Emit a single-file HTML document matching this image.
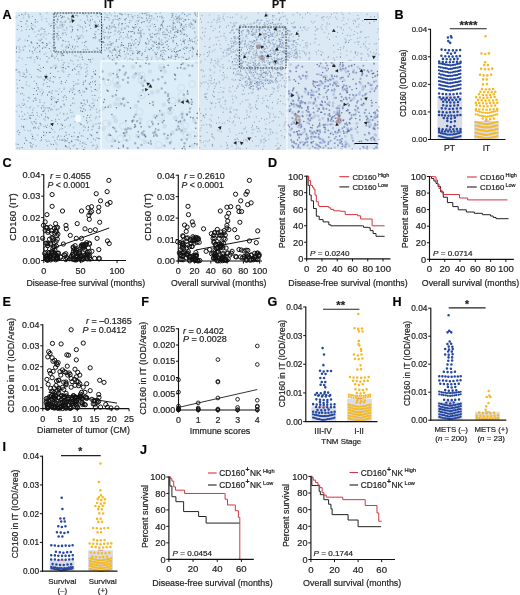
<!DOCTYPE html>
<html><head><meta charset="utf-8"><title>Figure</title>
<style>
html,body{margin:0;padding:0;background:#fff;}
body{width:520px;height:595px;overflow:hidden;}
svg{display:block;}
text{font-family:"Liberation Sans",Arial,sans-serif;fill:#222;stroke:#222;stroke-width:0.2px;}
</style></head><body>
<svg width="520" height="595" viewBox="0 0 520 595">
<defs><filter id="bl" x="-2%" y="-2%" width="104%" height="104%"><feGaussianBlur stdDeviation="0.35"/></filter></defs>
<g filter="url(#bl)">
<rect x="15.5" y="12" width="183" height="138" fill="#d8eaf5"/>
<rect x="198.5" y="12" width="180.5" height="138" fill="#dae9f4"/>
<path d="M29.18 85.92h0M26.56 82.02h0M94.92 22.07h0M93.26 125.78h0M24.48 130.11h0M42.25 28.64h0M164.53 37.26h0M27.43 20.67h0M43.66 79.49h0M175.34 55.48h0M136.88 20.81h0M20.11 75.75h0M39.54 46.42h0M174.6 23.54h0M173.25 50.64h0M43.47 36.64h0M63.82 13.06h0M139.07 19.9h0M87.41 67.16h0M131.44 21.03h0M53.99 34.74h0M25.57 12.53h0M34.47 62.31h0M61.91 60.09h0M100.81 78.79h0M34.6 59.44h0M166.85 34.62h0M114.86 16.2h0M63.52 62.74h0M21.08 50.78h0M82.36 42.7h0M159.62 58.05h0M162.78 32.53h0M115.86 30.44h0M166.36 41.41h0M69.32 45.45h0M63.2 69.9h0M181.62 60.97h0M111.28 15.06h0M117.28 57.16h0M117.97 46.54h0M40.96 29.16h0M29.2 45.47h0M55.96 142.99h0M77.72 39.32h0M147.43 15.17h0M96.16 14.98h0M35.07 48.88h0M157.78 49.55h0M26.47 106.78h0M161.9 23.97h0M28.13 130.7h0M64.75 30.2h0M59.4 27.49h0M25.17 40.14h0M71.51 116.55h0M107.02 36.87h0M19.31 46.81h0M89.65 60.11h0M62.52 34.86h0M67.31 45.68h0M99.62 34.08h0M72.34 61.35h0M52.58 81.65h0M64.08 24.8h0M23.58 15.58h0M195.22 32.98h0M133.07 18.5h0M163.82 31.59h0M21.67 30.73h0M105.05 12.95h0M135.99 21.55h0M61.9 22.7h0M148.74 40.61h0M71.4 90.28h0M37.57 134.93h0M97.8 49.31h0M188.1 41.37h0M16.65 79.86h0M70.96 31.78h0M73.53 127.61h0M68.75 63.49h0M93.91 50.2h0M34.51 126.85h0M186.28 46.66h0M109 38.51h0M133.3 51.71h0M184.67 29.94h0M193.69 48.14h0M70.75 88.85h0M46.45 34.65h0M41.41 38.86h0M78.24 24.98h0M173.04 42.09h0M61.22 67.27h0M61.22 27.44h0M99.23 88.06h0M158.38 44.36h0M133.48 54.12h0M125.39 13.93h0M71.95 15.48h0M22.21 58.81h0M140.23 39.64h0M192.51 55.21h0M69.68 142.91h0M50.09 43.1h0M41.83 19.6h0M151.83 16.87h0M84.91 63.72h0M46.81 12.89h0M79.97 143.41h0M191.5 40.91h0M24.96 77.36h0M183.35 38.94h0M179.25 16.65h0M128.29 48.42h0M73.6 50.26h0M187.67 15.82h0M86.35 46.89h0M61.01 21.37h0M31.3 25.71h0M38.05 127.7h0M52.25 46.4h0M108.33 44.2h0M182.42 18.03h0M83.1 31.87h0M53.03 14.06h0M139.45 37.86h0M27.52 26.39h0M45.79 107.77h0M72.85 90.11h0M93.12 124.89h0M181.58 24.7h0M83.49 81.61h0M191.97 39.54h0M25.71 139.38h0M45.17 120.16h0M49.3 42.38h0M22.94 127.33h0M93.48 102.76h0M105.09 44.73h0M102.13 27.17h0M94.37 25.06h0M108.85 18.09h0M109.09 19.93h0M84.77 142.77h0M44.9 135.33h0M164.44 32.17h0M183.42 41.04h0M108.09 56.21h0M158.85 28.27h0M87.75 121.78h0M151.33 19.12h0M16.33 17.13h0M178.99 30.59h0M134.87 15.55h0M80.6 27.07h0M53.16 97.98h0M40.52 140.81h0M61.23 136.28h0M26.63 119.21h0M72.31 53.64h0M100.68 114.12h0M57.12 26.92h0M64.41 88.37h0M176.17 14.59h0M151.8 57.28h0M54.58 97.8h0M181.76 32.31h0M35.42 139.77h0M41.82 16.44h0M150.09 21.51h0M178.21 21.53h0M53.44 27.84h0M53.31 56.22h0M19.81 47.67h0M128.53 16.74h0M95.43 118.4h0M172.93 24.95h0M47.01 12.68h0M49.58 80.26h0M167.39 48.2h0M106.69 27.56h0M31.68 134.22h0M79.42 57.25h0M121.41 29.77h0M177.09 45.1h0M44.14 33.87h0M75.43 84.04h0M51.71 99.9h0M53.57 65.7h0M41.81 95.21h0M72.97 98.57h0M130.59 46.76h0M98.85 97.65h0M114.89 34.54h0M54.24 106.26h0M80.7 20.26h0M88.74 14.32h0M92.54 108.16h0M57.13 144.55h0M101.19 52.82h0M38.78 126.72h0M170.82 49.14h0M62.15 70.88h0M16.49 111.39h0M60.58 53.85h0M158.69 31.74h0M131.24 14.55h0M34.48 32.05h0M157.29 59.96h0M168.66 39.54h0M58.62 31.59h0M26.64 76.49h0M173.04 13.41h0M190.83 22.83h0M131.77 16.41h0M179.36 17.14h0M129.8 58.89h0M156.24 41.37h0M69.3 125.9h0M107.68 49.72h0M76.22 55.94h0M115.26 19.31h0M139.94 41.61h0M99.33 116.99h0M62.96 53.88h0M185.96 19.98h0M54.63 33.29h0M16.87 106.18h0M191.88 24.58h0M60.09 113h0M146.53 14.06h0M72.61 112.43h0M82.9 91.27h0M139.19 32.35h0M125.41 54.78h0M67.56 12.73h0M177.51 18.29h0M100.69 40.8h0M123.26 38.41h0M48.89 108.55h0M159.3 33.89h0M78.78 83.67h0M62.23 17.69h0M48.89 23.96h0M190.59 47.74h0M87.55 73.92h0M23.03 47.55h0M139.19 53.43h0M153.94 26.94h0M62.78 29.51h0M46.68 45.17h0M139.33 14.23h0M177.74 31.65h0M41.98 42.87h0M174.47 49h0M76.88 35.49h0M73.89 136.23h0M194.11 20.29h0M137.63 41.43h0M68.09 47.82h0M184.36 25.87h0M179.11 20.38h0M69.42 146.57h0M162.88 59.2h0M55.72 90.77h0M51.8 23.36h0M27.96 112.88h0M147.34 20.09h0M105.73 14.62h0M49.86 126.43h0M16.84 83.72h0M109.84 29.05h0M56.71 37.49h0M61.58 124.45h0M33.56 108.26h0M66.89 29.22h0M157.4 58.88h0M170.27 19.84h0M92.83 99.18h0M112.61 21.99h0M107.87 15.35h0M177 17.21h0M64.37 105.45h0M61.61 83.78h0M189.06 51.89h0M133.85 28.99h0M100.89 85.63h0M38.55 30.5h0M89.99 52h0M52.62 109.82h0M72.51 45.69h0M59.41 88.76h0M67.84 147.79h0M156.53 34.22h0M150.43 33.67h0M182.48 29.94h0M99.34 111.56h0M87.1 88.58h0M71.33 32.36h0M121.85 24.55h0M190.49 40.49h0M181.72 13.96h0M111.6 26.06h0M107.89 38.27h0M90.88 120.41h0M141.71 13.04h0M35.41 26.21h0M162.8 21.01h0M156.25 56.73h0M80.4 35.71h0M79.5 74.13h0M171.56 55.63h0M164.49 54.1h0M47.57 61.6h0M192.82 52.33h0M36.91 85.62h0M89.38 21.47h0M166.3 60.62h0M50.8 51.35h0M22.35 103.51h0M44.37 109.2h0M65.08 126.9h0M84.59 143.8h0M54.68 132.02h0M119.32 55.08h0M74.43 103.3h0M70.05 21.53h0M40.05 50.38h0M61.21 128.5h0M130.45 37.39h0M23.36 17.98h0M52.05 54.02h0M146.43 47.4h0M140.55 60.32h0M24.62 45.99h0M160.04 41.29h0M152.41 24.3h0M39.23 116.88h0M115 46.71h0M81.12 68.89h0M138 45.09h0M41.82 89.67h0M36.84 52.14h0M53.57 20.77h0M51.87 108.62h0M36.56 56.95h0M82.06 35.53h0M118.58 27.41h0M95.03 38.5h0M61.76 46.2h0M83.21 126.4h0M30.6 106.75h0M96.66 145.36h0M23.27 72.71h0M147.58 12.88h0M92.66 58.9h0M45.93 53.02h0M118.53 60.19h0M31.48 56.85h0M163.63 20.72h0M126.87 53.19h0M83.71 92.07h0M115.76 27.88h0M62.14 25.51h0M57.23 90.96h0M90.26 22.57h0M147.33 26.49h0M157.26 20.38h0M83.77 14.58h0M174.48 35.52h0M166.26 29.31h0M23.92 95.22h0M121.81 28.06h0M36.1 122.19h0M116.87 52.23h0M188.68 14.39h0M161.68 17.36h0M102.59 34.18h0" stroke="#b9cddc" stroke-width="2" stroke-linecap="round" stroke-opacity="0.85"/>
<path d="M29.81 57.61h0M46.89 61.95h0M17.09 91.85h0M65.63 49.95h0M58.74 60.35h0M17.32 131.82h0M97.08 90.42h0M46.74 21.59h0M186.61 59.14h0M122.17 23.46h0M66.21 47.78h0M55.73 67.24h0M125.39 23.37h0M175.34 59.24h0M89.77 105.52h0M26.46 69.26h0M129.99 58.33h0M124.81 47.71h0M195.73 20.17h0M147.79 57.6h0M32.36 124.02h0M150.88 47.82h0M40 13.74h0M196.09 43.76h0M32.36 16.33h0M49.09 141.25h0M183.71 34.7h0M180.44 27.27h0M27.91 100.93h0M173.26 20.72h0M130.14 43.2h0M63.74 71.93h0M70.32 148.72h0M119.65 33.97h0M174.21 49.12h0M165.76 51.21h0M173.13 37.47h0M197.06 53.27h0M36.3 145.98h0M181.91 33.16h0M141.48 17.69h0M58.16 71.48h0M19.63 148.24h0M175.9 29h0M40.72 71.2h0M140.74 32.77h0M107.13 27.89h0M149.11 49.9h0M64.17 21.94h0M92.29 145.79h0M86.15 68.67h0M197.7 13.22h0M184.58 47.39h0M84.61 45.48h0M181.35 19.28h0M73.44 145.61h0M127.48 48.8h0M102.74 42.81h0M47.37 125.1h0M173.94 18.43h0M44 46.95h0M98.41 24.56h0M43.28 105.68h0M110.77 45.06h0M77.9 64.72h0M52.56 90.67h0M48.47 110.89h0M163.57 60.77h0M137.14 57.63h0M20.66 93.71h0M100.12 127.52h0M118.72 20.04h0M17.1 147.95h0M63.75 55.39h0M92.48 19.51h0M62.79 40.18h0M161.86 39.94h0M117.22 19.51h0M96.97 132.79h0M94.94 100.08h0M173 22.35h0M138.84 52.9h0M168.57 32.47h0M53.66 26.32h0M135.92 47.79h0M140.84 33.71h0M142.62 18.22h0M69.44 44.38h0M74.01 89.3h0M181.97 56.94h0M87.25 17.01h0M132.62 43.1h0M94.23 105.51h0M166.79 29.23h0M114.41 24.62h0M57.35 139.17h0M76.63 74.1h0M151.11 37h0M70.28 22.01h0M109.43 25.82h0M40.02 91.68h0M84.2 103.35h0M46.88 141.49h0M37.4 76.59h0M51.98 67.81h0M152.51 33.55h0M69.14 134.5h0M121.29 44.55h0M164.27 59.36h0M100.05 138.66h0M139.54 33.22h0M41.55 39.65h0M131.82 39.77h0M146.57 60.34h0M159.32 47.02h0M58.24 39.63h0M160.32 13.12h0M92.2 95.35h0M77.05 41.77h0M37.97 106.06h0M165.77 37.72h0M167.17 34.72h0M98.73 123.39h0M80.12 26.32h0M29.81 97.99h0M82.2 146.24h0M178.24 32.3h0M120.97 18.89h0M154.77 52.39h0M66.5 34.68h0M45.51 113.65h0M72.78 19.83h0M51.92 56.46h0M35.73 48.15h0M86.16 144.51h0M53.12 137h0M152.98 50.23h0M130.7 48.08h0M80.37 141.27h0M60.29 22.07h0M163.01 27.74h0M87.45 122.89h0M40.31 58.91h0M120.42 50.01h0M127.45 50.19h0M54.78 43.17h0M81.47 108.32h0M168.62 57.04h0M130.52 31.51h0M162.94 17.93h0M55.65 121.21h0M21.55 119.1h0M195.5 22.28h0M50.56 67.69h0M146.95 21.09h0M130.69 48.64h0M71.65 18.56h0M98.82 26.49h0M44.01 119.01h0M54.09 47.02h0M40.36 14.26h0M85.64 26.75h0M38.98 39.89h0M25.79 76.98h0M162.1 17.71h0M59.76 140h0M183.31 48.52h0M19.32 116.23h0M162.89 34.81h0M182.78 12.81h0M68.96 66.88h0M151.59 15.8h0M134.31 40.88h0M155.92 13.45h0M175.82 37.13h0M96.4 109.29h0M70.7 60.24h0M65.9 46.72h0M183.6 57.53h0M112.83 26.87h0M73.09 98.4h0M196.13 36.65h0M153.07 46.54h0M21.04 107.19h0M142.47 54.13h0M28.18 14.49h0M41.89 27.96h0M156.04 36.87h0M96.98 112.28h0M185.68 59.4h0M21.59 126.04h0M66.53 13.84h0M180.69 34.15h0M56.63 21.38h0M82.18 111.5h0M159.41 46.98h0M111.2 27.77h0M160.87 51.58h0M155.19 43.19h0M55.86 65.13h0M58.74 16.53h0M33.06 28.63h0M47.63 44.11h0M37.53 21.8h0M172.14 27.58h0M111.52 45.34h0M173.37 41.6h0M64.29 139.1h0M149.1 22.7h0M103.65 37.16h0M134.51 32.37h0M82.93 136.17h0M30.92 42.22h0M95.9 31.75h0M89.16 105.54h0M188.61 44.43h0M74.56 68.26h0M137.7 15.64h0M45.5 125.94h0M126.57 47.83h0M58.64 35.45h0M64.95 141.56h0M25.39 137.82h0M19.19 52.18h0M119.8 37.37h0M62.53 44.91h0M159 44.41h0M190.34 40.88h0M155.57 29.98h0M55.12 48.95h0M40.75 68.14h0M95.57 36.53h0M19.21 105.11h0M155.45 53.72h0M65.58 22.1h0M47.53 107.84h0M195.67 15.15h0M77.03 84.06h0M91.96 78.1h0M26.01 24h0M78.19 79.88h0M44.01 107.39h0M146.5 43.93h0M161.96 25.41h0M160.01 44.18h0M51.08 92.3h0M131.38 45.51h0M21.62 111.74h0M72.63 103.26h0M160.57 54.93h0M147.26 20.12h0M100.04 39.59h0M35.33 22.1h0M104 47.11h0M56.38 56.1h0M128.61 26.88h0M131.9 50.67h0M100.79 97.35h0M95.6 24.24h0M33.12 144.5h0M68.42 117.71h0M35.39 22.18h0M47.61 117.3h0M77.52 29.39h0M192.86 28.53h0M149.59 30.26h0M190.4 27.16h0M77.67 46.47h0M171.52 56.51h0M151.54 59.3h0M120.63 13.93h0M64.41 62.62h0M80.22 64.32h0M57.34 137.11h0M163.97 47.19h0M85.28 127.54h0M114.12 58.59h0M175.95 31.56h0M77.96 46.66h0M57.33 22.18h0M150.88 39.69h0M142.65 29.61h0M22.35 93.45h0M161.91 42.5h0M184.16 40.91h0M117.91 32.18h0M63.16 50.31h0M152.2 44.98h0M110.04 36.54h0M180.55 40.17h0M145.32 49.84h0M184.37 19.7h0M96.56 24.33h0M52.19 34.59h0M128.51 54.04h0M55.77 24.14h0M73.47 81.62h0M52.03 93.6h0M120.21 13.38h0M161.69 16.16h0M159.05 48.2h0M114.09 50.29h0M165.5 34.45h0M19.96 38.96h0M162.61 32.62h0M26.18 29.52h0M48.74 33.36h0M150.17 20.57h0M139.89 17.1h0M109.7 13.27h0M73.57 64.09h0M73.93 116.29h0M127.18 34.21h0M104.95 50.19h0M185.87 24.46h0M34.73 50.4h0M55.04 102.14h0M102.04 28.75h0M42.37 105.6h0M39.87 99.75h0M61.34 124.15h0M102.98 24.4h0M178.57 17.21h0M78.47 140.29h0M40.87 124.11h0M49.84 81.02h0M45.81 139.9h0M159.03 46.78h0M184.03 34.49h0M40.95 76.93h0M194.66 31.73h0M73.12 16.43h0M81.58 95.36h0M53.45 82.02h0M145.8 12.74h0M93.63 145.26h0M119.46 13.71h0M18.38 40.27h0M167.48 26.43h0M74.88 144.9h0M142.93 21.72h0M194.58 27.64h0M65.21 32.77h0M81.34 135.81h0M41.78 34.17h0M91.11 86.97h0M26.57 70.4h0M153.74 45.64h0M59.95 25.18h0M125.93 37.29h0M30.95 57.93h0M44.16 54.33h0M46.21 18.72h0M129.78 20.5h0M32.65 136.16h0M56.54 67.08h0M94.39 33.84h0M34.18 81.32h0M51.31 104.27h0M163.2 52.5h0M104.03 29.91h0M36.55 56.62h0M66.4 146.51h0M85.27 104.5h0M197.34 56.11h0M118.99 39.43h0M103.9 58.72h0M92.22 103.49h0M112.79 50.28h0M84.28 52.28h0M149.06 41.67h0M81.15 54.48h0M65.65 20.84h0M57.73 58.66h0M83.21 49.47h0M73.16 145.97h0M171.2 57.92h0M124.34 47.47h0M86.99 64.46h0M83.66 116.79h0M181.49 44.47h0M120.59 56.61h0M108.83 29.26h0M72.66 69.55h0M59.75 129.85h0M25.9 64.6h0M96.16 148.54h0M100.06 41.61h0M33.02 24.96h0M94.73 82.07h0M46.8 82.45h0M83.67 130.48h0M31.37 143.37h0M81.68 67.58h0M99.22 126.47h0M149.5 16.44h0M63.09 100.81h0M127.57 36.02h0M73.15 87.94h0M134.81 27.09h0M148.51 49.16h0M18.87 134.47h0M172.96 40.32h0M77.67 16.07h0M37.99 34.38h0M160.84 50.99h0M61.1 107.72h0M89.9 84.38h0M159.23 39.61h0M80.3 123.81h0M66.23 99.58h0M84.59 91.77h0M157.46 52.51h0M50.42 26.3h0M108.74 32.93h0M49.3 91.61h0M185.25 39.8h0M55.61 119.51h0M148.3 43.77h0M25.19 46.53h0M61.99 24.32h0M61.57 53.62h0M36.76 43.11h0M22.67 116.2h0M89.95 134.61h0M120.62 46.08h0M173.38 23.44h0M101.54 30.44h0M19.99 73h0M124.69 58.63h0M138 51.81h0M37.03 112.67h0M186.4 15.95h0M83.1 37.12h0M85.72 72.14h0M192.32 56.58h0M66.74 27.51h0M97.71 132.23h0M96.17 117.01h0M43.78 83.64h0M96.87 137.94h0M184.19 27.46h0M146.29 15.15h0M39.05 77.35h0M43.5 42.98h0M40.92 125h0M24.54 114.18h0M173.12 26.26h0M66.56 80.57h0M95.55 51.08h0M31.57 122.26h0M57.66 28.25h0M91.03 134.78h0M187.68 47.73h0M30.47 130.77h0M63.16 96.92h0M100.18 110.26h0M136.24 26.82h0M50.78 144.04h0M64.72 120.38h0M54.59 58.61h0M44.17 110.73h0M170.32 57.59h0M71.08 49.15h0M18.2 72.17h0M18.3 130.53h0M16.08 144.07h0M62.04 15.83h0M38.68 128.7h0M114.24 48.92h0M75.35 139.61h0M100.05 116.57h0M39.23 31.1h0M47.57 145.64h0M29.83 74.5h0M122.7 45.08h0M107.98 56.75h0M197.37 40.25h0M18.19 25.35h0M121.63 14.22h0M63.62 97.54h0M154.05 18.77h0M137.03 50.39h0M74.31 132.56h0M159.83 16.73h0M161.66 45.12h0M126.22 57.09h0M60.99 83.2h0M78.98 122.57h0M19.39 49.59h0M186.42 34.85h0M27.69 57.64h0M121.63 29.19h0M108.33 32.11h0M165.38 42.2h0M163.49 43.89h0M119.17 50.26h0M114.79 31.04h0M177.84 45.69h0M138.52 29.19h0M155.47 54.47h0M67.29 118.21h0M164.39 34.37h0M79.52 133.04h0M29.36 115.64h0M137.53 23.93h0M97.82 16.76h0M39.15 65.25h0M67.36 113.77h0M63.07 26.63h0M155.86 33.95h0M109.72 51.92h0M84.11 126.03h0M32.2 146.49h0M82.53 27.22h0M61.51 55.71h0M53.67 19.86h0M59.02 119.4h0M70.95 21.67h0M135.09 43.24h0M104.65 17.18h0M129.85 50.75h0M58.39 37.97h0M58.28 108.99h0M84.9 147.65h0M175.67 16.58h0M86.67 117.97h0M156.36 42.38h0M51.99 55.07h0M121.12 36.19h0M37.25 115.42h0M118.13 47.42h0M190.08 14.3h0M74.43 39.69h0M179.47 15.77h0M65.56 41.56h0M82.83 28.88h0M61.51 91.73h0M147.78 59.56h0M126.72 26.01h0M177.45 17.1h0M51 98.33h0M194.82 38.21h0M23.5 50.06h0M43.1 84.87h0M160.65 25.7h0M172.7 29.84h0M190.43 26.52h0M147.63 55.98h0M90.73 115.35h0M115.21 15.95h0M190.12 23.8h0M164.28 50.2h0M184.05 49.56h0M91.22 142.17h0M149.17 18.29h0M19.02 57.5h0M38.56 69.79h0M70.9 112.39h0M39.47 70.84h0M94.67 89.35h0M87.19 70.98h0M192.88 24.88h0M68.04 76.24h0M172.15 28.17h0M128.22 26.16h0M148.91 29.18h0M78.36 90.99h0M96.01 123.93h0M147.06 57.8h0M189.23 57.36h0M132.15 59.43h0M38.61 89.29h0M109.78 47.39h0M66.17 119.68h0M46.11 38.85h0M54.89 58.02h0M93.44 138.71h0M85.4 49.7h0M99.85 84.65h0M114.89 12.83h0M94.83 21.95h0M75.48 46.55h0M135.01 28.05h0M62.6 128.63h0M70.07 26.31h0M140.09 51.15h0M31.79 147.42h0M127.46 60.44h0M95.35 140.01h0M108.94 37.11h0M36.17 36.35h0M23.63 126.33h0M158.31 30.15h0M44.26 102.78h0M40.35 35.06h0M37.4 47.49h0M175.27 56.62h0M113.95 26.32h0M43.97 126.47h0M163.8 59.04h0M80.29 107.5h0M161.76 54.31h0M51.51 144.6h0M32.38 138.52h0M25.41 13.96h0M157.76 33.41h0M156.2 33.91h0M170.68 32.89h0M74.58 48.27h0M29.7 29.44h0M56.37 15.71h0M26.28 84.86h0M68.04 17.99h0M128.15 38h0M104.88 36.58h0M17.14 60.9h0M124.78 27.89h0M77.53 136.97h0M186.46 26.73h0M64.01 89.31h0M175.62 47.67h0M33.3 138.55h0M142.77 60.23h0M172.32 15.87h0M120.63 32.54h0M95.96 37.85h0M32.81 110.21h0M176.45 36.41h0M19.37 71.62h0M29.66 107.65h0M75.03 55.77h0M74.97 121.6h0M34.48 98.42h0M183.1 26.9h0M93.04 37.99h0M117.33 57.51h0M173.72 40.36h0M195.11 21.44h0M28.98 17.51h0M52.81 129.79h0M114.62 48.53h0M16.73 46.69h0M35.85 119.26h0M130.78 55.34h0M77.97 60.3h0M16.77 69.7h0M160.1 29.05h0M109.94 44.64h0M37.91 57.02h0" stroke="#8ca3b8" stroke-width="1.4" stroke-linecap="round" stroke-opacity="0.85"/>
<path d="M30.94 115.33h0M26.98 72.08h0M177.56 54.87h0M119.19 23.02h0M72.66 29.39h0M128.69 43.66h0M87.84 49.35h0M160.22 29.86h0M56.46 102.65h0M19.63 80.2h0M63.12 64.86h0M16.45 48.12h0M75.01 69.29h0M58.46 135.88h0M84.79 21.93h0M29.83 117.9h0M186.36 48.13h0M138.55 44.51h0M34.24 121.64h0M152.94 41.24h0M46.83 45.62h0M135.42 24.52h0M30.63 118.37h0M154.32 42.15h0M56.25 109.73h0M64.03 104.18h0M72.11 26.92h0M28.84 36.02h0M86.71 30.8h0M40.15 40.74h0M67.62 138.29h0M66.16 134.96h0M62.92 33.14h0M174.67 35.06h0M99.76 76.89h0M195.25 21.94h0M180.71 31.49h0M159 37.99h0M195.21 14.11h0M33.29 115.32h0M184.43 43.1h0M57.42 19.03h0M80.57 110.7h0M35.31 19.68h0M173.33 29.54h0M125.02 28.71h0M172.12 13.91h0M193.03 48.42h0M173.74 27.76h0M56.51 101.97h0M121.74 45.19h0M48.97 92.24h0M108.38 55.53h0M68.55 47.57h0M112.92 43.1h0M55.51 47.65h0M110.19 51.04h0M154.76 24.46h0M107.07 17.4h0M144.24 13.52h0M175.46 26.91h0M49.07 57.98h0M99.74 50.25h0M146.08 43.8h0M65.41 145.61h0M156.48 54.37h0M49.31 107.78h0M85.89 88.15h0M171.64 51.27h0M90.74 62.04h0M106.52 47.95h0M137.98 59.21h0M109.63 26.79h0M185.53 19.72h0M178.93 57.24h0M51.5 99.51h0M26.76 20.95h0M30.06 142.65h0M190.2 50.49h0M103.1 31.83h0M26.75 140.6h0M176.95 18.69h0M42.58 48.17h0M89.23 83.84h0M189.46 38.58h0M23.19 105.2h0M184.76 53.62h0M73.78 85.58h0M31.63 27.88h0M78.04 136.9h0M60.73 37.56h0M83.97 100.03h0M83.71 82.77h0M95.41 70.7h0M115.75 50.14h0M69.5 91.52h0M167.19 41.13h0M116.99 57.11h0M52.97 37.9h0M162.05 44.31h0M106.44 27.94h0M92.5 81.74h0M116.55 39.93h0M149.84 34.79h0M19.12 15.49h0M23.64 126.91h0M55.45 68.13h0M121.72 42.51h0M188.89 58.83h0M21.79 14.33h0M33.71 127.88h0M176.55 43.33h0M90.95 107.03h0M114.82 60.92h0M173.63 37.62h0M81.84 103.22h0M18.16 144.34h0M27.64 40.64h0M65.43 82.52h0M71.76 136.43h0M58.45 94.37h0M115.83 54.89h0M163.49 21.07h0M66.54 97.26h0M46.65 127.35h0M82.75 142.93h0M189.86 40.03h0M154.68 34.61h0M17.28 29.48h0M31.37 77.05h0M169.52 35.95h0M46.93 56.47h0M51.68 96.63h0M131.05 45.17h0M146.08 57.57h0M108.86 48.06h0M63.22 40.75h0M149.84 49.34h0M36.49 83.59h0M138.07 52.14h0M129.32 22.46h0M176.99 54.2h0M168.31 46.52h0M53.44 76.54h0M62.41 125.4h0M62.8 140.12h0M139.92 27.62h0M50.9 109.87h0M111.91 22.9h0M77.86 29.99h0M59.82 77.58h0M24.15 74.13h0M177.78 30.14h0M160.63 55.72h0M72.41 70.25h0M138.48 21.07h0M64.92 95.79h0M178.04 51.15h0M183.35 29.75h0M196.64 54.11h0M61.44 81.33h0M44.14 29.37h0M32.54 29.25h0M70.57 124.85h0M24.47 143.29h0M33.19 101.05h0M102.74 41.54h0M109.96 41.77h0M63.15 55.46h0M184.28 34.37h0M162.28 56.34h0M83.2 13.45h0M77.93 36.78h0M39.99 101.97h0M60.95 106.46h0M175.85 52.76h0M42.36 93.57h0M152.36 37.12h0M23.15 88.04h0M45.02 31.75h0M162.61 26.01h0M143.98 33.72h0M23.05 76.41h0M142.41 13.77h0M21.98 87.48h0M77 66.5h0M99.07 128.35h0M36.58 90.64h0M181.55 24.73h0M173.86 23.07h0M160.74 28.51h0M186.87 59.42h0M42.47 42.58h0M16.03 69.85h0M40.06 123.3h0M89.67 25.14h0M83.78 149.44h0M95.47 84.65h0M118.68 24.84h0M85.39 110.01h0M128.3 14.69h0M19.79 132.56h0M171.77 17.27h0M141.1 37.04h0M192.32 47.17h0M92.13 76.56h0M29.58 50.82h0M118.68 55.2h0M23.78 99.73h0M51.95 120.62h0M99.56 21.06h0M184.42 14.36h0M77.05 148.69h0M37.4 43.3h0M46.54 132.63h0M77.19 139.79h0M103.92 42.4h0M39.74 51.63h0M112.39 55.61h0M188.75 19.33h0M41.4 114.86h0M162.16 58.79h0M183.72 21.23h0M98.16 29.58h0M95.48 74.33h0M70.24 109.95h0M41.53 137.42h0M111.96 52.82h0M88.17 130.01h0M111.2 43.68h0M177.19 22.01h0M182.57 28.45h0M83.22 84.58h0M168.63 49.48h0M87.44 101.87h0M91.05 16.24h0M47.69 78.95h0M57.85 101.56h0M65.23 140.14h0M69.41 91.7h0M56.94 35.93h0M29 16.09h0M72.41 30.84h0M177.08 31.7h0M28.25 97.24h0M56.22 149.01h0M196.75 54.62h0M94.88 95.34h0M48.29 118.16h0M70.74 105.37h0M197.37 50.9h0M82.7 59.37h0M85.51 80.9h0M97.38 100.22h0M49.61 86.72h0M63.78 113.89h0M167.13 30.56h0M72.53 46.93h0M187.05 36.06h0M83.89 100.18h0M137.91 33.1h0M24.75 104.12h0M90.53 20.13h0M88.38 127.14h0M78.72 71.84h0M50.18 77.92h0M104.53 38.19h0M139.35 42.81h0M99.21 40.07h0M189.06 25.01h0M51.56 128.26h0M104.7 19.63h0M151.44 48.5h0M124.79 19.25h0M122.2 14.7h0M55.95 16.38h0M47.74 86.51h0M100.55 14.17h0M62.14 25.03h0M43.47 67.41h0M175.41 56.85h0M191.66 24.02h0M62.45 16.8h0M41.58 139.82h0M94.97 26.94h0M68.95 142.45h0M193.05 49.5h0M179.67 22.78h0M124.36 51.39h0M51.25 25.54h0M115.03 27.05h0M93.95 37.52h0M71.7 140.89h0M56.15 101.65h0M133.06 60.04h0M180.1 18.75h0M135.93 39.4h0M140.95 35.14h0M83.79 108.94h0M46.31 75h0M102.35 26.06h0M54.77 140.7h0M128.5 45.89h0M176.01 19.77h0M35.36 127.86h0M69.1 74.36h0M51.86 56h0M119.27 18.44h0M138.41 30.35h0M37.56 58.47h0M197.14 15.97h0M33.45 94.46h0M64.39 136.22h0M91.77 135.65h0M110.79 32.37h0M68.93 19.01h0M76.01 15.4h0M170.67 31.07h0M169.87 26.08h0M51.19 124.04h0M56.91 14.18h0M125.17 19.95h0M62.68 67.77h0M144.96 51.54h0M107.68 44.98h0M79.51 90.62h0M86.55 89.16h0M49.28 132.37h0M180.94 25.51h0M176.78 56.21h0M35.93 100.13h0M142.2 53.24h0M163.18 47.62h0M57.29 115h0M194.91 12.84h0M113.12 19.88h0M43.25 92h0M85.48 76.26h0M30.69 145.81h0M56.6 51.05h0M81.12 124.39h0M87.12 100.02h0M91.93 129.77h0M112.48 59.87h0M82.83 105.67h0M114.7 49.45h0M128.55 31.67h0M95.14 81.09h0M100.81 122.6h0M90.74 28.25h0M21.45 26.62h0M179.03 18.99h0M33.04 53.04h0M68.71 41.71h0M162.92 50.23h0M113.12 60.71h0M101.8 38.15h0M89.71 117.48h0M43.56 135.22h0M177.52 32.37h0M123.48 45.47h0M140.88 30.9h0M122.07 23.66h0M98.83 138.43h0M44.29 80.01h0M86.51 120.21h0M192.6 41.57h0M167.02 44.55h0M65.84 68.55h0M184.32 34.29h0M63.55 67.53h0M87.68 115.42h0M133.52 27.57h0M57.7 123.74h0M96.73 132.73h0M97.66 146.81h0M82.17 57.09h0M144.21 21.61h0M146.5 18.08h0M90.27 59.58h0M156.99 47.39h0M150.88 36.9h0M58.09 99.41h0M123.3 32.47h0M133.8 44.89h0M78.7 38.69h0M105.12 32.29h0M149.26 15.06h0M90.24 109.78h0M103.08 41.67h0M58.01 19.69h0M145.61 42.63h0M95.52 74.62h0M41.37 107.89h0M45.67 116.94h0M43.77 132.13h0M57.72 34.03h0M157.53 16.75h0M95.51 25.36h0M174.49 51.55h0M92.95 126.7h0M60.55 15.32h0M116.12 41.51h0M131.19 36.17h0M119.87 52.96h0M80.01 92.71h0M100.66 92.02h0M37.6 69.25h0M95.08 34.47h0M156.66 44.48h0M147.52 38.7h0M119.02 31.11h0M79.97 66.78h0M176.58 51.58h0M119.28 51.44h0M62.51 53.68h0M37.41 94.08h0M31.91 43.06h0M32.54 136.53h0M180.46 50.09h0M183.01 41.78h0M94.9 73.88h0M65.94 132.35h0M70.93 12.7h0M66.99 140.83h0M139.5 51.69h0M49.29 48.57h0M119.9 55.6h0M17.71 88.08h0M117.43 16.01h0M46.59 43.52h0M168.71 57.33h0M146.33 60.68h0M34.18 88.31h0M67.35 53.26h0M79.9 37.88h0M32.25 51.47h0M91.65 91h0M38 87.69h0M22.14 147.59h0M61.76 140.03h0M31.38 42.01h0M16.43 51.88h0M197.74 54.32h0M71.38 36.97h0M93.6 71.73h0M61.28 17.74h0M126.12 18.57h0M97.12 48.07h0M86.93 15.73h0M68.12 66.58h0M64.04 16.82h0M72.61 92.21h0M137.41 53.44h0M174.79 32.24h0M45.86 47.57h0M39.24 45.65h0M80.98 102.81h0M112.04 59.87h0M150.14 26h0M32.23 112.75h0M132.62 53.4h0M119.17 51.6h0M24.18 119.41h0M87.77 19.74h0M179.49 50.48h0M134.26 33.39h0M55.08 76.99h0M85.98 41.44h0M141.66 55.27h0M57 33.4h0M132.55 27.01h0M47.53 94.94h0M85.64 23.3h0M82.67 111.38h0M95.52 89.6h0M101.65 52.84h0M194.67 41.83h0M88.64 59.47h0M35.97 123.48h0M141.09 36.55h0M158.74 43.42h0M86.16 76.06h0M57.32 53.97h0M50.38 132.21h0M168.75 57.65h0M132.81 16.78h0M78.43 136.88h0M161.36 24.54h0M159.33 43.12h0M71.81 141.79h0M21.03 21.39h0M131.4 31.76h0M171.3 37.98h0M31.59 23.33h0M109.79 58.05h0M35.86 98h0M183.94 41.17h0M50.32 73.4h0M79.96 51.98h0M193.11 20.12h0M74.76 94.38h0M97.53 13.13h0M181.21 23.79h0M137.87 17.47h0M53.61 144.34h0M90.47 82.26h0M155.39 26.49h0M84.89 42.49h0M87.77 138.64h0M43.05 111.39h0M162.73 22.62h0M172.85 15.84h0M93.72 106.04h0M33.29 47h0M132.82 31.43h0M141.41 22.68h0M65.77 146.56h0M180.57 30.8h0M100.26 123.85h0" stroke="#46596f" stroke-width="1.15" stroke-linecap="round" stroke-opacity="0.85"/>
<ellipse cx="78" cy="118.5" rx="3" ry="4" fill="#f4fafd"/>
<rect x="101" y="61" width="97.5" height="89" fill="#dcedf7"/>
<path d="M137.49 136.07h0M163.93 104.83h0M103.49 128.83h0M141.63 82.8h0M138.86 74.02h0M182.3 131.76h0M194.24 120.99h0M117.39 98.98h0M197.08 62.08h0M134.68 75.05h0M118.31 86.07h0M161.11 67.89h0M184.81 99.64h0M118.53 70.85h0M152.11 92.56h0M149.84 71.45h0M135.92 106.23h0M110.04 105.88h0M182.28 113.61h0M114.34 117.24h0M109.91 74.43h0M102.91 108.41h0M118.96 86.39h0M113.51 140.32h0M115.87 121.01h0M179 101.32h0M157.64 91.16h0M180.18 121.99h0M109.44 123.58h0M115.44 104.09h0M119.52 104.38h0M164.57 126.17h0M133.07 66.78h0M145 142.01h0M154.71 116.2h0M175.12 117.83h0M192.61 145.53h0M172.54 132.62h0M115.54 85.16h0M169.89 112.79h0M184.33 129.73h0M133.65 76.99h0M164.81 71.71h0M149.27 86.12h0M140.31 119.23h0" stroke="#c9dbe9" stroke-width="4.5" stroke-linecap="round" stroke-opacity="0.9"/>
<path d="M158.26 115.25a3.4 3.4 0 1 0 6.8 0a3.4 3.4 0 1 0 -6.8 0M106.11 138.2a3.4 3.4 0 1 0 6.8 0a3.4 3.4 0 1 0 -6.8 0M164.74 139.29a3.4 3.4 0 1 0 6.8 0a3.4 3.4 0 1 0 -6.8 0M156.34 117.66a3.4 3.4 0 1 0 6.8 0a3.4 3.4 0 1 0 -6.8 0M181.44 125.93a3.4 3.4 0 1 0 6.8 0a3.4 3.4 0 1 0 -6.8 0M158.35 67.32a3.4 3.4 0 1 0 6.8 0a3.4 3.4 0 1 0 -6.8 0M102.78 123.5a3.4 3.4 0 1 0 6.8 0a3.4 3.4 0 1 0 -6.8 0M177.68 96.08a3.4 3.4 0 1 0 6.8 0a3.4 3.4 0 1 0 -6.8 0M119.77 100.63a3.4 3.4 0 1 0 6.8 0a3.4 3.4 0 1 0 -6.8 0M177.15 126.71a3.4 3.4 0 1 0 6.8 0a3.4 3.4 0 1 0 -6.8 0M112.48 80.73a3.4 3.4 0 1 0 6.8 0a3.4 3.4 0 1 0 -6.8 0M119.51 125.87a3.4 3.4 0 1 0 6.8 0a3.4 3.4 0 1 0 -6.8 0M123.43 137.76a3.4 3.4 0 1 0 6.8 0a3.4 3.4 0 1 0 -6.8 0M138.06 80.03a3.4 3.4 0 1 0 6.8 0a3.4 3.4 0 1 0 -6.8 0M138.4 75.61a3.4 3.4 0 1 0 6.8 0a3.4 3.4 0 1 0 -6.8 0M180.61 65.92a3.4 3.4 0 1 0 6.8 0a3.4 3.4 0 1 0 -6.8 0M138.52 95.43a3.4 3.4 0 1 0 6.8 0a3.4 3.4 0 1 0 -6.8 0M104.1 82.41a3.4 3.4 0 1 0 6.8 0a3.4 3.4 0 1 0 -6.8 0M190.61 135.3a3.4 3.4 0 1 0 6.8 0a3.4 3.4 0 1 0 -6.8 0M138.89 136.47a3.4 3.4 0 1 0 6.8 0a3.4 3.4 0 1 0 -6.8 0M183.25 135.18a3.4 3.4 0 1 0 6.8 0a3.4 3.4 0 1 0 -6.8 0M166.68 111.07a3.4 3.4 0 1 0 6.8 0a3.4 3.4 0 1 0 -6.8 0M147.15 123.46a3.4 3.4 0 1 0 6.8 0a3.4 3.4 0 1 0 -6.8 0M155.34 144.77a3.4 3.4 0 1 0 6.8 0a3.4 3.4 0 1 0 -6.8 0M117 138.57a3.4 3.4 0 1 0 6.8 0a3.4 3.4 0 1 0 -6.8 0M169.31 100.73a3.4 3.4 0 1 0 6.8 0a3.4 3.4 0 1 0 -6.8 0M177.78 87.76a3.4 3.4 0 1 0 6.8 0a3.4 3.4 0 1 0 -6.8 0M136.21 111.87a3.4 3.4 0 1 0 6.8 0a3.4 3.4 0 1 0 -6.8 0M188.86 84.13a3.4 3.4 0 1 0 6.8 0a3.4 3.4 0 1 0 -6.8 0M177.71 118.56a3.4 3.4 0 1 0 6.8 0a3.4 3.4 0 1 0 -6.8 0" fill="none" stroke="#cadbea" stroke-width="0.8"/>
<path d="M186.85 139.35h0M182.19 117.48h0M192.35 65.68h0M124.87 135.69h0M175.12 79.17h0M128.24 128.14h0M133.41 120.56h0M165.39 92.55h0M163.99 67.21h0M127.55 148.29h0M178.33 126.4h0M190.11 108.47h0M179.31 128.84h0M193.12 118.07h0M195.73 123.1h0M187.04 114.25h0M103.31 78.96h0M134.11 116.84h0M171.05 134.47h0M124.33 105.45h0M135.64 114.58h0M140.23 66.24h0M164.29 133.97h0M184.41 120.25h0M182.04 114.1h0M117.42 82.67h0M112.61 96.28h0M155.75 134.47h0M187.41 134.98h0M158.32 79.28h0M123.04 79.87h0M184.47 68.42h0M183.89 94.78h0M168.92 108.43h0M188.48 65.36h0M149.92 85.09h0M142.01 132.97h0M153.38 132.93h0M135.13 143.23h0M145.01 135.54h0M135.73 73.48h0M155.02 131.81h0M184.94 149.28h0M142.49 134.28h0M121.34 103.82h0M126.59 129.6h0M161.71 88.5h0M176.59 129.8h0M181.56 130.62h0M162.27 76.92h0M182.8 63.6h0M140.17 123.27h0M184.77 143.36h0M125.77 72.69h0M111.81 146.1h0M125.39 129.35h0M162.57 122.18h0M152.88 102.08h0M138 147.83h0M127.96 82.48h0M143.69 131.34h0M126.57 140.27h0M170.98 107.72h0M181.64 139.75h0M141.5 144.89h0M117.89 77.04h0M149.17 63.85h0M157.03 135.73h0M114.57 128.41h0M109.24 134.72h0M116.16 63.39h0M138.35 101.44h0M115.06 140.91h0M168.03 95.89h0M116.11 131.33h0M153.01 80.21h0M169.96 143.2h0M124.74 74.52h0M123.54 98.53h0M165.31 82.98h0M141.99 76.81h0M142.81 90.08h0M116.94 74.52h0M149.48 126.84h0M144.75 80.58h0M168.17 94.17h0M184.42 143.11h0M123.39 66.2h0M128.15 77.68h0M197.07 144.22h0M187.71 93.7h0M150.98 143.73h0M189.59 111.94h0M179.13 100.74h0M168.07 100.46h0M137.09 121.16h0M126.47 132.28h0M102.61 71.49h0M158.46 129.83h0M143.1 85.69h0M124.19 133.12h0M170.14 110.05h0M189.62 75.47h0M170.58 142.15h0M115.9 94.94h0M162.21 114.63h0M130.56 128.63h0M164.44 145.67h0M189.26 102.97h0M167.47 138.41h0" stroke="#93aac0" stroke-width="2.4" stroke-linecap="round" stroke-opacity="0.85"/>
<path d="M125.9 120.89h0M195.77 128.28h0M180.62 67.73h0M108.03 91.29h0M148.59 94.57h0M194.79 143.52h0M144.23 134.97h0M108.23 80.01h0M177.49 68.05h0M153.81 136.12h0M164.02 120.49h0M110.53 135.41h0M104.45 99.43h0M184.04 146.6h0M118.93 142.2h0M113.3 73.54h0M191.55 99.58h0M141.23 95.5h0M178.3 122.03h0M141.25 78.54h0M197.29 113.42h0M153.1 105.1h0M123.21 145.37h0M145.93 63.25h0M149.74 103.47h0M107.17 90.37h0M111.9 114.46h0M152.78 124.11h0M167.93 135.3h0M123.42 133.18h0M148.49 142.97h0M122.97 99.34h0M127.99 102.53h0M158.31 123.88h0M194.91 136.15h0M192.09 101.96h0M132.16 121.83h0M113.03 127.35h0M103.63 102.24h0M156.81 116.08h0M116.69 90.51h0M174.61 74.41h0M151.96 122.12h0M138.22 131.73h0M134.52 127.21h0M118.49 148.29h0M141.13 126.84h0M108.07 106.94h0M145.63 136.63h0M150.64 141.06h0M191.77 104.23h0M105.29 107.33h0M135.55 126.33h0M159.8 110.74h0M134.89 124.8h0M169.07 102.84h0M169.2 98.65h0M175.47 75.35h0M190.57 117.21h0M155.7 129.04h0M176.12 120.55h0M186.98 114.73h0M123.24 146.84h0M187.53 91.17h0M160.98 70.84h0M132.17 120.87h0M180.29 121.42h0M181.26 64.59h0M182.35 148.63h0M175.22 105.54h0M116.45 107.76h0M189.69 146.41h0M168.11 65.23h0M197.09 118h0M155.35 117.84h0M136.2 63.02h0M119.79 69.99h0M174.16 149.1h0M138.36 136.78h0M130.55 108.08h0" stroke="#566c84" stroke-width="1.6" stroke-linecap="round" stroke-opacity="0.85"/>
<path d="M285.01 73.63h0M257.34 78.64h0M278.12 28.39h0M252.54 85.7h0M268.17 60.46h0M279.27 72.91h0M378.22 29.02h0M306.06 43.49h0M264.65 43.4h0M263.73 27.41h0M241.97 133.21h0M263.85 48.52h0M290.37 34.18h0M236.32 114.31h0M357.13 55.26h0M226.07 40.47h0M269.88 115.66h0M282.11 40.42h0M260.05 46.8h0M316.4 38.84h0M346.1 39.9h0M350.95 51.7h0M258.86 76.75h0M274.8 73.41h0M253.93 22.69h0M259.42 28.87h0M210.58 102.47h0M275.15 36.99h0M217.7 64.27h0M210.66 126.96h0M276.41 35.44h0M243.84 129.1h0M322.96 52.73h0M229.21 128.97h0M283.82 42.28h0M211.46 26.4h0M265.36 141.02h0M239.97 72.92h0M275.72 43.57h0M253.27 64.67h0M234.57 116.14h0M309.57 57.59h0M326.98 22.79h0M271.18 66.94h0M248.5 31.74h0M289.48 34.67h0M303.93 47.35h0M243.18 53.1h0M248.18 78.83h0M202.21 27.75h0M228.22 147.66h0M251.62 76.12h0M289.47 38.44h0M232.42 96.03h0M212.35 102.68h0M211.38 115.13h0M209.55 14.78h0M256.98 38.81h0M217.81 99.13h0M316.7 30.22h0M224.22 33.42h0M236.24 43.81h0M247.06 111.88h0M232.82 41.32h0M271.63 80.89h0M283.12 114.42h0M287.31 19.88h0M232.94 65.12h0M279.96 31.59h0M342.5 20.42h0M286.53 131.32h0M314.99 38.63h0M228.05 54.3h0M309.7 53.65h0M286.35 18.78h0M228.86 60.89h0M224.51 123.02h0M296.09 49.78h0M202.02 38.98h0M360.81 53.66h0M310.04 13.6h0M259.16 55.63h0M273.5 91.93h0M261.43 140.99h0M238.77 57.31h0M200.24 130.29h0M244.7 54.17h0M241.29 31.76h0M223.24 56.21h0M252.15 129.7h0M327.39 37.34h0M276.35 82.53h0M323.38 19.97h0M248.17 63.7h0M293.13 36.69h0M273.4 114.27h0M233.55 51.61h0M266.89 52.47h0M287.83 33.03h0M258.04 27.2h0M209.71 69.06h0M285.18 16.02h0M242.32 40.27h0M253.24 92.1h0M252.82 33.4h0M324.52 32.47h0M256.24 101.81h0M317.73 28.94h0M248.96 87.65h0M369.42 43.81h0M238.46 74.17h0M260.12 77.62h0M250.38 24.4h0M245.25 40.52h0M277.4 72.9h0M205.49 93.93h0M277.64 86.63h0M235.29 96.13h0M273.01 16.73h0M250.4 60.15h0M255.38 56.2h0M209.96 46.7h0M262.12 56.1h0M328.45 18.62h0M230.91 107.42h0M224.33 75.24h0M236.35 142.5h0M368.51 36.87h0M337.95 43.94h0M354.78 20.29h0M211.97 133.88h0M242.43 85.53h0M296.89 51.11h0M271.94 48.43h0M272.56 62.27h0M258.58 128.5h0M302.37 50.9h0M222.3 92.13h0M282.2 60.79h0M267.97 14.46h0M327 17.01h0M277.18 138.66h0M262.81 58.5h0M200.67 82.77h0M256.38 84.22h0M354.1 57.39h0M280.91 24.31h0M285.69 104.4h0M327.57 24.27h0M215.08 67.25h0M272.09 77.13h0M229.93 131.68h0M236.04 38.6h0M271.23 23.27h0M244.16 54.98h0M278.5 68.79h0M370.73 16.77h0M255.51 32.5h0M240.05 39.36h0M280.24 39.63h0M334.16 51.98h0M250.03 66.66h0M234.2 64.55h0M281.95 64.16h0M231.52 45.99h0M239.09 141.8h0M238.82 59.61h0M253.59 41.72h0M341.67 12.59h0M359.02 24.52h0M270.7 56.2h0M246.22 81.1h0M260.88 69.84h0M255.11 60.67h0M252.23 30.95h0M214.33 72.47h0M368.66 56.39h0M210.09 38.22h0M261.18 72.42h0M249.85 33.68h0M267.41 106.67h0M285.66 86.58h0M232.98 102.71h0M282.05 33.22h0M250.33 41.61h0M252.12 92.98h0M274.69 37.06h0M264.77 138.41h0M256.69 20.65h0M348.36 19.41h0M286.54 80.53h0M252.63 80.63h0M209.02 86.48h0M225.02 104.22h0M305.38 43.06h0M213.77 45.07h0M224.46 50.15h0M361.25 57.89h0M288.43 53.58h0M257.78 74.78h0M249.16 46.93h0M262.23 28.34h0M226.42 108.04h0M264.44 72.62h0M288.33 60.11h0M346.75 50.76h0M306.73 47.84h0M360.72 47.14h0M219.41 122.51h0M227.24 77.57h0M251.28 49.91h0M249.8 23.96h0M222.23 75.36h0M279.01 31.24h0M236.69 73.28h0M265.93 23.84h0M304.91 28.82h0M199.2 140.49h0M276.89 31.21h0M262.81 82.83h0M259.71 27.62h0M249.05 106.97h0M224.04 14.09h0M211.69 22.23h0M206.88 93.48h0M239.49 56.55h0M252.23 43.2h0M255.31 41.27h0M220.22 70.67h0M243.15 38.01h0M217.77 130.55h0M292.91 44.79h0M276.4 48.31h0M205.58 97.66h0M373.86 52.91h0M249.35 62.82h0M273.14 39.86h0M283.82 126.25h0M247.22 24.12h0M272.83 39.91h0M256.44 29.6h0M234.89 91.06h0M217.14 22.64h0M278.44 39.34h0M243.38 61.63h0M247.53 38.14h0M265.7 72.81h0M277.88 90.93h0M220.16 44.49h0M277.1 32.53h0M252.35 89.51h0M254.9 32.7h0M235.17 125.21h0M300.26 57.74h0M240.28 38.13h0M269.3 20.26h0M306.99 45.94h0M278.43 147.94h0M349.36 27.64h0M284.4 50.66h0M223.2 16.43h0M366.92 19.77h0M285.36 60.56h0M273.96 88.75h0M292.53 44.86h0M232.05 79.39h0M277.24 30.06h0M236.65 146.06h0M263.68 44.2h0M257.28 109h0M258.41 45.5h0M205.52 140.83h0M286.79 110.97h0M282.07 46.67h0M255.34 41.77h0M254.77 58.02h0M279.01 87.46h0M280.16 75.44h0M285.27 59.94h0M294.73 26.98h0M230.46 66.93h0M263.46 49.23h0M254.87 80.61h0M237.63 68.18h0M353.03 20.71h0M245.89 140.15h0M269.83 54.21h0M251.61 92.94h0M220.97 106.98h0M215.15 28.44h0M267.9 62.29h0M240.85 63.68h0M205.18 31.97h0M248.28 69.7h0M275.29 81.38h0M270.85 129.41h0M326.55 29.08h0M336.76 57.05h0M248.3 43.75h0M248.18 137.52h0M213.93 65.52h0M295.28 27.33h0M227.67 16.83h0M261.13 59.21h0M253.69 76.64h0M248.51 30.91h0M216.18 84.57h0M261.84 20.05h0M260.24 59.33h0M221.34 58.9h0M269.01 139.33h0M272.81 20.11h0M257.67 42.38h0M297.35 56.21h0M237.45 71.3h0M276.66 133.13h0M250.83 28.52h0M265.03 34.85h0M269.21 37.33h0M205.66 114.39h0M249.73 82.38h0M276.23 18.78h0M246.9 75.1h0M267.81 63.03h0M248.54 52.22h0M282.33 43.02h0M344.75 38.62h0M276.78 27.44h0M255.72 41.55h0M250.9 79.49h0M253.37 34.81h0M314.59 42.46h0M220.64 105.31h0M231.54 46.13h0M218.43 61.87h0M281.02 44.21h0M260.08 131h0M247.37 30.51h0M268.73 83.46h0M203.44 116.45h0M293.36 55.72h0M217.77 58.78h0M258.24 82.88h0M260.79 20.34h0M205.12 59.34h0M378.88 54.55h0M265.94 124.08h0M259.47 88.81h0M229.84 109.04h0M357.1 19.26h0M263.96 142.42h0M236.86 49.18h0M246.57 110.31h0M233.98 68.58h0M254.15 58.22h0M248.97 116.7h0M377.5 32.32h0M297.3 44.21h0M275.04 80.76h0M326.09 26.57h0M285.93 118.34h0M286.37 77.37h0M268.6 135.31h0M253.82 129.46h0M276.05 44.21h0M210.24 75.86h0M199.5 54.56h0M274.89 51.55h0M239.09 79.77h0M263.91 35.42h0M315.36 30.79h0M340.36 27.37h0M277.56 59.75h0M265.48 25.75h0M224.04 56.53h0M278.74 84.96h0M252.29 69.5h0M226.84 77.27h0M217.74 18.54h0M238.11 43.63h0M271.7 53.13h0M273.49 53.42h0M277.87 143.23h0M226.28 109.22h0M251.68 23.82h0M260.69 142.57h0M219.43 101.71h0M245.38 84.97h0M279.37 125.26h0M259.03 56.85h0M277.47 69.66h0M209.23 80.46h0M272.01 68.34h0M272.75 19.5h0M241.43 16.14h0M234.76 61.11h0M200.51 62.71h0M226.91 145.33h0M201.08 142.47h0M336.96 13.26h0M289.03 48.33h0M210.04 119.23h0M263.21 80.05h0M340.53 53.64h0M229.08 90.92h0M203.79 54.11h0M333.81 58.02h0M308.93 59.2h0M240.89 77.99h0M282.15 78.38h0M202.71 76.53h0M365.64 41.69h0M265.93 33.95h0M252.45 133.16h0M256.04 81.37h0M245.65 99.9h0M230.73 50.37h0M272.75 35.64h0M283.71 48.45h0M246.09 85.7h0M233.78 80.26h0M303.88 51.49h0M252.13 58.67h0M268.65 62.64h0M210.87 83.3h0M259.2 63.78h0M291.93 40.28h0M307.32 42.73h0M259.44 74.02h0M292.78 26.54h0M259.36 82.32h0M246.48 36.03h0M209.3 51.03h0M241.4 17.79h0M210.7 75.42h0M297.12 54h0M239.58 83.72h0M254.62 22.64h0M281.74 54.67h0M264.01 146.05h0M234.66 42.58h0M268.94 29.09h0M288.85 46.22h0M253.7 64.92h0M272.66 132.24h0M255.44 36.68h0M263.8 100.67h0M351.42 29.84h0M374.73 43.85h0M201.09 128h0M278.9 45.71h0M245.48 43.59h0M261.47 53.95h0M346.95 55.3h0M215.81 37.48h0M261.98 74.84h0M285.51 83.44h0M358.27 27.01h0M281.08 37.56h0M217.02 20.74h0M215.09 49.74h0M363.57 44.17h0M235.3 139.76h0M359.99 37.47h0M200.97 60.79h0M253.43 29.09h0M262.93 85.98h0M210.05 124.73h0M265.23 44.96h0M238.04 42.68h0M242.25 101.59h0M293.09 23.31h0M247.37 84.05h0M271.11 55.55h0M249.32 103.8h0M346.02 41.43h0M207.76 141.62h0M269.72 117.5h0M203.89 124.87h0M274.64 30.64h0M261.74 79.92h0M265.33 133.29h0M273.54 63.06h0M330.09 16.67h0M377.63 14.7h0M255.45 71.26h0M232.38 122.82h0M239.67 50.18h0M250.65 111.71h0M362.15 53.63h0M237.43 36.85h0M313.07 23.05h0M269.5 81.51h0M307.65 45.87h0M276.32 26.21h0M265.68 79.69h0M286.08 86.98h0M256.6 47.09h0M263.26 50.28h0M316.71 54.37h0M250.23 86.72h0M293.3 47.17h0M308.53 27.91h0M215.24 106.98h0M283.03 57.45h0M269.14 51.14h0M256.64 42.8h0M275.58 24.06h0M270.78 62.2h0M225.53 37.65h0M209.42 39.54h0M242.61 34.7h0M250.39 49.82h0M272.04 121.38h0M252.62 74.57h0M266.68 106.36h0M361.22 60.23h0M212.72 51.16h0M250.48 46.27h0M280.32 80.62h0" stroke="#b6c8da" stroke-width="1.8" stroke-linecap="round" stroke-opacity="0.85"/>
<path d="M281.06 17.05h0M375.19 54.97h0M252.69 29.86h0M233.82 37.71h0M222.19 123.27h0M263.87 139.46h0M280.47 27.76h0M207.07 99.43h0M250.07 72.05h0M287.54 33.37h0M241.23 50.24h0M263.69 47.42h0M260.91 139.99h0M261.09 75.04h0M241.26 74.44h0M261.18 37.79h0M259.22 23.78h0M242.46 65.99h0M212.71 146.13h0M237.22 110.05h0M265.24 36.34h0M295.77 57.13h0M232.61 86.27h0M272.36 87.79h0M237.88 85.77h0M295.77 51.82h0M253.37 46.29h0M264.6 27.33h0M278.18 101.92h0M250.67 86.67h0M212.24 134.49h0M262.8 98.16h0M257.97 20.21h0M256.59 22.21h0M303.44 27.4h0M253.94 62.75h0M263.88 58.44h0M256.13 145.75h0M268.51 112.54h0M289.01 31.05h0M288.67 37.35h0M269.01 70.74h0M357.81 15.39h0M233.65 121.04h0M295.37 53.93h0M275.79 49.89h0M300.29 27.97h0M257.59 19.81h0M282.34 75.16h0M264.38 25.44h0M309.46 58.88h0M272.73 42.59h0M320.93 51.47h0M254.74 66.37h0M241.01 75.65h0M258.72 36.77h0M202.56 32.46h0M240.75 51.21h0M254.95 63.9h0M259.01 42.83h0M211.23 125.99h0M270.33 74.78h0M235.93 75.02h0M318.55 50.51h0M282.77 37.41h0M269.82 129.08h0M294.29 50.65h0M229.45 121.33h0M223.18 79.76h0M226.95 148.56h0M252.23 46.56h0M222.85 52.03h0M231.98 62.58h0M255.71 104.82h0M230.98 112.57h0M270.34 32.17h0M251.01 67.18h0M240.17 148.57h0M273.45 50.41h0M266.55 89.23h0M283.04 47.61h0M210.31 108.77h0M218.87 40.56h0M233.62 23.74h0M249.81 88.24h0M229.78 118.04h0M282.17 61.77h0M262.31 32.2h0M259.77 30.41h0M284.08 96.12h0M349.41 13.29h0M237.08 64.59h0M235.26 58.73h0M259.24 31.2h0M279.74 27.81h0M280.86 66.33h0M262.8 77.01h0M262.76 149.17h0M294.76 53.46h0M253.91 70.47h0M260.21 74.62h0M242.65 75.65h0M245.34 81.6h0M254.94 69.19h0M238.21 139.62h0M279.96 73.33h0M360.49 32.21h0M294.3 22.1h0M284.08 52.16h0M210.95 80.63h0M258.46 88.51h0M220 21.53h0M284.76 136.97h0M230.9 22.75h0M275.86 145.77h0M278.42 54.46h0M238.47 66.83h0M363.66 43.85h0M267.47 24.63h0M269.69 71.75h0M263.63 27.01h0M199.39 56.56h0M265.38 48.62h0M258.58 128.55h0M223.15 112.24h0M256.3 52.08h0M368.73 48.85h0M270.32 131.88h0M230.51 111.58h0M237.65 55.72h0M245.06 25.87h0M199.68 147.71h0M287.75 56.83h0M225.48 101.43h0M239.44 44.32h0M262.18 27.42h0M343.91 46.49h0M255.1 53.44h0M285.09 68.8h0M278.16 148.47h0M236.28 58.22h0M272.33 108.14h0M321.54 17.73h0M278.58 117.37h0M316.73 15.78h0M254.19 22.99h0M272.28 59.76h0M259.98 81.62h0M205.77 109.05h0M261.2 75.4h0M281.25 113.26h0M283.76 28.33h0M350.75 39.54h0M249.07 85.45h0M285.19 122.2h0M237.95 65.2h0M212.31 145.15h0M270.02 113.77h0M278.96 59.2h0M230.49 17.53h0M355.23 52.13h0M203.48 142.08h0M299.93 53.13h0M366.5 47.88h0M263.02 27.62h0M212.16 136.46h0M256.53 65.31h0M266.11 73.13h0M273.43 120.69h0M304.84 27h0M223.54 108.07h0M248.49 33.88h0M361.34 31.4h0M251.99 26.13h0M365.26 37.72h0M250.58 26.95h0M328.53 56.66h0M238.07 86.96h0M230.74 91.85h0M219.18 81.45h0M340.54 47.62h0M251.08 82.61h0M220.99 48.51h0M266.47 12.59h0M285.01 58.87h0M238.54 147.79h0M314.68 21.57h0M237.92 60.85h0M201.87 69.81h0M274.48 28.54h0M212.1 83.84h0M258.62 145.86h0M241.79 85.01h0M229.68 87.71h0M225.15 100.42h0M220.95 36.22h0M354.61 31.29h0M276.61 63.66h0M281.88 35.2h0M223.58 67.89h0M311.44 21.55h0M322.02 29.25h0M271.07 56.45h0M283.91 37.05h0M240.57 71.46h0M285.38 43.62h0M235.45 37.1h0M266.06 78.62h0M275.5 53.51h0M276.48 29.19h0M226.8 53.02h0M275.06 64.18h0M206.12 97.38h0M288.89 46.12h0M226.38 142.72h0M222.2 67.03h0M321.16 54.97h0M277.57 24.23h0M266.03 12.51h0M286 53.36h0M204.64 117.36h0M219.86 17.54h0M361.46 58.14h0M240.62 59.91h0M283.45 52.48h0M290.74 54.41h0M365.31 46.19h0M249.47 117.02h0M259.45 121.21h0M376.11 19.98h0M283.01 77.5h0M272.16 82.03h0M293.77 40.71h0M264.68 119.74h0M247.36 140.99h0M302.85 40.32h0M235.24 22.71h0M236.06 54.73h0M265.05 33.48h0M260.61 39.02h0M224.41 77.69h0M242.8 143.75h0M334.2 12.85h0M287.22 43.6h0M378.11 17.06h0M214.32 88.45h0M366.16 37.35h0M211.41 120.78h0M234.11 59h0M246.94 17.07h0M281.22 70.25h0M200.83 113.47h0M205.66 96.77h0M214.11 92.05h0M356.28 26.84h0M214.31 138.59h0M223.55 52.76h0M291.79 50.34h0M258.33 37.42h0M218.96 92.36h0M300.03 14.48h0M257.24 55.83h0M251.43 72.4h0M240.63 60.31h0M268.19 73.18h0M265.24 76.35h0M258.07 95.76h0M255.86 57.42h0M232.01 146.06h0M234.65 68.29h0M244.38 118.71h0M256.12 37.33h0M205.51 28.57h0M247.41 65.26h0M256.32 116.96h0M261.28 20.35h0M340.3 56.54h0M270.31 32.75h0M268.45 107.77h0M213.22 30.77h0M282.44 33.76h0M266.17 18.28h0M250.7 69.07h0M264.05 24.48h0M271.16 80.43h0M221.23 146.29h0M250.22 82.47h0M244.96 128.75h0M207.67 56.44h0M355.04 42.39h0M266.77 21.15h0M274.1 15.7h0M273.21 46.96h0M240.5 70.15h0M228.23 136.43h0M244.72 46.5h0M315.02 34.64h0M247.63 65.53h0M241.96 32.89h0M262.34 103.04h0M233.51 52.47h0M214.32 96.58h0M274.04 53.02h0M260.41 87.12h0M247.21 114.87h0M299.29 50.73h0M238.41 37.97h0M269.75 81.4h0M251.19 137.82h0M234.93 40.96h0M285.93 27.07h0M282.94 52.22h0M294.27 27.34h0M369.34 22.75h0M242.7 41.26h0M249.03 44.86h0M306.09 53.26h0M200.23 86.05h0M209.55 124.65h0M200.61 37.62h0M324 59.96h0M201.69 83.85h0M210.79 62.76h0M272.01 94.15h0M207.3 132.32h0M229.12 54.47h0M275.38 69.28h0M205.82 114.43h0M215.82 103.55h0M346.61 23.69h0M246.67 85.39h0M267.32 79.98h0M220.02 98.94h0M280.14 18.03h0M281.67 135.74h0M270.08 79.92h0M219.72 66.45h0M267.71 69.83h0M259.58 31.15h0M349.37 60.15h0M279.02 38.5h0M343.47 48.07h0M219.16 102.38h0M254.18 50.96h0M204.63 35.96h0M300.08 14.83h0M217.6 37.21h0M357.4 33.07h0M376.32 53.39h0M274.37 88.95h0M279.87 111.56h0M240.66 44.06h0M285.49 53.53h0M279.6 34.46h0M241.03 35.4h0M200.95 70.14h0M271.13 67.69h0M353.85 34.58h0M233.83 109.83h0M285.68 32.27h0M261.62 82.79h0M273.29 82.29h0M227.42 68.46h0M259.28 83.12h0M259.13 60.58h0M233.24 68.95h0M282.53 69.4h0M256.71 32.2h0M362.67 20.89h0M305.93 54.98h0M281.35 47.18h0M289.22 47.96h0M278.03 59.96h0M291.3 56.44h0M357.72 38.44h0M243.26 86.4h0M263.65 84.6h0M250.5 81.47h0M263.18 36.85h0M259.21 58.23h0M242.76 69.29h0M265.34 65.79h0M230.2 53.1h0M257.18 87.3h0M260.29 76.54h0M378.81 39.15h0M260.07 22.76h0M262.2 136.09h0M321.03 27.17h0M277.98 63.72h0M263.12 33.75h0M335.6 17.13h0M211.5 78.23h0M269.83 96.27h0M269.51 62.41h0M259.17 82.52h0M251.01 73.68h0M281.3 23.52h0M252.83 29.23h0M236.29 134.79h0M322.43 17.33h0M247.19 31.49h0M286.31 121.41h0M249.05 70.74h0M250.63 108.82h0M272.89 132.87h0M249.17 53.72h0M267.82 27.05h0M284.37 80.65h0M268.73 23.27h0M271.75 58.58h0M284.75 87.22h0M206.64 124.63h0M355.42 21.49h0M279.61 25.58h0M273.63 24.49h0M329.62 23.96h0M237.94 117.03h0M295.09 27.03h0M268.59 83.37h0M223.15 18.47h0M294.21 55.6h0M334.18 30.3h0M283.13 27.36h0M278.73 23.28h0M361.2 32.08h0M366.22 60.19h0M291.39 48.56h0M261 70.49h0M291.94 33.56h0M228.34 44.63h0M220.81 87.37h0M240.8 122.98h0M230.46 48.56h0M200.55 140.4h0M270.43 75.31h0M245.89 139.48h0M270.98 76.58h0M256.14 29.29h0M257.75 131.69h0M268.31 80.03h0M199.58 108.77h0M297.74 44.28h0M258.71 63.38h0M288.11 39.91h0M367.54 50.1h0M268.07 35.57h0M258.43 78.51h0M273.19 61.4h0M262.81 58.2h0M305.87 45.65h0M247.9 99.95h0M202 15.51h0M270.01 25.29h0M376.56 49.84h0M245.28 18.75h0M282.17 63.15h0M317.03 28.82h0M259.92 45.5h0M351.12 60.77h0M239.78 74.78h0M248.48 30.43h0M252.22 48.08h0M258.22 98.44h0M277.8 88.05h0M289.65 35.32h0M282.69 43.4h0M243.94 77.93h0M242.93 30.69h0M280.15 46.99h0M234.93 117.42h0M235.16 44.32h0M265.03 64.82h0M259.81 28.75h0M267.08 58.38h0M280.66 95.7h0M209.51 52.3h0M237.96 85.61h0M369.04 55.12h0M272.85 43.84h0M294.84 40.79h0M246.47 148.2h0M277.84 50.08h0M280.25 50.61h0M270.42 134.03h0M277.38 68.88h0M277.35 103.61h0M292.06 44.4h0M267.58 100.38h0M271.18 76.91h0M296.04 53.04h0M205.06 94.52h0M288.92 52.82h0M262.51 77.23h0M239.51 80.43h0M251.89 127.2h0M208.11 22.44h0M259.59 47.65h0M260.03 27.92h0M343.94 24.7h0M272.65 22.84h0M277.64 33.78h0M242.51 47.62h0M272.69 70.93h0M200.18 136.21h0M243.18 53.06h0M271.11 27.9h0M253.35 48.79h0M233.36 121.84h0M358.34 44.61h0M200.68 136.39h0M223.99 88.05h0M254.13 78.61h0M246.52 52.57h0M236.94 14.3h0M246.96 64.61h0M239.26 39.61h0M208.66 54.97h0M302.22 30.3h0M208.08 83.75h0M259.34 62.71h0M279.68 13.33h0M224.25 19.99h0M347.55 35.47h0M238.52 70.64h0M273.13 50.78h0M236.51 62.45h0M250.55 63.47h0M242.27 66.67h0M241.42 54.67h0M232.57 99.13h0M297.48 54.87h0M223.05 97.23h0M236.71 22.81h0M287.74 59.78h0M282.62 12.92h0M328.61 33.54h0M262.28 62.42h0M274.54 46.58h0M242.31 94.27h0M245.52 127.05h0M240.46 27.93h0M257.17 55.02h0M248.34 79.05h0M269.45 122.66h0M285 129.28h0M256.93 128.06h0M297.33 12.74h0M237.21 138.15h0M281.37 59.68h0M305.5 14.05h0M273.8 44.25h0M250.85 83.05h0M223.98 35.9h0M277.13 34.12h0M263.17 64.98h0M249.36 41.36h0M248.68 93.6h0M226.74 55.88h0M350.2 35.66h0M265.94 95.56h0M239.18 133.46h0M256.7 52.77h0M373.59 57.76h0M267.72 21.52h0M346.1 42.09h0M247.22 73.74h0M266.09 140.35h0M266.35 60.71h0M266.67 129.36h0M211.72 60.32h0M259.54 24.08h0M279.28 148.15h0M207.81 89.36h0M272.95 48.96h0M257.98 64.33h0M359.02 42.02h0M231.47 43.4h0M238.59 29.91h0M249.05 66.09h0M247 81.14h0M319.02 44.66h0M240.31 103.87h0M220.1 26.2h0M270.59 23.46h0M256.66 40.24h0M254.39 122.19h0M231.24 47.31h0M201.84 125.13h0M265.88 39.97h0M280.34 41.99h0M257.44 89.43h0M238.82 141.31h0M253.21 58.05h0M343.46 29.98h0M252.92 52.48h0M264.97 43.89h0M233.15 49.31h0M237.33 59.8h0M328.05 57.69h0M233.57 43.45h0M284.2 85.93h0M218.5 15.78h0M240.27 42.85h0M267.06 75.42h0M250.24 105.02h0M252.6 42.44h0M263.22 59.21h0M218.12 60.91h0M253.29 75.65h0M280.1 64.41h0M271.82 40.2h0M274.44 116.95h0M263.03 67.95h0M246.52 34.82h0M254.48 74.61h0M300.16 45.24h0M241.38 59.13h0M275.85 116.86h0M256.3 32.13h0M261.72 51.9h0M370.12 23.61h0M291.53 23.28h0M261.31 81.47h0M252.14 61.83h0M204.66 76h0M342.62 33.33h0M249.36 72.62h0M263.86 61.47h0M210.71 26.34h0M273.19 76.97h0M258.36 89.81h0M284.28 137.83h0M215.09 86.48h0M262.21 28.08h0M248.31 62.81h0M282.95 103.53h0M246.3 118.24h0M343.79 17.67h0M264.81 88.37h0M296.14 48.92h0M275.17 25.02h0M255.79 136.59h0M203.77 115.34h0M261.2 83.91h0M299.74 56.59h0M283.55 16.51h0M285.46 52.65h0M226.81 50.14h0M267.2 55.51h0" stroke="#8ea2be" stroke-width="1.3" stroke-linecap="round" stroke-opacity="0.85"/>
<path d="M278.39 72.58h0M263.2 77.49h0M258.07 20.26h0M357.85 41.92h0M233.66 72.33h0M238.19 38.14h0M242.81 78.96h0M281.32 74.5h0M207.33 52.51h0M222.96 64.81h0M282.83 51.36h0M280.44 101.19h0M200.58 54.86h0M342.95 14.49h0M276.97 149.47h0M235.72 69.14h0M329.62 39.37h0M244.17 94.15h0M215 60.5h0M279.7 39.46h0M246.68 131.97h0M265.45 83.66h0M239.49 42.36h0M219.58 27.38h0M283.94 47.27h0M268.39 56.71h0M234.78 25.34h0M244.6 87.76h0M287.53 23.11h0M211.33 59.12h0M278.56 12.82h0M374.58 16.72h0M358.96 18.61h0M274.49 32.33h0M278.1 99.22h0M323.81 16.77h0M219.27 83.09h0M231.32 38.61h0M256.71 108.47h0M254.63 83.41h0M300.62 27.18h0M246.68 47.02h0M340.62 49.82h0M277.71 81.7h0M280.13 41.53h0M282.22 37.57h0M256.74 126.65h0M353.49 23.79h0M273.65 62.24h0M296.07 58.55h0M334.6 60.07h0M243.74 140.13h0M289.6 53.81h0M236.15 148.8h0M219.08 19.46h0M262.82 61.07h0M201.04 120.73h0M239.46 118.25h0M307.5 12.6h0M262.68 68.81h0M251.1 84.42h0M227.64 120.34h0M296.57 52.34h0M304.57 53h0M212.76 95.1h0M279.27 40.99h0M200.57 18.92h0M241.41 31.81h0M257.31 69.64h0M276.71 40.99h0M348.58 42.53h0M286.39 48.53h0M321.27 54.95h0M264.77 80.05h0M219.24 129.91h0M265.36 73.8h0M322.09 24.94h0M232.5 61.68h0M277.47 45.8h0M283.35 25.95h0M336.88 19.05h0M265.35 128.6h0M277.45 72.43h0M259.81 29.62h0M257.73 48.1h0M204.98 145.75h0M240.66 80.45h0M209.27 140.28h0M263.37 70.79h0M260.1 47.27h0M201.45 22.12h0M227.42 145.24h0M281.49 85.86h0M272.47 22.63h0M249.28 48.37h0M212.24 144.34h0M270.79 50.18h0M236.35 97.87h0M288.16 30.51h0M203.79 82.33h0M253.28 62.64h0M247.43 68.52h0M283.07 37.32h0M236.16 109.88h0M221.14 131.67h0M238.07 50.86h0M252.49 125.47h0M293.86 44.91h0M215.97 62.94h0M345.27 42.79h0M263.37 72.58h0M216.51 123.24h0M233.38 73.67h0M264.5 57.54h0M209.14 47.62h0M216.38 44.39h0M331.48 14.17h0M227.25 48.9h0M261.51 118.49h0M216.18 83.21h0M286.7 80.64h0M266.61 106.17h0M236.75 88.27h0M280.4 145.47h0M228.31 25.42h0M340.34 57.44h0M204.93 46.45h0M272.47 102.37h0M280.97 75.11h0M231.52 56.93h0M295.09 49.82h0M264.72 72.41h0M258.13 36.42h0M294.07 57.4h0M269.86 42.29h0M286.52 53.16h0M252.53 141.01h0M341.53 28.11h0M306.94 30.2h0M376.29 43.72h0M286.59 58.82h0M251.22 45.85h0M333.57 45.54h0M281.61 58.29h0M291.35 34.55h0M286.38 61.13h0M243.35 90.38h0M266.88 118.79h0M316.05 51.98h0M270.53 54.6h0M223.74 91.89h0M253.9 34.52h0M214.29 79.76h0M247.2 83.16h0M270.34 77.03h0M292.23 52.68h0M280.88 130.79h0M337.52 32.58h0M349.12 40.71h0M203.23 115.65h0M256.83 100.87h0M235.61 79.87h0M302.56 17.68h0M279.32 19.3h0M257.73 81.49h0M237.82 74.28h0M232.79 17.2h0M206.04 82.02h0M240.91 43.16h0M338.05 49.52h0M242.07 133.37h0M293.14 14.71h0M277.07 47.14h0M282.12 66.56h0M210.68 70.25h0M219.56 31.93h0M283.68 60.6h0M286.2 78.52h0M282.09 51.7h0M251.33 86.6h0M336.2 36.77h0M367.07 14.24h0M205.02 96.95h0M248.78 139.5h0M278.96 59.02h0M203.32 70.97h0M264.61 38.01h0M251.09 47.99h0M230.78 41.21h0M256.25 82.47h0M282.28 68.3h0M249.9 84.62h0M270.95 94.61h0M241.47 49.21h0M268.56 35.4h0M264.48 62.36h0M355.27 53.61h0M214.08 19.82h0M309.01 52.53h0M253.59 89.11h0M374.09 21.3h0M284.28 27.55h0M370.69 52.01h0M250.8 88.24h0M248.05 56.78h0M279.25 20.35h0M279.81 73.57h0M286.34 42.11h0M255.32 107.02h0M284.93 124.28h0M223.41 72.5h0M286.74 55.8h0M357.9 52.86h0M272.61 15.72h0M297.04 57.33h0M269.35 45.97h0M273.81 33.88h0M245.26 82.34h0M232.41 61.92h0M235.11 139.43h0M246.96 45.59h0M226.56 27.04h0M247.43 49.45h0M244.36 44.58h0M247.59 58.95h0M264.52 22.85h0M258.26 88.58h0M286.51 82.28h0M213.92 82.73h0M274.23 60.02h0M367.86 54.19h0M315.48 26.84h0M355.35 51.87h0M213.98 96.78h0M269.59 30.61h0M277.1 55.74h0M264.61 60.04h0M199.05 110.47h0M235.7 64.93h0M213.11 137.39h0M282.6 32.45h0M289.95 51.88h0M276.14 78.14h0M310.62 43.96h0M218.49 117.68h0M256.75 25.44h0M258.19 13.14h0M249.08 66.44h0M286.93 55.13h0M262.44 39.83h0M230.67 68.41h0M211.6 103.67h0M230.03 112.11h0M286.25 73.79h0M251.91 107.73h0M213.34 91.28h0M253.03 46.39h0M337.45 26.81h0M266.1 72.15h0M269.35 35.75h0" stroke="#5a7090" stroke-width="1" stroke-linecap="round" stroke-opacity="0.85"/>
<path d="M285.34 28.09h0M240.14 64.02h0M278.88 47.2h0M265.5 65.4h0M282.18 67.73h0M277.57 59.92h0M268.5 57.95h0M228.55 49.91h0M264.4 57.71h0M250.57 71.05h0M298.04 39.26h0M267.28 73.85h0M287.72 53h0M280.02 30.76h0M266.35 33.95h0M246.4 52.95h0M285.18 34.38h0M279.04 46.19h0M245.73 77.17h0M260.94 75.72h0M277.5 54.85h0M250.82 67.02h0M261.36 74.48h0M261.64 56.17h0M240.55 25.24h0M267.96 42.14h0M277.99 52.82h0M265.44 55.69h0M255.3 66.04h0M285.75 56.6h0M267.83 28.57h0M275.14 63.53h0M272.67 69.1h0M270.51 43.55h0M236.42 29.36h0M274.44 57.73h0M253.25 33h0M287.51 46.1h0M293.85 27.67h0M256.44 50.42h0M233.72 42.55h0M248.63 52.62h0M265.52 80.9h0M255.51 72.13h0M266.07 36.64h0M249.3 78.4h0M267.51 48h0M274.83 65.1h0M260.36 51.89h0M276.97 35.62h0M251.2 45.6h0M280.49 61.84h0M250.66 83.37h0M244.85 25.96h0M260.56 88.03h0M276.95 50.39h0M299.02 36.33h0M249.47 79.05h0M248.79 31.9h0M233.42 45.89h0M250.66 69.21h0M286.6 51.04h0M256.34 30.87h0M231.66 30.38h0M253.37 86.22h0M251.95 81.99h0M286.28 40.48h0M276.86 69.71h0M260.58 70.62h0M289.69 41.13h0M229.1 48.33h0M262.96 56.41h0M288.85 46.38h0M266.17 71.75h0M262.3 52.66h0M274.54 58.01h0M254.39 43.9h0M232.74 29.94h0M241.38 65.72h0M277.13 58.33h0M255.66 55.15h0M251.83 34.64h0M241.25 60.32h0M237.92 29.44h0M294.22 40.55h0M259.16 57.04h0M265.67 30.8h0M240.01 56.22h0M269.27 41.82h0M259.03 85.06h0M237.82 50.32h0M262.5 73.52h0M234.24 25.93h0M295.86 46.59h0M280.68 69.22h0M234.15 32.95h0M245.44 54.53h0M265.06 38.55h0M296.73 53.35h0M295.21 27.4h0M264.2 30.19h0M269.53 64.25h0M281.44 39.95h0M280.31 43.42h0M249.83 67.81h0M257.01 73.69h0M280.19 59.37h0M243.66 24.6h0M258.04 65.23h0M234.86 38.49h0M274.22 44.96h0M257.65 67.44h0M283.54 29.65h0M269.46 29.85h0M283.48 35.39h0M238.6 56.43h0M257.24 83.35h0M249.88 79.71h0M267 56.33h0M246.09 36.41h0M268.17 82.98h0M256.58 86.74h0M265.5 37.41h0M231.74 46.46h0M281.4 47.11h0M260.52 34.1h0M273.45 50.54h0M272.46 33.61h0M272.13 80.93h0M270.03 62.71h0M274.63 61.19h0M254.92 34.4h0M261.21 46.27h0M253.49 65.36h0M257.57 85.19h0M263 45.82h0M281.88 33.58h0M234.42 36.7h0M271.68 34.95h0M278.05 73.4h0M288.11 40h0M255.42 77.96h0M265.7 52.21h0M283.3 44.75h0M240.73 42.21h0M245.04 43.64h0M257.34 46.73h0M270.39 82.93h0M260.07 44.37h0M270.12 27.54h0M253.44 54.61h0M288.75 41.03h0M277.96 62.73h0M232.59 26.91h0M230.31 32.57h0M259.07 57.35h0M277.1 45.94h0M289.87 31.1h0M259.64 79.64h0M241.23 63.45h0M298.08 31.05h0M276.22 78.19h0M235.52 50.92h0M277.92 75.7h0M258.66 29.47h0M255.48 60.52h0M246.13 72.29h0M259.95 65.47h0M263.96 34.06h0M277.02 61.82h0" stroke="#93a5c7" stroke-width="1.7" stroke-linecap="round" stroke-opacity="0.8"/>
<path d="M269.49 64.2h0M270.75 34.09h0M238.63 32.09h0M270.5 72.69h0M245.62 61.88h0M247.82 29.9h0M296.09 42.63h0M276.46 80.73h0M276.24 50.77h0M284.2 53.26h0M256.67 53.05h0M245.17 70.24h0M231.88 51.79h0M267.3 80.4h0M275.12 51.17h0M256.99 39.36h0M245.53 27.26h0M293.44 41.9h0M258.33 45h0M268.75 40.13h0M253.37 72.66h0M268.73 37.59h0M244.4 56.98h0M270.81 36.37h0M245.3 41.15h0M272.33 66.77h0M255.42 69.05h0M256.8 82.19h0M263.88 77.46h0M266.79 67.08h0M264.19 41.45h0M239.6 26.15h0M242.88 62.03h0M282.18 58.67h0M279.26 45.29h0M282.61 42.77h0M267.93 32.37h0M271.2 75.11h0M287.66 34.34h0M264.51 49.58h0M272.56 36.27h0M254.99 83.59h0M279.97 44.49h0M240.78 63.1h0M266.73 46.41h0M235.89 41.91h0M256.79 67.47h0M264.8 38.09h0M248.67 76.26h0M262.89 83.21h0M236.26 55.04h0M288.84 55.82h0M270.44 50.86h0M251.34 56.94h0M284 50.92h0M255.54 63.86h0M273.8 39.63h0M263.38 86.61h0M249.99 51.47h0M254.53 40.7h0M249.05 78.09h0M252.42 35.41h0M264.25 51.68h0M298.85 35.68h0M287.57 30.4h0M274.4 54.45h0M242.98 30.44h0M242.17 63.52h0M270.96 56.63h0M253.71 40.73h0M275.58 79.57h0M240.96 47.31h0M281.94 45.52h0M251.08 41.83h0M279.88 52.59h0M268.47 35.34h0M289.29 57.44h0M240.87 65.84h0M251.55 31.65h0M276.37 27.49h0" stroke="#5f73a2" stroke-width="1.2" stroke-linecap="round" stroke-opacity="0.8"/>
<rect x="287" y="61.5" width="92" height="88.5" fill="#dbe8f3"/>
<path d="M289.02 92.22h0M345.15 69.83h0M376.82 146.59h0M326.58 80.16h0M354.79 96.23h0M351.68 129.32h0M355.64 128.9h0M299.57 107.09h0M288.37 110.14h0M307.61 145.39h0M374.39 126.49h0M336.78 108.22h0M318.88 138.04h0M318.3 116.11h0M351.44 135.49h0M333.23 102.98h0M290.03 134.54h0M369.21 122.23h0M348.3 130.7h0M318.14 97.31h0M302.55 112.27h0M362.74 89.77h0M368.41 119.61h0M290.37 130h0M294.26 106.3h0M357.79 67.08h0M374.91 134.47h0M331.53 132.86h0M363 86.89h0M336.81 81.87h0M303.66 144.88h0M347.32 143.82h0M366.87 116.35h0M322.58 67.49h0M293.97 122.34h0M288.03 99.65h0M342.97 90.19h0M302.36 142.18h0M292.58 112.49h0M356.5 111.27h0M306.15 78.36h0M319.4 126.07h0M328.35 114.83h0M297.76 148.15h0M300.23 148.16h0M306.21 138.59h0M310.53 114.56h0M290.19 71.44h0M356.88 123.49h0M344.7 132.52h0M334.29 112.19h0M307.43 122.57h0M375.99 81.04h0M300.15 120.38h0M337.34 121.81h0M346.13 72.11h0M300.64 125.56h0M305.01 92.06h0M322.82 118.34h0M307.01 75.98h0M309.2 120.27h0M336.23 133.36h0M323.62 124.94h0M297.98 95.19h0M345.27 136.37h0M325.59 75.88h0M311.2 92.96h0M319.51 119.99h0M296.27 67.95h0M337.28 83.13h0M371.63 88.75h0M340.13 131.96h0M315.3 101.35h0M292.62 100.36h0M339.92 123.13h0M329.45 102.45h0M333.6 94.38h0M310.16 102.76h0M323.78 97.16h0M332.04 124.02h0M320.73 84.94h0M359.28 94.24h0M369.78 84.29h0M345.64 141.98h0M298.04 126.73h0M357.48 132.29h0M311.56 137.04h0M338.32 106.69h0M334.8 82.16h0M316.41 105.74h0M295.14 119.91h0M353.74 70.14h0M360.77 83.58h0M311.4 138.65h0M349.1 145.97h0M359.73 92.25h0M312.79 134.02h0M375.09 141.19h0M290.53 64.59h0M315.17 115.61h0M346.95 132.62h0M308.86 103.02h0M351.03 128.72h0M343.96 145.86h0M370.75 124.98h0M305.97 90.22h0M334.86 147.53h0M352.24 137.9h0M362.87 86.39h0M369.29 133.78h0M353.97 72.45h0M307.07 115.28h0M334.15 91.41h0M326.28 76.95h0M311.53 143.07h0M322.78 142.57h0M370.39 120.11h0M352.11 99.54h0M290.26 96.14h0M339.84 66.88h0M341.37 149.07h0M364.5 148.04h0M339.96 142.56h0M326.8 104.15h0M313.51 103.74h0M377.08 116.97h0M351.54 66.07h0M312.26 92.27h0M374.81 89.8h0M337.69 111.25h0M375.15 116.49h0M353.97 98.51h0M339.69 105.69h0M298.13 106.75h0M327.59 124.83h0M339.42 116.2h0M364.03 103.78h0M316.09 144.22h0M334.45 97.82h0M321.2 84.28h0M318.21 130.49h0M297.23 122.16h0M300.06 104.66h0M289.34 134.09h0M321.44 142.83h0M318.35 145.42h0M289.54 79.9h0M319.01 74.32h0M333.24 64.06h0M302.29 133.48h0M309.65 149.1h0M313.79 117.26h0M364.63 87.18h0M332.99 128.04h0M341.14 70.56h0M318.85 90h0M310.65 131.13h0M327.49 86.35h0M340.33 69.71h0M368.87 125.71h0M316.71 148.49h0M347.28 128.43h0M377.69 148.26h0M332.85 105.93h0M344.32 80.39h0M371.06 139.71h0M307.15 136.01h0M313.55 91.96h0M373.94 117.41h0M322.28 139.46h0M375.78 135.26h0M304.55 131.77h0M340.31 78.67h0M351.73 66.18h0M311.3 133.52h0M312.26 118.18h0M293.16 122.25h0M320.21 84.14h0M371.87 84.91h0M344.78 69.26h0" stroke="#b3c1de" stroke-width="2.8" stroke-linecap="round" stroke-opacity="0.85"/>
<path d="M305.36 142.51h0M319.52 125.17h0M299.65 106.65h0M291.64 124.21h0M324.89 132.14h0M320.47 104.66h0M377.12 86.14h0M361.29 71.12h0M308.43 92.63h0M302.42 115.82h0M342.9 77.49h0M344.3 126.9h0M288.99 93.79h0M293.27 89.29h0M328.51 142.18h0M355.54 114.34h0M292.51 118.14h0M331.66 118.72h0M346.95 90.41h0M304.54 129.17h0M302.14 96.66h0M313.68 102.83h0M318.93 125.76h0M342.69 87.01h0M309.82 116.13h0M313.01 83.87h0M304.71 143.23h0M348.2 71.23h0M299.73 121.9h0M336.76 85.97h0M350.19 119.25h0M323.49 109.19h0M290.4 135.49h0M319.85 130.47h0M308.95 111.98h0M328.24 144.06h0M345.89 144.41h0M336.01 97.87h0M378.04 121.69h0M374.31 138.81h0M361.5 104.85h0M334.86 65.9h0M336.14 114.33h0M377.13 110.16h0M340.2 142.75h0M316.45 91.78h0M311.49 90.27h0M364.21 70.05h0M326.74 70.52h0M347.73 110.44h0M328.04 118.64h0M298.44 100.41h0M372.81 137.25h0M346.12 98.28h0M301.22 124.54h0M313.74 103.18h0M328.79 137.24h0M321.35 75.28h0M344.72 89.25h0M375.3 117.73h0M322.33 105.49h0M297.33 105.79h0M360.48 78.72h0M339.28 108.59h0M329.97 116.1h0M330.59 140.73h0M318.57 137.07h0M325.24 81.59h0M290.12 110.41h0M294.45 123.14h0M374.02 81.68h0M318.87 88.78h0M297.94 134.9h0M299.17 125.13h0M313.54 95.36h0M331.66 75.3h0M341.81 101.11h0M343.48 120.12h0M326.37 108.86h0M350.72 100.64h0M323.54 125.01h0M301.25 100.93h0M374.29 129.25h0M310.14 120.4h0M308.12 94.34h0M349.92 123.48h0M372.11 102.68h0M328.48 148.21h0M358.06 107.81h0M372.77 119.94h0M363.32 65.8h0M312.38 132.88h0M328.36 130.55h0M361.82 75.13h0M316.96 130.48h0M371.53 70.81h0M319.01 146.2h0M346.65 99.5h0M293.93 141.72h0M374.32 148.83h0M360.19 149.27h0M293.6 104.09h0M361.33 99.33h0M362.65 95.76h0M374.95 123.8h0M348.79 66.36h0M339.11 129.71h0M333.13 78.71h0M305.61 76.06h0M330.13 84.27h0M370.27 91.71h0M300.17 142.63h0M320.21 147.09h0M342.67 66.35h0M290.2 71.04h0M300.19 102.47h0M298.61 111.66h0M337.52 140.01h0M366.2 116.47h0M365.35 123.07h0M338.02 145.39h0M321.86 101.35h0M375.48 124.93h0M324.71 114.17h0M308.11 106.76h0M299.96 134.4h0M346.51 104.51h0M301.71 107.88h0M298.13 105.89h0M291.18 140.11h0M293.27 146.57h0M331.87 90.34h0M312.72 132.92h0M320.07 138.73h0M349.49 113.14h0M375.13 76.16h0M342.97 65.09h0M300.58 127.56h0M347.17 124.9h0M367.56 140.32h0M296.59 132.06h0M323.25 108.03h0M367.61 70.64h0M320.17 132.23h0M356.33 72.77h0M299.38 76.67h0M335.61 84.13h0M350.68 129.54h0M368.73 72.03h0M292.36 145.7h0M294.61 114.77h0M346.25 90.63h0M328.09 104.44h0M363.29 146.83h0M291.27 93.84h0M291.7 104.72h0M377.74 115.07h0M323.64 76.79h0M340.17 94.04h0M308.05 138.13h0M313.43 81.26h0M342.78 107.24h0M319.33 66.17h0M296.37 104.43h0M368.45 122.28h0M331.56 62.85h0M314.29 136.92h0M364.64 112.91h0M361.38 141.36h0M296.07 143.81h0M337.22 108.28h0M343.05 68.68h0M338.57 114.47h0M373.45 128.23h0M377.49 75.43h0M290.55 109.25h0M311.09 95.03h0M338.52 120.04h0M313.75 112.6h0M320.71 63.49h0M324.61 142.09h0M321.38 81.65h0M353.08 94.92h0M359.66 82.03h0M340.22 64.47h0M329.39 110.26h0M334.73 138.51h0M334.1 82.88h0M347.3 131.81h0M311.23 118.26h0M326.96 96.68h0M293.35 101.11h0M377.16 116.81h0M332.91 85.35h0M347.05 88.33h0M330.65 120.68h0M314.39 131.61h0M335.16 131.9h0M328.25 80.82h0M307.34 142.12h0M349.75 86.71h0M305.36 103.4h0M368.97 132.92h0M334.47 89.41h0M374.01 63.64h0M371.72 105.73h0M336.8 76.4h0M320.05 142.62h0M341.65 96.84h0M325.29 124.6h0M291.48 95.92h0M316.01 133.1h0M315.08 98.43h0M325.67 145.75h0M366.74 75.83h0M327.22 65.49h0M325.05 86.03h0M306.57 72.11h0M371.06 138.2h0M300.49 103.17h0M296.35 67.19h0M298.22 146.77h0M302.98 75.64h0M302.26 66.67h0M357.85 108.52h0M324.01 127.23h0M317.68 110.95h0M288.21 125.17h0M377.59 124.82h0M351.56 115.2h0M337.44 112.48h0M293.96 132.21h0M377.87 116.46h0M306.36 134.24h0M291.82 128.63h0M307.66 111.64h0M345.74 97.59h0M323.38 147.82h0M376.16 147.35h0M301.14 102.81h0M343.94 85.42h0M345.08 124.12h0M323.63 77.08h0M325.33 129.37h0M348.28 76.39h0M318.72 134.4h0M330.44 124.51h0M318.68 85.45h0M375.82 88.17h0M346.86 92.42h0M299.51 122.83h0M323.32 140.34h0M367.17 149.03h0M311.25 136.84h0M299.09 130.72h0M370.96 116.49h0M315.09 82.13h0M362.48 105.3h0M378.32 128.16h0M369.6 126.96h0M356.36 95h0M320.21 81.03h0M342.37 128.28h0M309.43 115.49h0M349.82 119.31h0M355.89 83.91h0M314.04 85.97h0M337.79 132.33h0M324.37 88.22h0M298.25 65.53h0M305.13 88.65h0M308.06 109h0M378.96 107.02h0M357.02 102.61h0M325.15 101.98h0M359.84 119.8h0M318.47 108.59h0M329.39 115.18h0M333.28 65.78h0M296.7 92.66h0M308.07 118.83h0M329.8 79.25h0M375.18 112.27h0M299.13 137.64h0M368.18 83.01h0M339.67 135.99h0M333.27 121.01h0M366.18 93.81h0M338.37 85.99h0M378.87 139.61h0M302.84 102.32h0M374.95 129.23h0M298.46 145.02h0M355.12 109.81h0M340.83 69.24h0M331.95 76.74h0M342.17 144.1h0M347.82 129.56h0M311.23 97.51h0M317.16 82.02h0M357.83 101.01h0M353.84 114.84h0M375.3 113.72h0M342 138.75h0M334.66 143.32h0M364.85 134.77h0M365.73 109.89h0M352.93 140.83h0M300.79 78.67h0M362.08 72.65h0M325.37 68.12h0M306.33 139.43h0M312.71 146.47h0M370.9 85.21h0M340.26 140.12h0M311.52 142.49h0M298.82 97.41h0M343.27 65.5h0M346.34 85.78h0M312.14 95.11h0M355.98 105.93h0M349.36 97.84h0M377.61 144.2h0M347.83 103.6h0M365.03 94.85h0M332.99 116.78h0M367.13 146.69h0M342.85 108.53h0M345.41 146.85h0M351.49 117.92h0" stroke="#8496c2" stroke-width="2.1" stroke-linecap="round" stroke-opacity="0.9"/>
<path d="M309.95 114.45h0M291.96 141.96h0M366.01 125.64h0M305.77 89.12h0M315 147.7h0M349.81 112.56h0M367.7 118.31h0M313.26 108.27h0M293.74 88.03h0M329.43 113.75h0M347.5 92.29h0M351.66 65.53h0M333.16 134.49h0M345.9 67.94h0M372.98 73.46h0M330.99 79.97h0M334.66 76.37h0M302.85 116.62h0M372.81 77.49h0M292.79 94.87h0M317.71 131.01h0M317.18 85.54h0M369.32 113.28h0M319.83 94.38h0M293.6 147.62h0M313.3 141.56h0M327.06 91.07h0M304.89 102.76h0M365.87 139.57h0M349.45 73.99h0M352.96 72.1h0M322.86 83.3h0M315.83 137.11h0M349.25 131.04h0M357.51 126.94h0M374.02 128.27h0M362.73 73.63h0M317.21 64.51h0M295.99 124.23h0M328.05 121.01h0M317.53 126.95h0M373.77 112.73h0M312.08 128.07h0M328.29 89.87h0M294.23 143.07h0M351.99 89.78h0M328.23 86.23h0M307.63 107.59h0M336.62 124.94h0M339.45 112.93h0M366.65 119.87h0M319.31 108.93h0M315.52 87.16h0M342.7 62.78h0M295.25 113.54h0M349.92 94.75h0M320.7 112.17h0M288.9 91.1h0M297.53 139.92h0M298.96 98.48h0M359.21 141.41h0M296.16 71.53h0M298.92 111.19h0M374.14 139.86h0M328.26 119.68h0M363.48 103.24h0M318.78 149.28h0M348.69 105.73h0M374.34 91.25h0M297.6 133.88h0M312.59 125.3h0M328.3 68.82h0M316.94 144.89h0M315.29 99.68h0M340.65 120.27h0M331.96 117.26h0M309.84 131.05h0M325.45 79.32h0M334.55 115.68h0M341.64 141.47h0M325.02 127.54h0M321.67 112.2h0M352.24 149.18h0M356.54 88.52h0M347.97 131.17h0M289.53 105.99h0M331.32 119.35h0M343.84 133.17h0M359.89 115.89h0M348.3 130.78h0M354.45 143.66h0M325.88 92.81h0M376.03 102.49h0M339.21 116.23h0M346.44 123.1h0M311.47 142.57h0M341.71 112.73h0M291.39 103.55h0M342.46 81.58h0M335.24 118.34h0M365.41 86.06h0M313.54 81.48h0M309.14 123.77h0M292.62 90.83h0M321.06 104.66h0M331.09 148.16h0M340.65 100.64h0M349.26 122.86h0M300.31 105.94h0M353.04 79.3h0M325.37 77.7h0M329.48 105.5h0M295.58 81.19h0M327.47 98.94h0M359 112.28h0M306.32 110.45h0M346.42 110.84h0M338 114.11h0M373.81 73.18h0M338.56 130.46h0M342.25 146.55h0M343.67 99.25h0M378.41 111.54h0M347.85 109.85h0M354.41 64.53h0M343.39 131.03h0M339.62 111.07h0M343.26 120.41h0M322.69 72.44h0M294.17 79.7h0M349.37 105.02h0M289.46 126.75h0M316.98 74.34h0M298.21 112.22h0M342.58 88.09h0M291.02 103.17h0M326.04 62.98h0M301.72 126.6h0M303.77 144.67h0M340.53 62.78h0M310.64 127.45h0M371.26 116.41h0M301.17 134.77h0M303.83 121.53h0M371.22 100.47h0M319.7 123.35h0M289.59 111.57h0M336.01 136.79h0M322.32 102.3h0M319 93.96h0M341.31 77.82h0M330.36 133.77h0M297.2 131.42h0M372.16 73.75h0M359.9 68.76h0M355.82 118.41h0M289.06 77.06h0M377.46 71.59h0M298.6 83.52h0M377.84 74.52h0" stroke="#52669a" stroke-width="1.5" stroke-linecap="round" stroke-opacity="0.9"/>
<path d="M295.95 118.86h0M296.36 120.1h0M297.23 115.7h0M296.27 116.76h0M296.03 114.44h0M299.3 119.5h0M296.49 117.39h0M297.38 115.65h0M298.65 116.54h0M299.49 116.75h0M296.03 114.88h0M298.58 119.78h0" stroke="#94665c" stroke-width="2.3" stroke-linecap="round" stroke-opacity="0.55"/>
<path d="M337.93 120.7h0M336.32 121.89h0M339.8 115.49h0M339.29 118.76h0M337.18 121.26h0M339.04 122.48h0M339.17 122.18h0M338.83 117.97h0M338.13 115.41h0M337.28 118.31h0M340.7 121.39h0M340.54 119.18h0" stroke="#94665c" stroke-width="2.3" stroke-linecap="round" stroke-opacity="0.55"/>
<path d="M262.56 56.23h0M260.88 57.89h0M262.4 56.59h0M261.13 58.82h0M261.18 57.48h0M262 56.24h0M260.59 56.72h0M261.32 56.77h0M261.8 57.57h0M262.84 59.58h0M261.69 59.43h0M261.62 59.4h0" stroke="#94665c" stroke-width="2.3" stroke-linecap="round" stroke-opacity="0.55"/>
<path d="M257.16 46.87h0M259.16 46.72h0M258.42 46.27h0M258.68 47.14h0M259.19 46.86h0M258.52 47.48h0M258.3 47.35h0M257.86 45.92h0M257.42 48.1h0M259.16 47.31h0M259.09 48.04h0M257.05 45.65h0" stroke="#94665c" stroke-width="2.3" stroke-linecap="round" stroke-opacity="0.55"/>
</g>
<path d="M70.82,17.37L73.04,14.35L74.54,17.78ZM71.3,19.25L74.9,20.28L72.21,22.88ZM95.64,28.36L94.85,24.7L98.41,25.84ZM47.92,76.01L45.9,79.16L44.18,75.84ZM53.73,122.68L52.75,126.29L50.12,123.63ZM146.38,82.38L150.05,83.1L147.58,85.92ZM144.83,87.93L148.33,89.25L145.44,91.62ZM152.24,87.79L148.52,87.36L150.75,84.35ZM189.12,102.63L185.45,101.89L187.93,99.08ZM183.67,100.17L183.89,103.91L180.54,102.22ZM265.79,13.25L267.97,16.29L264.24,16.66ZM275.92,27.1L276.96,30.7L273.33,29.8ZM258.47,36.02L259.45,32.41L262.09,35.06ZM277.16,47.05L278.79,50.42L275.05,50.14ZM243.98,54.93L246.7,57.49L243.12,58.57ZM273.39,60.71L277.09,60.15L275.72,63.64ZM295.5,35.35L296.4,31.72L299.1,34.32ZM333.81,28.64L335.66,31.89L331.92,31.87ZM375.7,55.97L373.75,59.16L371.96,55.87ZM236.39,141.08L236.57,144.82L233.24,143.1ZM241.12,145.13L239.85,141.61L243.53,142.27ZM249.51,140.64L247.19,137.7L250.9,137.16ZM220.78,129.72L217.87,127.36L221.36,126.02ZM335.51,67.31L331.81,66.83L334.08,63.86ZM337.99,68.88L338.17,72.62L334.84,70.91ZM363.09,72.26L359.44,71.45L361.97,68.69ZM291.35,93.46L294.45,95.55L291.09,97.19ZM364.01,97.66L367.72,97.19L366.27,100.64ZM343.76,102.61L346.74,104.87L343.3,106.32ZM363.93,122.37L367.58,121.52L366.49,125.1ZM299.16,123.04L295.89,124.85L295.95,121.11ZM338.97,125.49L335.24,125.86L336.79,122.45ZM260.46,45.48L264.08,46.43L261.45,49.09ZM269.93,56.97L266.19,57.18L267.88,53.84Z" fill="#111" fill-opacity="0.9"/>
<line x1="198.5" y1="12" x2="198.5" y2="150" stroke="#fff" stroke-width="1"/>
<rect x="101" y="61" width="97.5" height="89" fill="none" stroke="#fff" stroke-width="1"/>
<rect x="287" y="61.5" width="92" height="88.5" fill="none" stroke="#fff" stroke-width="1"/>
<rect x="54" y="13" width="47.5" height="39" fill="none" stroke="#222" stroke-width="0.85" stroke-dasharray="1.7 1.1"/>
<rect x="239.4" y="27" width="46.6" height="41" fill="none" stroke="#222" stroke-width="0.85" stroke-dasharray="1.7 1.1"/>
<line x1="364" y1="19.5" x2="377" y2="19.5" stroke="#000" stroke-width="1"/>
<line x1="355" y1="143.5" x2="377.5" y2="143.5" stroke="#000" stroke-width="1"/>
<text x="108.8" y="7.9" text-anchor="middle" style="font-size:10.8px;font-weight:bold;fill:#111" stroke="#111" stroke-width="0.3">IT</text>
<text x="279" y="7.9" text-anchor="middle" style="font-size:10.8px;font-weight:bold;fill:#111" stroke="#111" stroke-width="0.3">PT</text>
<text x="2.5" y="18.5" style="font-size:12.6px;font-weight:bold;fill:#000" stroke="#000" stroke-width="0.45">A</text>
<text x="2.5" y="167" style="font-size:12.6px;font-weight:bold;fill:#000" stroke="#000" stroke-width="0.45">C</text>
<path d="M106.76 180.38a2.1 2.1 0 1 0 4.2 0a2.1 2.1 0 1 0 -4.2 0M105.03 191.63a2.1 2.1 0 1 0 4.2 0a2.1 2.1 0 1 0 -4.2 0M94.13 193.7a2.1 2.1 0 1 0 4.2 0a2.1 2.1 0 1 0 -4.2 0M98.45 200.8a2.1 2.1 0 1 0 4.2 0a2.1 2.1 0 1 0 -4.2 0M107.97 202.53a2.1 2.1 0 1 0 4.2 0a2.1 2.1 0 1 0 -4.2 0M105.37 204.26a2.1 2.1 0 1 0 4.2 0a2.1 2.1 0 1 0 -4.2 0M50.01 194.57a2.1 2.1 0 1 0 4.2 0a2.1 2.1 0 1 0 -4.2 0M50.01 206.33a2.1 2.1 0 1 0 4.2 0a2.1 2.1 0 1 0 -4.2 0M60.39 211a2.1 2.1 0 1 0 4.2 0a2.1 2.1 0 1 0 -4.2 0M79.42 211a2.1 2.1 0 1 0 4.2 0a2.1 2.1 0 1 0 -4.2 0M86 207.72a2.1 2.1 0 1 0 4.2 0a2.1 2.1 0 1 0 -4.2 0M89.46 206.68a2.1 2.1 0 1 0 4.2 0a2.1 2.1 0 1 0 -4.2 0M96.72 207.2a2.1 2.1 0 1 0 4.2 0a2.1 2.1 0 1 0 -4.2 0M89.46 211.52a2.1 2.1 0 1 0 4.2 0a2.1 2.1 0 1 0 -4.2 0M86.69 215.33a2.1 2.1 0 1 0 4.2 0a2.1 2.1 0 1 0 -4.2 0M88.07 212.91a2.1 2.1 0 1 0 4.2 0a2.1 2.1 0 1 0 -4.2 0M87.21 219.31a2.1 2.1 0 1 0 4.2 0a2.1 2.1 0 1 0 -4.2 0M96.38 211.52a2.1 2.1 0 1 0 4.2 0a2.1 2.1 0 1 0 -4.2 0M97.59 222.25a2.1 2.1 0 1 0 4.2 0a2.1 2.1 0 1 0 -4.2 0M75.1 223.63a2.1 2.1 0 1 0 4.2 0a2.1 2.1 0 1 0 -4.2 0M63.85 225.36a2.1 2.1 0 1 0 4.2 0a2.1 2.1 0 1 0 -4.2 0M64.2 228.82a2.1 2.1 0 1 0 4.2 0a2.1 2.1 0 1 0 -4.2 0M68.18 235.4a2.1 2.1 0 1 0 4.2 0a2.1 2.1 0 1 0 -4.2 0M44.82 214.64a2.1 2.1 0 1 0 4.2 0a2.1 2.1 0 1 0 -4.2 0M43.09 221.9a2.1 2.1 0 1 0 4.2 0a2.1 2.1 0 1 0 -4.2 0M53.47 223.63a2.1 2.1 0 1 0 4.2 0a2.1 2.1 0 1 0 -4.2 0M82.88 228.82a2.1 2.1 0 1 0 4.2 0a2.1 2.1 0 1 0 -4.2 0M88.07 230.55a2.1 2.1 0 1 0 4.2 0a2.1 2.1 0 1 0 -4.2 0M93.26 229.69a2.1 2.1 0 1 0 4.2 0a2.1 2.1 0 1 0 -4.2 0M94.99 238.34a2.1 2.1 0 1 0 4.2 0a2.1 2.1 0 1 0 -4.2 0M105.37 240.93a2.1 2.1 0 1 0 4.2 0a2.1 2.1 0 1 0 -4.2 0M107.1 243.53a2.1 2.1 0 1 0 4.2 0a2.1 2.1 0 1 0 -4.2 0M96.72 249.58a2.1 2.1 0 1 0 4.2 0a2.1 2.1 0 1 0 -4.2 0M74.23 238.34a2.1 2.1 0 1 0 4.2 0a2.1 2.1 0 1 0 -4.2 0M79.42 238.34a2.1 2.1 0 1 0 4.2 0a2.1 2.1 0 1 0 -4.2 0M84.61 242.66a2.1 2.1 0 1 0 4.2 0a2.1 2.1 0 1 0 -4.2 0M61.26 244.05a2.1 2.1 0 1 0 4.2 0a2.1 2.1 0 1 0 -4.2 0M55.2 239.2a2.1 2.1 0 1 0 4.2 0a2.1 2.1 0 1 0 -4.2 0M41.36 225.36a2.1 2.1 0 1 0 4.2 0a2.1 2.1 0 1 0 -4.2 0M48.28 227.09a2.1 2.1 0 1 0 4.2 0a2.1 2.1 0 1 0 -4.2 0M45.69 232.28a2.1 2.1 0 1 0 4.2 0a2.1 2.1 0 1 0 -4.2 0M52.61 233.15a2.1 2.1 0 1 0 4.2 0a2.1 2.1 0 1 0 -4.2 0M40.5 238.34a2.1 2.1 0 1 0 4.2 0a2.1 2.1 0 1 0 -4.2 0M47.42 239.2a2.1 2.1 0 1 0 4.2 0a2.1 2.1 0 1 0 -4.2 0M54.34 246.12a2.1 2.1 0 1 0 4.2 0a2.1 2.1 0 1 0 -4.2 0M81.15 246.12a2.1 2.1 0 1 0 4.2 0a2.1 2.1 0 1 0 -4.2 0M86.34 247.85a2.1 2.1 0 1 0 4.2 0a2.1 2.1 0 1 0 -4.2 0M89.8 251.31a2.1 2.1 0 1 0 4.2 0a2.1 2.1 0 1 0 -4.2 0M77.69 251.31a2.1 2.1 0 1 0 4.2 0a2.1 2.1 0 1 0 -4.2 0M75.96 256.51a2.1 2.1 0 1 0 4.2 0a2.1 2.1 0 1 0 -4.2 0M83.75 257.37a2.1 2.1 0 1 0 4.2 0a2.1 2.1 0 1 0 -4.2 0M69.04 256.51a2.1 2.1 0 1 0 4.2 0a2.1 2.1 0 1 0 -4.2 0M65.58 258.24a2.1 2.1 0 1 0 4.2 0a2.1 2.1 0 1 0 -4.2 0M58.66 257.37a2.1 2.1 0 1 0 4.2 0a2.1 2.1 0 1 0 -4.2 0M55.2 255.64a2.1 2.1 0 1 0 4.2 0a2.1 2.1 0 1 0 -4.2 0M62.12 254.78a2.1 2.1 0 1 0 4.2 0a2.1 2.1 0 1 0 -4.2 0M72.5 259.1a2.1 2.1 0 1 0 4.2 0a2.1 2.1 0 1 0 -4.2 0M79.42 259.97a2.1 2.1 0 1 0 4.2 0a2.1 2.1 0 1 0 -4.2 0M88.07 259.1a2.1 2.1 0 1 0 4.2 0a2.1 2.1 0 1 0 -4.2 0M48.28 244.39a2.1 2.1 0 1 0 4.2 0a2.1 2.1 0 1 0 -4.2 0M46.89 252.46a2.1 2.1 0 1 0 4.2 0a2.1 2.1 0 1 0 -4.2 0M54.22 227.74a2.1 2.1 0 1 0 4.2 0a2.1 2.1 0 1 0 -4.2 0M43.62 243.31a2.1 2.1 0 1 0 4.2 0a2.1 2.1 0 1 0 -4.2 0M54.59 258.46a2.1 2.1 0 1 0 4.2 0a2.1 2.1 0 1 0 -4.2 0M48.62 243.32a2.1 2.1 0 1 0 4.2 0a2.1 2.1 0 1 0 -4.2 0M54.73 235.91a2.1 2.1 0 1 0 4.2 0a2.1 2.1 0 1 0 -4.2 0M46.25 259.62a2.1 2.1 0 1 0 4.2 0a2.1 2.1 0 1 0 -4.2 0M50.82 238.28a2.1 2.1 0 1 0 4.2 0a2.1 2.1 0 1 0 -4.2 0M55.48 227.38a2.1 2.1 0 1 0 4.2 0a2.1 2.1 0 1 0 -4.2 0M52.83 250.46a2.1 2.1 0 1 0 4.2 0a2.1 2.1 0 1 0 -4.2 0M49.5 253.85a2.1 2.1 0 1 0 4.2 0a2.1 2.1 0 1 0 -4.2 0M46 230.76a2.1 2.1 0 1 0 4.2 0a2.1 2.1 0 1 0 -4.2 0M54.49 231.83a2.1 2.1 0 1 0 4.2 0a2.1 2.1 0 1 0 -4.2 0M51.11 258.19a2.1 2.1 0 1 0 4.2 0a2.1 2.1 0 1 0 -4.2 0M45.46 259.98a2.1 2.1 0 1 0 4.2 0a2.1 2.1 0 1 0 -4.2 0M53.66 231a2.1 2.1 0 1 0 4.2 0a2.1 2.1 0 1 0 -4.2 0M44.79 243.15a2.1 2.1 0 1 0 4.2 0a2.1 2.1 0 1 0 -4.2 0M45.89 243.76a2.1 2.1 0 1 0 4.2 0a2.1 2.1 0 1 0 -4.2 0M55.25 253.17a2.1 2.1 0 1 0 4.2 0a2.1 2.1 0 1 0 -4.2 0M46.8 256.65a2.1 2.1 0 1 0 4.2 0a2.1 2.1 0 1 0 -4.2 0M51.39 246.79a2.1 2.1 0 1 0 4.2 0a2.1 2.1 0 1 0 -4.2 0M51.64 255.73a2.1 2.1 0 1 0 4.2 0a2.1 2.1 0 1 0 -4.2 0M49.88 251.59a2.1 2.1 0 1 0 4.2 0a2.1 2.1 0 1 0 -4.2 0M48.27 258.82a2.1 2.1 0 1 0 4.2 0a2.1 2.1 0 1 0 -4.2 0M52.47 246.72a2.1 2.1 0 1 0 4.2 0a2.1 2.1 0 1 0 -4.2 0M43.77 227.6a2.1 2.1 0 1 0 4.2 0a2.1 2.1 0 1 0 -4.2 0M48.38 259.95a2.1 2.1 0 1 0 4.2 0a2.1 2.1 0 1 0 -4.2 0M45.8 259.58a2.1 2.1 0 1 0 4.2 0a2.1 2.1 0 1 0 -4.2 0M49.36 230.68a2.1 2.1 0 1 0 4.2 0a2.1 2.1 0 1 0 -4.2 0M45.11 227.64a2.1 2.1 0 1 0 4.2 0a2.1 2.1 0 1 0 -4.2 0M45.22 259.93a2.1 2.1 0 1 0 4.2 0a2.1 2.1 0 1 0 -4.2 0M55.82 234.11a2.1 2.1 0 1 0 4.2 0a2.1 2.1 0 1 0 -4.2 0M43.6 248.74a2.1 2.1 0 1 0 4.2 0a2.1 2.1 0 1 0 -4.2 0M53.99 258.86a2.1 2.1 0 1 0 4.2 0a2.1 2.1 0 1 0 -4.2 0M45.46 255.86a2.1 2.1 0 1 0 4.2 0a2.1 2.1 0 1 0 -4.2 0M49.68 233.44a2.1 2.1 0 1 0 4.2 0a2.1 2.1 0 1 0 -4.2 0M46.41 253.27a2.1 2.1 0 1 0 4.2 0a2.1 2.1 0 1 0 -4.2 0M52.21 242.86a2.1 2.1 0 1 0 4.2 0a2.1 2.1 0 1 0 -4.2 0M45.53 245.72a2.1 2.1 0 1 0 4.2 0a2.1 2.1 0 1 0 -4.2 0M50.52 259.04a2.1 2.1 0 1 0 4.2 0a2.1 2.1 0 1 0 -4.2 0M47.35 256.1a2.1 2.1 0 1 0 4.2 0a2.1 2.1 0 1 0 -4.2 0M46.63 259.06a2.1 2.1 0 1 0 4.2 0a2.1 2.1 0 1 0 -4.2 0M50.72 248.73a2.1 2.1 0 1 0 4.2 0a2.1 2.1 0 1 0 -4.2 0M53.52 255.42a2.1 2.1 0 1 0 4.2 0a2.1 2.1 0 1 0 -4.2 0M53.55 259.81a2.1 2.1 0 1 0 4.2 0a2.1 2.1 0 1 0 -4.2 0M53.05 253.37a2.1 2.1 0 1 0 4.2 0a2.1 2.1 0 1 0 -4.2 0M51 239.99a2.1 2.1 0 1 0 4.2 0a2.1 2.1 0 1 0 -4.2 0M44.76 259.86a2.1 2.1 0 1 0 4.2 0a2.1 2.1 0 1 0 -4.2 0M49.81 237.66a2.1 2.1 0 1 0 4.2 0a2.1 2.1 0 1 0 -4.2 0M45.86 254.8a2.1 2.1 0 1 0 4.2 0a2.1 2.1 0 1 0 -4.2 0M53.98 241.54a2.1 2.1 0 1 0 4.2 0a2.1 2.1 0 1 0 -4.2 0M52.42 228.16a2.1 2.1 0 1 0 4.2 0a2.1 2.1 0 1 0 -4.2 0M51.77 252.32a2.1 2.1 0 1 0 4.2 0a2.1 2.1 0 1 0 -4.2 0M43.01 230.37a2.1 2.1 0 1 0 4.2 0a2.1 2.1 0 1 0 -4.2 0M55.46 258.95a2.1 2.1 0 1 0 4.2 0a2.1 2.1 0 1 0 -4.2 0M44.18 258.83a2.1 2.1 0 1 0 4.2 0a2.1 2.1 0 1 0 -4.2 0M44.94 256.8a2.1 2.1 0 1 0 4.2 0a2.1 2.1 0 1 0 -4.2 0M55.38 257.34a2.1 2.1 0 1 0 4.2 0a2.1 2.1 0 1 0 -4.2 0M81.44 248.06a2.1 2.1 0 1 0 4.2 0a2.1 2.1 0 1 0 -4.2 0M74.74 248.71a2.1 2.1 0 1 0 4.2 0a2.1 2.1 0 1 0 -4.2 0M83.56 244.9a2.1 2.1 0 1 0 4.2 0a2.1 2.1 0 1 0 -4.2 0M87.46 244.05a2.1 2.1 0 1 0 4.2 0a2.1 2.1 0 1 0 -4.2 0M82.63 249.58a2.1 2.1 0 1 0 4.2 0a2.1 2.1 0 1 0 -4.2 0M74.24 250.03a2.1 2.1 0 1 0 4.2 0a2.1 2.1 0 1 0 -4.2 0M78.39 256.43a2.1 2.1 0 1 0 4.2 0a2.1 2.1 0 1 0 -4.2 0M71.32 251.22a2.1 2.1 0 1 0 4.2 0a2.1 2.1 0 1 0 -4.2 0M87.57 257.57a2.1 2.1 0 1 0 4.2 0a2.1 2.1 0 1 0 -4.2 0M80.71 247.41a2.1 2.1 0 1 0 4.2 0a2.1 2.1 0 1 0 -4.2 0M80.25 244.48a2.1 2.1 0 1 0 4.2 0a2.1 2.1 0 1 0 -4.2 0M85.09 252.21a2.1 2.1 0 1 0 4.2 0a2.1 2.1 0 1 0 -4.2 0M71.32 256.24a2.1 2.1 0 1 0 4.2 0a2.1 2.1 0 1 0 -4.2 0M86.09 254.85a2.1 2.1 0 1 0 4.2 0a2.1 2.1 0 1 0 -4.2 0M72.98 251.04a2.1 2.1 0 1 0 4.2 0a2.1 2.1 0 1 0 -4.2 0M77.44 251.9a2.1 2.1 0 1 0 4.2 0a2.1 2.1 0 1 0 -4.2 0M71.06 246.93a2.1 2.1 0 1 0 4.2 0a2.1 2.1 0 1 0 -4.2 0M77.7 259.07a2.1 2.1 0 1 0 4.2 0a2.1 2.1 0 1 0 -4.2 0M81.46 245.56a2.1 2.1 0 1 0 4.2 0a2.1 2.1 0 1 0 -4.2 0M73.87 259.99a2.1 2.1 0 1 0 4.2 0a2.1 2.1 0 1 0 -4.2 0M80.44 259.17a2.1 2.1 0 1 0 4.2 0a2.1 2.1 0 1 0 -4.2 0M76.38 253.76a2.1 2.1 0 1 0 4.2 0a2.1 2.1 0 1 0 -4.2 0M79.37 246.43a2.1 2.1 0 1 0 4.2 0a2.1 2.1 0 1 0 -4.2 0M82.04 245.22a2.1 2.1 0 1 0 4.2 0a2.1 2.1 0 1 0 -4.2 0M84.13 254.27a2.1 2.1 0 1 0 4.2 0a2.1 2.1 0 1 0 -4.2 0M85.3 258.99a2.1 2.1 0 1 0 4.2 0a2.1 2.1 0 1 0 -4.2 0M79.13 256.73a2.1 2.1 0 1 0 4.2 0a2.1 2.1 0 1 0 -4.2 0M81.4 259a2.1 2.1 0 1 0 4.2 0a2.1 2.1 0 1 0 -4.2 0M83.39 244.99a2.1 2.1 0 1 0 4.2 0a2.1 2.1 0 1 0 -4.2 0M72.36 249.19a2.1 2.1 0 1 0 4.2 0a2.1 2.1 0 1 0 -4.2 0M73.62 256.98a2.1 2.1 0 1 0 4.2 0a2.1 2.1 0 1 0 -4.2 0M84.35 256.15a2.1 2.1 0 1 0 4.2 0a2.1 2.1 0 1 0 -4.2 0M81.16 257.12a2.1 2.1 0 1 0 4.2 0a2.1 2.1 0 1 0 -4.2 0M79.11 245.42a2.1 2.1 0 1 0 4.2 0a2.1 2.1 0 1 0 -4.2 0M87.26 251.73a2.1 2.1 0 1 0 4.2 0a2.1 2.1 0 1 0 -4.2 0M74.36 250.01a2.1 2.1 0 1 0 4.2 0a2.1 2.1 0 1 0 -4.2 0M73.03 245.66a2.1 2.1 0 1 0 4.2 0a2.1 2.1 0 1 0 -4.2 0M72.16 259.77a2.1 2.1 0 1 0 4.2 0a2.1 2.1 0 1 0 -4.2 0M71.12 247.8a2.1 2.1 0 1 0 4.2 0a2.1 2.1 0 1 0 -4.2 0M87.19 243.19a2.1 2.1 0 1 0 4.2 0a2.1 2.1 0 1 0 -4.2 0M84.57 258.25a2.1 2.1 0 1 0 4.2 0a2.1 2.1 0 1 0 -4.2 0M85.4 253.94a2.1 2.1 0 1 0 4.2 0a2.1 2.1 0 1 0 -4.2 0M77.79 257.86a2.1 2.1 0 1 0 4.2 0a2.1 2.1 0 1 0 -4.2 0M73.38 252.1a2.1 2.1 0 1 0 4.2 0a2.1 2.1 0 1 0 -4.2 0M83.27 244.17a2.1 2.1 0 1 0 4.2 0a2.1 2.1 0 1 0 -4.2 0M82.81 255.11a2.1 2.1 0 1 0 4.2 0a2.1 2.1 0 1 0 -4.2 0M70.05 259.04a2.1 2.1 0 1 0 4.2 0a2.1 2.1 0 1 0 -4.2 0M45.78 258.91a2.1 2.1 0 1 0 4.2 0a2.1 2.1 0 1 0 -4.2 0M92.56 258.38a2.1 2.1 0 1 0 4.2 0a2.1 2.1 0 1 0 -4.2 0M58.35 256.67a2.1 2.1 0 1 0 4.2 0a2.1 2.1 0 1 0 -4.2 0M74.34 257.33a2.1 2.1 0 1 0 4.2 0a2.1 2.1 0 1 0 -4.2 0M49.61 253.01a2.1 2.1 0 1 0 4.2 0a2.1 2.1 0 1 0 -4.2 0M74.82 259.48a2.1 2.1 0 1 0 4.2 0a2.1 2.1 0 1 0 -4.2 0M63.67 259.56a2.1 2.1 0 1 0 4.2 0a2.1 2.1 0 1 0 -4.2 0M55.18 257.97a2.1 2.1 0 1 0 4.2 0a2.1 2.1 0 1 0 -4.2 0M71.11 254.7a2.1 2.1 0 1 0 4.2 0a2.1 2.1 0 1 0 -4.2 0M54.04 257.78a2.1 2.1 0 1 0 4.2 0a2.1 2.1 0 1 0 -4.2 0M97.07 258.91a2.1 2.1 0 1 0 4.2 0a2.1 2.1 0 1 0 -4.2 0M56.36 253.11a2.1 2.1 0 1 0 4.2 0a2.1 2.1 0 1 0 -4.2 0M64.5 257.62a2.1 2.1 0 1 0 4.2 0a2.1 2.1 0 1 0 -4.2 0M67.58 258.84a2.1 2.1 0 1 0 4.2 0a2.1 2.1 0 1 0 -4.2 0M87.53 255.64a2.1 2.1 0 1 0 4.2 0a2.1 2.1 0 1 0 -4.2 0M43.9 256.38a2.1 2.1 0 1 0 4.2 0a2.1 2.1 0 1 0 -4.2 0M79.3 255.64a2.1 2.1 0 1 0 4.2 0a2.1 2.1 0 1 0 -4.2 0M96.98 258.12a2.1 2.1 0 1 0 4.2 0a2.1 2.1 0 1 0 -4.2 0M42.57 253.44a2.1 2.1 0 1 0 4.2 0a2.1 2.1 0 1 0 -4.2 0M77.37 253.15a2.1 2.1 0 1 0 4.2 0a2.1 2.1 0 1 0 -4.2 0M48.12 256.41a2.1 2.1 0 1 0 4.2 0a2.1 2.1 0 1 0 -4.2 0M62.74 255.17a2.1 2.1 0 1 0 4.2 0a2.1 2.1 0 1 0 -4.2 0M44 259.01a2.1 2.1 0 1 0 4.2 0a2.1 2.1 0 1 0 -4.2 0M48.12 256.38a2.1 2.1 0 1 0 4.2 0a2.1 2.1 0 1 0 -4.2 0M70.25 254.24a2.1 2.1 0 1 0 4.2 0a2.1 2.1 0 1 0 -4.2 0M63.72 253.7a2.1 2.1 0 1 0 4.2 0a2.1 2.1 0 1 0 -4.2 0M77.82 253.02a2.1 2.1 0 1 0 4.2 0a2.1 2.1 0 1 0 -4.2 0M43.82 255.14a2.1 2.1 0 1 0 4.2 0a2.1 2.1 0 1 0 -4.2 0" fill="none" stroke="#111" stroke-width="1"/>
<line x1="53.8" y1="247.9" x2="109.2" y2="228" stroke="#111" stroke-width="1"/>
<line x1="43.75" y1="174.2" x2="43.75" y2="261" stroke="#111" stroke-width="1.15"/>
<line x1="41.15" y1="260.5" x2="43.75" y2="260.5" stroke="#111" stroke-width="1"/>
<text x="40.35" y="263.81" text-anchor="end" style="font-size:9.2px">0.00</text>
<line x1="41.15" y1="239.05" x2="43.75" y2="239.05" stroke="#111" stroke-width="1"/>
<text x="40.35" y="242.36" text-anchor="end" style="font-size:9.2px">0.01</text>
<line x1="41.15" y1="217.6" x2="43.75" y2="217.6" stroke="#111" stroke-width="1"/>
<text x="40.35" y="220.91" text-anchor="end" style="font-size:9.2px">0.02</text>
<line x1="41.15" y1="196.15" x2="43.75" y2="196.15" stroke="#111" stroke-width="1"/>
<text x="40.35" y="199.46" text-anchor="end" style="font-size:9.2px">0.03</text>
<line x1="41.15" y1="174.7" x2="43.75" y2="174.7" stroke="#111" stroke-width="1"/>
<text x="40.35" y="178.01" text-anchor="end" style="font-size:9.2px">0.04</text>
<line x1="43.25" y1="260.5" x2="126" y2="260.5" stroke="#111" stroke-width="1.2"/>
<line x1="43.75" y1="260.5" x2="43.75" y2="263.1" stroke="#111" stroke-width="1"/>
<text x="43.75" y="273.92" text-anchor="middle" style="font-size:9px">0</text>
<line x1="80.4" y1="260.5" x2="80.4" y2="263.1" stroke="#111" stroke-width="1"/>
<text x="80.4" y="273.92" text-anchor="middle" style="font-size:9px">50</text>
<line x1="117.05" y1="260.5" x2="117.05" y2="263.1" stroke="#111" stroke-width="1"/>
<text x="117.05" y="273.92" text-anchor="middle" style="font-size:9px">100</text>
<text x="16.3" y="217" text-anchor="middle" transform="rotate(-90 16.3 217)" style="font-size:9.6px">CD160 (IT)</text>
<text x="85.8" y="285.8" text-anchor="middle" style="font-size:8.75px">Disease-free survival (months)</text>
<text x="50" y="178.5" style="font-size:9px"><tspan font-style="italic">r</tspan> = 0.4055</text>
<text x="47.6" y="188.4" style="font-size:8.7px"><tspan font-style="italic">P</tspan> &lt; 0.0001</text>
<path d="M247.29 180.38a2.1 2.1 0 1 0 4.2 0a2.1 2.1 0 1 0 -4.2 0M245.22 191.63a2.1 2.1 0 1 0 4.2 0a2.1 2.1 0 1 0 -4.2 0M233.45 194.22a2.1 2.1 0 1 0 4.2 0a2.1 2.1 0 1 0 -4.2 0M243.83 194.22a2.1 2.1 0 1 0 4.2 0a2.1 2.1 0 1 0 -4.2 0M238.64 200.8a2.1 2.1 0 1 0 4.2 0a2.1 2.1 0 1 0 -4.2 0M249.02 202.87a2.1 2.1 0 1 0 4.2 0a2.1 2.1 0 1 0 -4.2 0M245.56 204.6a2.1 2.1 0 1 0 4.2 0a2.1 2.1 0 1 0 -4.2 0M185.88 206.33a2.1 2.1 0 1 0 4.2 0a2.1 2.1 0 1 0 -4.2 0M186.39 214.64a2.1 2.1 0 1 0 4.2 0a2.1 2.1 0 1 0 -4.2 0M218.23 211a2.1 2.1 0 1 0 4.2 0a2.1 2.1 0 1 0 -4.2 0M224.8 207.2a2.1 2.1 0 1 0 4.2 0a2.1 2.1 0 1 0 -4.2 0M228.61 206.68a2.1 2.1 0 1 0 4.2 0a2.1 2.1 0 1 0 -4.2 0M236.05 207.2a2.1 2.1 0 1 0 4.2 0a2.1 2.1 0 1 0 -4.2 0M236.91 211.52a2.1 2.1 0 1 0 4.2 0a2.1 2.1 0 1 0 -4.2 0M239.51 211.52a2.1 2.1 0 1 0 4.2 0a2.1 2.1 0 1 0 -4.2 0M226.53 213.25a2.1 2.1 0 1 0 4.2 0a2.1 2.1 0 1 0 -4.2 0M224.8 216.71a2.1 2.1 0 1 0 4.2 0a2.1 2.1 0 1 0 -4.2 0M225.67 221.04a2.1 2.1 0 1 0 4.2 0a2.1 2.1 0 1 0 -4.2 0M224.8 225.36a2.1 2.1 0 1 0 4.2 0a2.1 2.1 0 1 0 -4.2 0M237.78 222.25a2.1 2.1 0 1 0 4.2 0a2.1 2.1 0 1 0 -4.2 0M190.2 221.9a2.1 2.1 0 1 0 4.2 0a2.1 2.1 0 1 0 -4.2 0M191.07 225.02a2.1 2.1 0 1 0 4.2 0a2.1 2.1 0 1 0 -4.2 0M182.42 225.02a2.1 2.1 0 1 0 4.2 0a2.1 2.1 0 1 0 -4.2 0M201.45 228.82a2.1 2.1 0 1 0 4.2 0a2.1 2.1 0 1 0 -4.2 0M209.23 233.67a2.1 2.1 0 1 0 4.2 0a2.1 2.1 0 1 0 -4.2 0M212.69 238.34a2.1 2.1 0 1 0 4.2 0a2.1 2.1 0 1 0 -4.2 0M232.59 229.69a2.1 2.1 0 1 0 4.2 0a2.1 2.1 0 1 0 -4.2 0M255.6 230.9a2.1 2.1 0 1 0 4.2 0a2.1 2.1 0 1 0 -4.2 0M235.18 237.47a2.1 2.1 0 1 0 4.2 0a2.1 2.1 0 1 0 -4.2 0M247.29 240.93a2.1 2.1 0 1 0 4.2 0a2.1 2.1 0 1 0 -4.2 0M254.21 242.66a2.1 2.1 0 1 0 4.2 0a2.1 2.1 0 1 0 -4.2 0M236.91 249.58a2.1 2.1 0 1 0 4.2 0a2.1 2.1 0 1 0 -4.2 0M245.22 254.78a2.1 2.1 0 1 0 4.2 0a2.1 2.1 0 1 0 -4.2 0M255.6 253.04a2.1 2.1 0 1 0 4.2 0a2.1 2.1 0 1 0 -4.2 0M197.12 242.32a2.1 2.1 0 1 0 4.2 0a2.1 2.1 0 1 0 -4.2 0M191.93 239.2a2.1 2.1 0 1 0 4.2 0a2.1 2.1 0 1 0 -4.2 0M180.69 235.74a2.1 2.1 0 1 0 4.2 0a2.1 2.1 0 1 0 -4.2 0M185.01 227.09a2.1 2.1 0 1 0 4.2 0a2.1 2.1 0 1 0 -4.2 0M184.15 231.42a2.1 2.1 0 1 0 4.2 0a2.1 2.1 0 1 0 -4.2 0M217.02 238.34a2.1 2.1 0 1 0 4.2 0a2.1 2.1 0 1 0 -4.2 0M223.07 239.2a2.1 2.1 0 1 0 4.2 0a2.1 2.1 0 1 0 -4.2 0M224.8 227.96a2.1 2.1 0 1 0 4.2 0a2.1 2.1 0 1 0 -4.2 0M222.21 230.55a2.1 2.1 0 1 0 4.2 0a2.1 2.1 0 1 0 -4.2 0M175.5 241.8a2.1 2.1 0 1 0 4.2 0a2.1 2.1 0 1 0 -4.2 0M190.2 240.93a2.1 2.1 0 1 0 4.2 0a2.1 2.1 0 1 0 -4.2 0M188.47 240.07a2.1 2.1 0 1 0 4.2 0a2.1 2.1 0 1 0 -4.2 0M207.5 249.58a2.1 2.1 0 1 0 4.2 0a2.1 2.1 0 1 0 -4.2 0M204.04 251.31a2.1 2.1 0 1 0 4.2 0a2.1 2.1 0 1 0 -4.2 0M229.99 251.31a2.1 2.1 0 1 0 4.2 0a2.1 2.1 0 1 0 -4.2 0M233.45 256.51a2.1 2.1 0 1 0 4.2 0a2.1 2.1 0 1 0 -4.2 0M242.1 256.51a2.1 2.1 0 1 0 4.2 0a2.1 2.1 0 1 0 -4.2 0M252.48 257.37a2.1 2.1 0 1 0 4.2 0a2.1 2.1 0 1 0 -4.2 0M249.02 259.97a2.1 2.1 0 1 0 4.2 0a2.1 2.1 0 1 0 -4.2 0M255.94 259.1a2.1 2.1 0 1 0 4.2 0a2.1 2.1 0 1 0 -4.2 0M216.15 244.39a2.1 2.1 0 1 0 4.2 0a2.1 2.1 0 1 0 -4.2 0M219.61 246.12a2.1 2.1 0 1 0 4.2 0a2.1 2.1 0 1 0 -4.2 0M181.16 236.64a2.1 2.1 0 1 0 4.2 0a2.1 2.1 0 1 0 -4.2 0M177.95 242.73a2.1 2.1 0 1 0 4.2 0a2.1 2.1 0 1 0 -4.2 0M195.79 260.47a2.1 2.1 0 1 0 4.2 0a2.1 2.1 0 1 0 -4.2 0M178.73 254.4a2.1 2.1 0 1 0 4.2 0a2.1 2.1 0 1 0 -4.2 0M185.79 253.25a2.1 2.1 0 1 0 4.2 0a2.1 2.1 0 1 0 -4.2 0M179.74 259.62a2.1 2.1 0 1 0 4.2 0a2.1 2.1 0 1 0 -4.2 0M194.4 255.02a2.1 2.1 0 1 0 4.2 0a2.1 2.1 0 1 0 -4.2 0M187.47 257.65a2.1 2.1 0 1 0 4.2 0a2.1 2.1 0 1 0 -4.2 0M196.49 238.85a2.1 2.1 0 1 0 4.2 0a2.1 2.1 0 1 0 -4.2 0M187.32 259.65a2.1 2.1 0 1 0 4.2 0a2.1 2.1 0 1 0 -4.2 0M180.42 243.76a2.1 2.1 0 1 0 4.2 0a2.1 2.1 0 1 0 -4.2 0M192.03 243.32a2.1 2.1 0 1 0 4.2 0a2.1 2.1 0 1 0 -4.2 0M184.14 257.86a2.1 2.1 0 1 0 4.2 0a2.1 2.1 0 1 0 -4.2 0M184.46 238.42a2.1 2.1 0 1 0 4.2 0a2.1 2.1 0 1 0 -4.2 0M185.43 244.96a2.1 2.1 0 1 0 4.2 0a2.1 2.1 0 1 0 -4.2 0M193.35 259.99a2.1 2.1 0 1 0 4.2 0a2.1 2.1 0 1 0 -4.2 0M184.71 241.1a2.1 2.1 0 1 0 4.2 0a2.1 2.1 0 1 0 -4.2 0M181.84 252.1a2.1 2.1 0 1 0 4.2 0a2.1 2.1 0 1 0 -4.2 0M192.29 259.02a2.1 2.1 0 1 0 4.2 0a2.1 2.1 0 1 0 -4.2 0M190.81 258.01a2.1 2.1 0 1 0 4.2 0a2.1 2.1 0 1 0 -4.2 0M184.43 254.42a2.1 2.1 0 1 0 4.2 0a2.1 2.1 0 1 0 -4.2 0M194.2 238.02a2.1 2.1 0 1 0 4.2 0a2.1 2.1 0 1 0 -4.2 0M193.76 252.53a2.1 2.1 0 1 0 4.2 0a2.1 2.1 0 1 0 -4.2 0M185.7 237.89a2.1 2.1 0 1 0 4.2 0a2.1 2.1 0 1 0 -4.2 0M184.92 253.21a2.1 2.1 0 1 0 4.2 0a2.1 2.1 0 1 0 -4.2 0M196 261a2.1 2.1 0 1 0 4.2 0a2.1 2.1 0 1 0 -4.2 0M187.97 239.87a2.1 2.1 0 1 0 4.2 0a2.1 2.1 0 1 0 -4.2 0M187.3 246.75a2.1 2.1 0 1 0 4.2 0a2.1 2.1 0 1 0 -4.2 0M192.06 240.89a2.1 2.1 0 1 0 4.2 0a2.1 2.1 0 1 0 -4.2 0M187.6 260.89a2.1 2.1 0 1 0 4.2 0a2.1 2.1 0 1 0 -4.2 0M184.51 247.82a2.1 2.1 0 1 0 4.2 0a2.1 2.1 0 1 0 -4.2 0M180.87 245.18a2.1 2.1 0 1 0 4.2 0a2.1 2.1 0 1 0 -4.2 0M195.24 239.55a2.1 2.1 0 1 0 4.2 0a2.1 2.1 0 1 0 -4.2 0M179.9 241.9a2.1 2.1 0 1 0 4.2 0a2.1 2.1 0 1 0 -4.2 0M189.76 246.5a2.1 2.1 0 1 0 4.2 0a2.1 2.1 0 1 0 -4.2 0M186.31 251.64a2.1 2.1 0 1 0 4.2 0a2.1 2.1 0 1 0 -4.2 0M180.79 243.48a2.1 2.1 0 1 0 4.2 0a2.1 2.1 0 1 0 -4.2 0M189.68 256.72a2.1 2.1 0 1 0 4.2 0a2.1 2.1 0 1 0 -4.2 0M192.71 260.53a2.1 2.1 0 1 0 4.2 0a2.1 2.1 0 1 0 -4.2 0M188.87 243.61a2.1 2.1 0 1 0 4.2 0a2.1 2.1 0 1 0 -4.2 0M180.28 246.34a2.1 2.1 0 1 0 4.2 0a2.1 2.1 0 1 0 -4.2 0M181.56 248.17a2.1 2.1 0 1 0 4.2 0a2.1 2.1 0 1 0 -4.2 0M193.85 256.17a2.1 2.1 0 1 0 4.2 0a2.1 2.1 0 1 0 -4.2 0M189.93 246.46a2.1 2.1 0 1 0 4.2 0a2.1 2.1 0 1 0 -4.2 0M193.67 237.37a2.1 2.1 0 1 0 4.2 0a2.1 2.1 0 1 0 -4.2 0M180.05 247.87a2.1 2.1 0 1 0 4.2 0a2.1 2.1 0 1 0 -4.2 0M178.66 254.85a2.1 2.1 0 1 0 4.2 0a2.1 2.1 0 1 0 -4.2 0M191.42 238.04a2.1 2.1 0 1 0 4.2 0a2.1 2.1 0 1 0 -4.2 0M190.8 236.7a2.1 2.1 0 1 0 4.2 0a2.1 2.1 0 1 0 -4.2 0M178.42 259.41a2.1 2.1 0 1 0 4.2 0a2.1 2.1 0 1 0 -4.2 0M178.38 249.96a2.1 2.1 0 1 0 4.2 0a2.1 2.1 0 1 0 -4.2 0M195.36 260.12a2.1 2.1 0 1 0 4.2 0a2.1 2.1 0 1 0 -4.2 0M179.78 252.89a2.1 2.1 0 1 0 4.2 0a2.1 2.1 0 1 0 -4.2 0M194.98 242.3a2.1 2.1 0 1 0 4.2 0a2.1 2.1 0 1 0 -4.2 0M187.95 256.57a2.1 2.1 0 1 0 4.2 0a2.1 2.1 0 1 0 -4.2 0M180.94 253.09a2.1 2.1 0 1 0 4.2 0a2.1 2.1 0 1 0 -4.2 0M189.91 258.96a2.1 2.1 0 1 0 4.2 0a2.1 2.1 0 1 0 -4.2 0M195.5 237.92a2.1 2.1 0 1 0 4.2 0a2.1 2.1 0 1 0 -4.2 0M191.69 240.45a2.1 2.1 0 1 0 4.2 0a2.1 2.1 0 1 0 -4.2 0M193.75 259.52a2.1 2.1 0 1 0 4.2 0a2.1 2.1 0 1 0 -4.2 0M215.9 247.93a2.1 2.1 0 1 0 4.2 0a2.1 2.1 0 1 0 -4.2 0M217.55 243.66a2.1 2.1 0 1 0 4.2 0a2.1 2.1 0 1 0 -4.2 0M214.97 260.84a2.1 2.1 0 1 0 4.2 0a2.1 2.1 0 1 0 -4.2 0M221.28 256.19a2.1 2.1 0 1 0 4.2 0a2.1 2.1 0 1 0 -4.2 0M212.83 255.88a2.1 2.1 0 1 0 4.2 0a2.1 2.1 0 1 0 -4.2 0M218.7 245.35a2.1 2.1 0 1 0 4.2 0a2.1 2.1 0 1 0 -4.2 0M219.65 242.98a2.1 2.1 0 1 0 4.2 0a2.1 2.1 0 1 0 -4.2 0M218.36 246.4a2.1 2.1 0 1 0 4.2 0a2.1 2.1 0 1 0 -4.2 0M212.47 232.96a2.1 2.1 0 1 0 4.2 0a2.1 2.1 0 1 0 -4.2 0M211.84 242.76a2.1 2.1 0 1 0 4.2 0a2.1 2.1 0 1 0 -4.2 0M216.18 260.82a2.1 2.1 0 1 0 4.2 0a2.1 2.1 0 1 0 -4.2 0M221.69 238.36a2.1 2.1 0 1 0 4.2 0a2.1 2.1 0 1 0 -4.2 0M220.84 247.89a2.1 2.1 0 1 0 4.2 0a2.1 2.1 0 1 0 -4.2 0M219.86 258.54a2.1 2.1 0 1 0 4.2 0a2.1 2.1 0 1 0 -4.2 0M214.12 256.09a2.1 2.1 0 1 0 4.2 0a2.1 2.1 0 1 0 -4.2 0M211.81 241.44a2.1 2.1 0 1 0 4.2 0a2.1 2.1 0 1 0 -4.2 0M213.54 244.25a2.1 2.1 0 1 0 4.2 0a2.1 2.1 0 1 0 -4.2 0M212.81 257.89a2.1 2.1 0 1 0 4.2 0a2.1 2.1 0 1 0 -4.2 0M221.55 253.69a2.1 2.1 0 1 0 4.2 0a2.1 2.1 0 1 0 -4.2 0M211.41 235.46a2.1 2.1 0 1 0 4.2 0a2.1 2.1 0 1 0 -4.2 0M225.28 253.63a2.1 2.1 0 1 0 4.2 0a2.1 2.1 0 1 0 -4.2 0M226.77 229.57a2.1 2.1 0 1 0 4.2 0a2.1 2.1 0 1 0 -4.2 0M211 238.42a2.1 2.1 0 1 0 4.2 0a2.1 2.1 0 1 0 -4.2 0M212.88 249.34a2.1 2.1 0 1 0 4.2 0a2.1 2.1 0 1 0 -4.2 0M214.44 248.13a2.1 2.1 0 1 0 4.2 0a2.1 2.1 0 1 0 -4.2 0M217.24 235.11a2.1 2.1 0 1 0 4.2 0a2.1 2.1 0 1 0 -4.2 0M213.59 244.74a2.1 2.1 0 1 0 4.2 0a2.1 2.1 0 1 0 -4.2 0M212.66 232.4a2.1 2.1 0 1 0 4.2 0a2.1 2.1 0 1 0 -4.2 0M216.52 252a2.1 2.1 0 1 0 4.2 0a2.1 2.1 0 1 0 -4.2 0M215.87 232.71a2.1 2.1 0 1 0 4.2 0a2.1 2.1 0 1 0 -4.2 0M221.92 232.8a2.1 2.1 0 1 0 4.2 0a2.1 2.1 0 1 0 -4.2 0M223 259.55a2.1 2.1 0 1 0 4.2 0a2.1 2.1 0 1 0 -4.2 0M222.57 257.97a2.1 2.1 0 1 0 4.2 0a2.1 2.1 0 1 0 -4.2 0M216.95 257.95a2.1 2.1 0 1 0 4.2 0a2.1 2.1 0 1 0 -4.2 0M220.12 257.91a2.1 2.1 0 1 0 4.2 0a2.1 2.1 0 1 0 -4.2 0M215.24 229.42a2.1 2.1 0 1 0 4.2 0a2.1 2.1 0 1 0 -4.2 0M218.87 247.46a2.1 2.1 0 1 0 4.2 0a2.1 2.1 0 1 0 -4.2 0M225.44 252.87a2.1 2.1 0 1 0 4.2 0a2.1 2.1 0 1 0 -4.2 0M218.61 231.96a2.1 2.1 0 1 0 4.2 0a2.1 2.1 0 1 0 -4.2 0M223.17 235.07a2.1 2.1 0 1 0 4.2 0a2.1 2.1 0 1 0 -4.2 0M219.35 259.23a2.1 2.1 0 1 0 4.2 0a2.1 2.1 0 1 0 -4.2 0M215.63 251.11a2.1 2.1 0 1 0 4.2 0a2.1 2.1 0 1 0 -4.2 0M211.54 257.98a2.1 2.1 0 1 0 4.2 0a2.1 2.1 0 1 0 -4.2 0M220.08 235.15a2.1 2.1 0 1 0 4.2 0a2.1 2.1 0 1 0 -4.2 0M217.65 246.1a2.1 2.1 0 1 0 4.2 0a2.1 2.1 0 1 0 -4.2 0M221.49 243.38a2.1 2.1 0 1 0 4.2 0a2.1 2.1 0 1 0 -4.2 0M223.45 260.34a2.1 2.1 0 1 0 4.2 0a2.1 2.1 0 1 0 -4.2 0M224 248.07a2.1 2.1 0 1 0 4.2 0a2.1 2.1 0 1 0 -4.2 0M218.52 235.54a2.1 2.1 0 1 0 4.2 0a2.1 2.1 0 1 0 -4.2 0M215.62 247.86a2.1 2.1 0 1 0 4.2 0a2.1 2.1 0 1 0 -4.2 0M219.09 257.77a2.1 2.1 0 1 0 4.2 0a2.1 2.1 0 1 0 -4.2 0M218.5 244.73a2.1 2.1 0 1 0 4.2 0a2.1 2.1 0 1 0 -4.2 0M220.5 260.7a2.1 2.1 0 1 0 4.2 0a2.1 2.1 0 1 0 -4.2 0M214.26 248.45a2.1 2.1 0 1 0 4.2 0a2.1 2.1 0 1 0 -4.2 0M220.45 253.77a2.1 2.1 0 1 0 4.2 0a2.1 2.1 0 1 0 -4.2 0M197.75 260.56a2.1 2.1 0 1 0 4.2 0a2.1 2.1 0 1 0 -4.2 0M211.05 253.15a2.1 2.1 0 1 0 4.2 0a2.1 2.1 0 1 0 -4.2 0M177.24 252.89a2.1 2.1 0 1 0 4.2 0a2.1 2.1 0 1 0 -4.2 0M179.82 255.84a2.1 2.1 0 1 0 4.2 0a2.1 2.1 0 1 0 -4.2 0M213.56 259.01a2.1 2.1 0 1 0 4.2 0a2.1 2.1 0 1 0 -4.2 0M191.16 259.34a2.1 2.1 0 1 0 4.2 0a2.1 2.1 0 1 0 -4.2 0M227.78 255.09a2.1 2.1 0 1 0 4.2 0a2.1 2.1 0 1 0 -4.2 0M242.32 258.14a2.1 2.1 0 1 0 4.2 0a2.1 2.1 0 1 0 -4.2 0M191.88 256.37a2.1 2.1 0 1 0 4.2 0a2.1 2.1 0 1 0 -4.2 0M252.54 253.34a2.1 2.1 0 1 0 4.2 0a2.1 2.1 0 1 0 -4.2 0M249.25 255.15a2.1 2.1 0 1 0 4.2 0a2.1 2.1 0 1 0 -4.2 0M250.91 258.32a2.1 2.1 0 1 0 4.2 0a2.1 2.1 0 1 0 -4.2 0M256.78 256.02a2.1 2.1 0 1 0 4.2 0a2.1 2.1 0 1 0 -4.2 0M246.85 257.21a2.1 2.1 0 1 0 4.2 0a2.1 2.1 0 1 0 -4.2 0M181 259.75a2.1 2.1 0 1 0 4.2 0a2.1 2.1 0 1 0 -4.2 0M238.29 256.94a2.1 2.1 0 1 0 4.2 0a2.1 2.1 0 1 0 -4.2 0M212.49 254.8a2.1 2.1 0 1 0 4.2 0a2.1 2.1 0 1 0 -4.2 0M209.47 253.75a2.1 2.1 0 1 0 4.2 0a2.1 2.1 0 1 0 -4.2 0M234.33 256.93a2.1 2.1 0 1 0 4.2 0a2.1 2.1 0 1 0 -4.2 0M214.12 256.08a2.1 2.1 0 1 0 4.2 0a2.1 2.1 0 1 0 -4.2 0M220.53 257.24a2.1 2.1 0 1 0 4.2 0a2.1 2.1 0 1 0 -4.2 0M181.33 255.47a2.1 2.1 0 1 0 4.2 0a2.1 2.1 0 1 0 -4.2 0M255.06 253.23a2.1 2.1 0 1 0 4.2 0a2.1 2.1 0 1 0 -4.2 0M211.42 258.33a2.1 2.1 0 1 0 4.2 0a2.1 2.1 0 1 0 -4.2 0M226.08 259.02a2.1 2.1 0 1 0 4.2 0a2.1 2.1 0 1 0 -4.2 0M193.23 255.09a2.1 2.1 0 1 0 4.2 0a2.1 2.1 0 1 0 -4.2 0M214.86 252.34a2.1 2.1 0 1 0 4.2 0a2.1 2.1 0 1 0 -4.2 0M185.23 255.14a2.1 2.1 0 1 0 4.2 0a2.1 2.1 0 1 0 -4.2 0M244.04 256.02a2.1 2.1 0 1 0 4.2 0a2.1 2.1 0 1 0 -4.2 0M213.49 256.74a2.1 2.1 0 1 0 4.2 0a2.1 2.1 0 1 0 -4.2 0M191.1 255.67a2.1 2.1 0 1 0 4.2 0a2.1 2.1 0 1 0 -4.2 0M247.62 260.06a2.1 2.1 0 1 0 4.2 0a2.1 2.1 0 1 0 -4.2 0M222.83 259.84a2.1 2.1 0 1 0 4.2 0a2.1 2.1 0 1 0 -4.2 0M218.32 260.87a2.1 2.1 0 1 0 4.2 0a2.1 2.1 0 1 0 -4.2 0M218.86 259.22a2.1 2.1 0 1 0 4.2 0a2.1 2.1 0 1 0 -4.2 0M229.32 253.25a2.1 2.1 0 1 0 4.2 0a2.1 2.1 0 1 0 -4.2 0M251.44 259.21a2.1 2.1 0 1 0 4.2 0a2.1 2.1 0 1 0 -4.2 0M193.94 256.76a2.1 2.1 0 1 0 4.2 0a2.1 2.1 0 1 0 -4.2 0M224.67 260.32a2.1 2.1 0 1 0 4.2 0a2.1 2.1 0 1 0 -4.2 0M212.73 253.59a2.1 2.1 0 1 0 4.2 0a2.1 2.1 0 1 0 -4.2 0M256.96 255.31a2.1 2.1 0 1 0 4.2 0a2.1 2.1 0 1 0 -4.2 0M240.09 258.01a2.1 2.1 0 1 0 4.2 0a2.1 2.1 0 1 0 -4.2 0M256.93 254.32a2.1 2.1 0 1 0 4.2 0a2.1 2.1 0 1 0 -4.2 0M239.26 250.02a2.1 2.1 0 1 0 4.2 0a2.1 2.1 0 1 0 -4.2 0M251.11 259.82a2.1 2.1 0 1 0 4.2 0a2.1 2.1 0 1 0 -4.2 0M244.33 260.28a2.1 2.1 0 1 0 4.2 0a2.1 2.1 0 1 0 -4.2 0M243.98 250.19a2.1 2.1 0 1 0 4.2 0a2.1 2.1 0 1 0 -4.2 0M249.09 255.06a2.1 2.1 0 1 0 4.2 0a2.1 2.1 0 1 0 -4.2 0M254.94 259.67a2.1 2.1 0 1 0 4.2 0a2.1 2.1 0 1 0 -4.2 0M246.33 255.9a2.1 2.1 0 1 0 4.2 0a2.1 2.1 0 1 0 -4.2 0M241.95 250.98a2.1 2.1 0 1 0 4.2 0a2.1 2.1 0 1 0 -4.2 0M245.75 250.39a2.1 2.1 0 1 0 4.2 0a2.1 2.1 0 1 0 -4.2 0M244.2 259.37a2.1 2.1 0 1 0 4.2 0a2.1 2.1 0 1 0 -4.2 0M253.24 258.99a2.1 2.1 0 1 0 4.2 0a2.1 2.1 0 1 0 -4.2 0M253.22 256.05a2.1 2.1 0 1 0 4.2 0a2.1 2.1 0 1 0 -4.2 0" fill="none" stroke="#111" stroke-width="1"/>
<line x1="195.8" y1="250" x2="259.8" y2="238" stroke="#111" stroke-width="1"/>
<line x1="178.3" y1="174.7" x2="178.3" y2="261.5" stroke="#111" stroke-width="1.15"/>
<line x1="175.7" y1="261" x2="178.3" y2="261" stroke="#111" stroke-width="1"/>
<text x="174.9" y="264.31" text-anchor="end" style="font-size:9.2px">0.00</text>
<line x1="175.7" y1="239.55" x2="178.3" y2="239.55" stroke="#111" stroke-width="1"/>
<text x="174.9" y="242.86" text-anchor="end" style="font-size:9.2px">0.01</text>
<line x1="175.7" y1="218.1" x2="178.3" y2="218.1" stroke="#111" stroke-width="1"/>
<text x="174.9" y="221.41" text-anchor="end" style="font-size:9.2px">0.02</text>
<line x1="175.7" y1="196.65" x2="178.3" y2="196.65" stroke="#111" stroke-width="1"/>
<text x="174.9" y="199.96" text-anchor="end" style="font-size:9.2px">0.03</text>
<line x1="175.7" y1="175.2" x2="178.3" y2="175.2" stroke="#111" stroke-width="1"/>
<text x="174.9" y="178.51" text-anchor="end" style="font-size:9.2px">0.04</text>
<line x1="177.8" y1="261" x2="262" y2="261" stroke="#111" stroke-width="1.2"/>
<line x1="178.3" y1="261" x2="178.3" y2="263.6" stroke="#111" stroke-width="1"/>
<text x="178.3" y="274.42" text-anchor="middle" style="font-size:9px">0</text>
<line x1="194.57" y1="261" x2="194.57" y2="263.6" stroke="#111" stroke-width="1"/>
<text x="194.57" y="274.42" text-anchor="middle" style="font-size:9px">20</text>
<line x1="210.84" y1="261" x2="210.84" y2="263.6" stroke="#111" stroke-width="1"/>
<text x="210.84" y="274.42" text-anchor="middle" style="font-size:9px">40</text>
<line x1="227.11" y1="261" x2="227.11" y2="263.6" stroke="#111" stroke-width="1"/>
<text x="227.11" y="274.42" text-anchor="middle" style="font-size:9px">60</text>
<line x1="243.38" y1="261" x2="243.38" y2="263.6" stroke="#111" stroke-width="1"/>
<text x="243.38" y="274.42" text-anchor="middle" style="font-size:9px">80</text>
<line x1="259.65" y1="261" x2="259.65" y2="263.6" stroke="#111" stroke-width="1"/>
<text x="259.65" y="274.42" text-anchor="middle" style="font-size:9px">100</text>
<text x="150.8" y="217" text-anchor="middle" transform="rotate(-90 150.8 217)" style="font-size:9.6px">CD160 (IT)</text>
<text x="218.7" y="285.6" text-anchor="middle" style="font-size:8.65px">Overall survival (months)</text>
<text x="184" y="178.5" style="font-size:9px"><tspan font-style="italic">r</tspan> = 0.2610</text>
<text x="181.5" y="188.4" style="font-size:8.7px"><tspan font-style="italic">P</tspan> &lt; 0.0001</text>
<text x="268" y="166.8" style="font-size:12.6px;font-weight:bold;fill:#000" stroke="#000" stroke-width="0.45">D</text>
<polyline points="306.7,176.2 308.1,176.2 308.1,185.4 309.6,185.4 309.6,195 311.2,195 311.2,200.8 313.5,200.8 313.5,208.5 316.3,208.5 316.3,216.2 319.2,216.2 319.2,219.6 323.1,219.6 323.1,221.9 328.8,221.9 328.8,224.8 330.8,224.8 330.8,225.8 362.5,225.8 363.5,225.8 363.5,227.3 368.3,227.3 368.3,227.7 370.2,227.7 370.2,230.6 373.1,230.6 373.1,233.5 376,233.5 376,236.3 384.6,236.3" fill="none" stroke="#222" stroke-width="1" stroke-linejoin="miter"/>
<polyline points="306.7,176.2 308.7,176.2 308.7,180.6 310.6,180.6 310.6,185.4 312.5,185.4 312.5,187.3 313.8,187.3 313.8,189.2 315,189.2 315,195 316.3,195 316.3,201.7 318.3,201.7 318.3,205.6 319.2,205.6 319.2,206.5 326.9,206.5 328.8,206.5 328.8,207.9 330.8,207.9 330.8,209.4 333.7,209.4 333.7,210.8 340.4,210.8 340.4,211.3 345.2,211.3 345.2,214.6 357.7,214.6 357.7,215.8 360.6,215.8 360.6,219 372.1,219 372.1,225.8 384.6,225.8" fill="none" stroke="#d6343f" stroke-width="1" stroke-linejoin="miter"/>
<line x1="306.7" y1="175.7" x2="306.7" y2="259.3" stroke="#111" stroke-width="1.15"/>
<line x1="304.1" y1="258.8" x2="306.7" y2="258.8" stroke="#111" stroke-width="1"/>
<text x="303.3" y="262.11" text-anchor="end" style="font-size:9.2px">0</text>
<line x1="304.1" y1="242.28" x2="306.7" y2="242.28" stroke="#111" stroke-width="1"/>
<text x="303.3" y="245.59" text-anchor="end" style="font-size:9.2px">20</text>
<line x1="304.1" y1="225.76" x2="306.7" y2="225.76" stroke="#111" stroke-width="1"/>
<text x="303.3" y="229.07" text-anchor="end" style="font-size:9.2px">40</text>
<line x1="304.1" y1="209.24" x2="306.7" y2="209.24" stroke="#111" stroke-width="1"/>
<text x="303.3" y="212.55" text-anchor="end" style="font-size:9.2px">60</text>
<line x1="304.1" y1="192.72" x2="306.7" y2="192.72" stroke="#111" stroke-width="1"/>
<text x="303.3" y="196.03" text-anchor="end" style="font-size:9.2px">80</text>
<line x1="304.1" y1="176.2" x2="306.7" y2="176.2" stroke="#111" stroke-width="1"/>
<text x="303.3" y="179.51" text-anchor="end" style="font-size:9.2px">100</text>
<line x1="306.2" y1="258.8" x2="390.5" y2="258.8" stroke="#111" stroke-width="1.2"/>
<line x1="306.7" y1="258.8" x2="306.7" y2="261.4" stroke="#111" stroke-width="1"/>
<text x="306.7" y="271.84" text-anchor="middle" style="font-size:9.6px">0</text>
<line x1="321.96" y1="258.8" x2="321.96" y2="261.4" stroke="#111" stroke-width="1"/>
<text x="321.96" y="271.84" text-anchor="middle" style="font-size:9.6px">20</text>
<line x1="337.22" y1="258.8" x2="337.22" y2="261.4" stroke="#111" stroke-width="1"/>
<text x="337.22" y="271.84" text-anchor="middle" style="font-size:9.6px">40</text>
<line x1="352.48" y1="258.8" x2="352.48" y2="261.4" stroke="#111" stroke-width="1"/>
<text x="352.48" y="271.84" text-anchor="middle" style="font-size:9.6px">60</text>
<line x1="367.74" y1="258.8" x2="367.74" y2="261.4" stroke="#111" stroke-width="1"/>
<text x="367.74" y="271.84" text-anchor="middle" style="font-size:9.6px">80</text>
<line x1="383" y1="258.8" x2="383" y2="261.4" stroke="#111" stroke-width="1"/>
<text x="383" y="271.84" text-anchor="middle" style="font-size:9.6px">100</text>
<text x="285.2" y="216.7" text-anchor="middle" transform="rotate(-90 285.2 216.7)" style="font-size:8.9px">Percent survival</text>
<text x="348" y="286" text-anchor="middle" style="font-size:8.8px">Disease-free survival (months)</text>
<text x="310" y="256" style="font-size:8.1px"><tspan font-style="italic">P</tspan> = 0.0240</text>
<line x1="339.4" y1="176.7" x2="349.2" y2="176.7" stroke="#d6343f" stroke-width="1.1"/>
<text x="352.4" y="179.9" style="font-size:7.8px">CD160<tspan dx="1.2" dy="-3.4" style="font-size:5.5px">High</tspan></text>
<line x1="339.4" y1="186.9" x2="349.2" y2="186.9" stroke="#222" stroke-width="1.1"/>
<text x="352.4" y="190.1" style="font-size:7.8px">CD160<tspan dx="1.2" dy="-3.4" style="font-size:5.5px">Low</tspan></text>
<polyline points="429.5,176.5 431.5,176.5 431.5,178.5 433.9,178.5 433.9,181 436,181 436,183.5 438,183.5 438,186.4 440.6,186.4 440.6,191.8 443.3,191.8 443.3,197.2 447.4,197.2 447.4,202.6 452.8,202.6 452.8,206.6 458.2,206.6 458.2,209.8 466.3,209.8 466.3,212 474.3,212 474.3,213.3 482.4,213.3 482.4,214.7 490.5,214.7 490.5,216 493.2,216 493.2,217.4 496,217.4 496,218.7 508.5,218.7" fill="none" stroke="#222" stroke-width="1" stroke-linejoin="miter"/>
<polyline points="429.5,176.5 433.5,176.5 433.5,176.8 436,176.8 436,180 437.5,180 437.5,184 439,184 439,188.5 440.6,188.5 440.6,190.4 442,190.4 442,193.1 443.3,193.1 443.3,194.5 459.5,194.5 459.5,198 467.6,198 467.6,199.9 507.5,199.9" fill="none" stroke="#d6343f" stroke-width="1" stroke-linejoin="miter"/>
<line x1="429.5" y1="176" x2="429.5" y2="259.8" stroke="#111" stroke-width="1.15"/>
<line x1="426.9" y1="259.3" x2="429.5" y2="259.3" stroke="#111" stroke-width="1"/>
<text x="426.1" y="262.61" text-anchor="end" style="font-size:9.2px">0</text>
<line x1="426.9" y1="242.74" x2="429.5" y2="242.74" stroke="#111" stroke-width="1"/>
<text x="426.1" y="246.05" text-anchor="end" style="font-size:9.2px">20</text>
<line x1="426.9" y1="226.18" x2="429.5" y2="226.18" stroke="#111" stroke-width="1"/>
<text x="426.1" y="229.49" text-anchor="end" style="font-size:9.2px">40</text>
<line x1="426.9" y1="209.62" x2="429.5" y2="209.62" stroke="#111" stroke-width="1"/>
<text x="426.1" y="212.93" text-anchor="end" style="font-size:9.2px">60</text>
<line x1="426.9" y1="193.06" x2="429.5" y2="193.06" stroke="#111" stroke-width="1"/>
<text x="426.1" y="196.37" text-anchor="end" style="font-size:9.2px">80</text>
<line x1="426.9" y1="176.5" x2="429.5" y2="176.5" stroke="#111" stroke-width="1"/>
<text x="426.1" y="179.81" text-anchor="end" style="font-size:9.2px">100</text>
<line x1="429" y1="259.3" x2="513.8" y2="259.3" stroke="#111" stroke-width="1.2"/>
<line x1="429.5" y1="259.3" x2="429.5" y2="261.9" stroke="#111" stroke-width="1"/>
<text x="429.5" y="272.34" text-anchor="middle" style="font-size:9.6px">0</text>
<line x1="444.78" y1="259.3" x2="444.78" y2="261.9" stroke="#111" stroke-width="1"/>
<text x="444.78" y="272.34" text-anchor="middle" style="font-size:9.6px">20</text>
<line x1="460.06" y1="259.3" x2="460.06" y2="261.9" stroke="#111" stroke-width="1"/>
<text x="460.06" y="272.34" text-anchor="middle" style="font-size:9.6px">40</text>
<line x1="475.34" y1="259.3" x2="475.34" y2="261.9" stroke="#111" stroke-width="1"/>
<text x="475.34" y="272.34" text-anchor="middle" style="font-size:9.6px">60</text>
<line x1="490.62" y1="259.3" x2="490.62" y2="261.9" stroke="#111" stroke-width="1"/>
<text x="490.62" y="272.34" text-anchor="middle" style="font-size:9.6px">80</text>
<line x1="505.9" y1="259.3" x2="505.9" y2="261.9" stroke="#111" stroke-width="1"/>
<text x="505.9" y="272.34" text-anchor="middle" style="font-size:9.6px">100</text>
<text x="408.5" y="216.7" text-anchor="middle" transform="rotate(-90 408.5 216.7)" style="font-size:8.9px">Percent survival</text>
<text x="470.5" y="286" text-anchor="middle" style="font-size:8.8px">Overall survival (months)</text>
<text x="433" y="256" style="font-size:8.1px"><tspan font-style="italic">P</tspan> = 0.0714</text>
<line x1="467" y1="177" x2="476.8" y2="177" stroke="#d6343f" stroke-width="1.1"/>
<text x="480" y="180.2" style="font-size:7.8px">CD160<tspan dx="1.2" dy="-3.4" style="font-size:5.5px">High</tspan></text>
<line x1="467" y1="187" x2="476.8" y2="187" stroke="#222" stroke-width="1.1"/>
<text x="480" y="190.2" style="font-size:7.8px">CD160<tspan dx="1.2" dy="-3.4" style="font-size:5.5px">Low</tspan></text>
<text x="140" y="453.8" style="font-size:12.6px;font-weight:bold;fill:#000" stroke="#000" stroke-width="0.45">J</text>
<polyline points="168.9,477 169.87,477 169.87,486.05 171.92,486.05 171.92,496.75 175.91,496.75 175.91,501.69 180.98,501.69 183.64,501.69 183.64,504.98 183.64,511.57 198.62,511.57 198.62,516.5 206.11,516.5 206.11,523.09 239.81,523.09" fill="none" stroke="#222" stroke-width="1" stroke-linejoin="miter"/>
<polyline points="168.9,477 170.71,477 170.71,478.65 171.92,478.65 171.92,481.12 173.73,481.12 173.73,486.88 175.54,486.88 175.54,490.17 183.4,490.17 184.6,490.17 184.6,493.46 224.47,493.46 225.07,493.46 225.07,499.22 227.49,499.22 227.49,504.98 234.13,504.98 235.34,504.98 235.34,510.74 238.36,510.74 238.36,517.33 239.81,517.33 239.81,559.3" fill="none" stroke="#d6343f" stroke-width="1" stroke-linejoin="miter"/>
<line x1="168.9" y1="476.5" x2="168.9" y2="559.8" stroke="#111" stroke-width="1.15"/>
<line x1="166.3" y1="559.3" x2="168.9" y2="559.3" stroke="#111" stroke-width="1"/>
<text x="165.5" y="562.61" text-anchor="end" style="font-size:9.2px">0</text>
<line x1="166.3" y1="542.84" x2="168.9" y2="542.84" stroke="#111" stroke-width="1"/>
<text x="165.5" y="546.15" text-anchor="end" style="font-size:9.2px">20</text>
<line x1="166.3" y1="526.38" x2="168.9" y2="526.38" stroke="#111" stroke-width="1"/>
<text x="165.5" y="529.69" text-anchor="end" style="font-size:9.2px">40</text>
<line x1="166.3" y1="509.92" x2="168.9" y2="509.92" stroke="#111" stroke-width="1"/>
<text x="165.5" y="513.23" text-anchor="end" style="font-size:9.2px">60</text>
<line x1="166.3" y1="493.46" x2="168.9" y2="493.46" stroke="#111" stroke-width="1"/>
<text x="165.5" y="496.77" text-anchor="end" style="font-size:9.2px">80</text>
<line x1="166.3" y1="477" x2="168.9" y2="477" stroke="#111" stroke-width="1"/>
<text x="165.5" y="480.31" text-anchor="end" style="font-size:9.2px">100</text>
<line x1="168.4" y1="559.3" x2="253.8" y2="559.3" stroke="#111" stroke-width="1.2"/>
<line x1="168.9" y1="559.3" x2="168.9" y2="561.9" stroke="#111" stroke-width="1"/>
<text x="168.9" y="572.34" text-anchor="middle" style="font-size:9.6px">0</text>
<line x1="193.06" y1="559.3" x2="193.06" y2="561.9" stroke="#111" stroke-width="1"/>
<text x="193.06" y="572.34" text-anchor="middle" style="font-size:9.6px">20</text>
<line x1="217.22" y1="559.3" x2="217.22" y2="561.9" stroke="#111" stroke-width="1"/>
<text x="217.22" y="572.34" text-anchor="middle" style="font-size:9.6px">40</text>
<line x1="241.38" y1="559.3" x2="241.38" y2="561.9" stroke="#111" stroke-width="1"/>
<text x="241.38" y="572.34" text-anchor="middle" style="font-size:9.6px">60</text>
<text x="148" y="516.5" text-anchor="middle" transform="rotate(-90 148 516.5)" style="font-size:8.9px">Percent survival</text>
<text x="212.5" y="585.8" text-anchor="middle" style="font-size:8.9px">Disease-free survival (months)</text>
<text x="172.5" y="556.2" style="font-size:8.1px"><tspan font-style="italic">P</tspan> = 0.0454</text>
<line x1="208" y1="473" x2="216.6" y2="473" stroke="#d6343f" stroke-width="1.1"/>
<text x="219.2" y="476.3" style="font-size:8.3px">CD160<tspan dx="0.5" dy="-4" style="font-size:6.8px;font-weight:bold">+</tspan><tspan dx="0.6" dy="4">NK</tspan><tspan dx="1.4" dy="-3.6" style="font-size:5.6px">High</tspan></text>
<line x1="208" y1="485" x2="216.6" y2="485" stroke="#222" stroke-width="1.1"/>
<text x="219.2" y="488.3" style="font-size:8.3px">CD160<tspan dx="0.5" dy="-4" style="font-size:6.8px;font-weight:bold">+</tspan><tspan dx="0.6" dy="4">NK</tspan><tspan dx="1.4" dy="-3.6" style="font-size:5.6px">Low</tspan></text>
<polyline points="310.9,476.4 311.84,476.4 311.84,485.54 316.8,485.54 319.16,485.54 319.16,491.36 320.34,491.36 320.34,494.68 323.88,494.68 323.88,499.67 328.6,499.67 328.6,504.24 330.96,504.24 330.96,508.81 332.14,508.81 332.14,514.63 348.07,514.63 348.07,520.03 358.1,520.03 358.1,526.68 381.11,526.68" fill="none" stroke="#222" stroke-width="1" stroke-linejoin="miter"/>
<polyline points="310.9,476.4 312.08,476.4 312.08,477.65 313.26,477.65 313.26,480.14 315.62,480.14 315.62,482.63 317.98,482.63 317.98,485.13 319.75,485.13 319.75,487.62 322.11,487.62 322.11,492.6 323.88,492.6 323.88,495.1 326.24,495.1 326.24,497.17 340.99,497.17 342.76,497.17 342.76,499.67 365.18,499.67 365.18,505.49 376.98,505.49 376.98,512.96 378.75,512.96 378.75,521.27 381.7,521.27" fill="none" stroke="#d6343f" stroke-width="1" stroke-linejoin="miter"/>
<line x1="310.9" y1="475.9" x2="310.9" y2="560" stroke="#111" stroke-width="1.15"/>
<line x1="308.3" y1="559.5" x2="310.9" y2="559.5" stroke="#111" stroke-width="1"/>
<text x="307.5" y="562.81" text-anchor="end" style="font-size:9.2px">0</text>
<line x1="308.3" y1="542.88" x2="310.9" y2="542.88" stroke="#111" stroke-width="1"/>
<text x="307.5" y="546.19" text-anchor="end" style="font-size:9.2px">20</text>
<line x1="308.3" y1="526.26" x2="310.9" y2="526.26" stroke="#111" stroke-width="1"/>
<text x="307.5" y="529.57" text-anchor="end" style="font-size:9.2px">40</text>
<line x1="308.3" y1="509.64" x2="310.9" y2="509.64" stroke="#111" stroke-width="1"/>
<text x="307.5" y="512.95" text-anchor="end" style="font-size:9.2px">60</text>
<line x1="308.3" y1="493.02" x2="310.9" y2="493.02" stroke="#111" stroke-width="1"/>
<text x="307.5" y="496.33" text-anchor="end" style="font-size:9.2px">80</text>
<line x1="308.3" y1="476.4" x2="310.9" y2="476.4" stroke="#111" stroke-width="1"/>
<text x="307.5" y="479.71" text-anchor="end" style="font-size:9.2px">100</text>
<line x1="310.4" y1="559.5" x2="395" y2="559.5" stroke="#111" stroke-width="1.2"/>
<line x1="310.9" y1="559.5" x2="310.9" y2="562.1" stroke="#111" stroke-width="1"/>
<text x="310.9" y="572.54" text-anchor="middle" style="font-size:9.6px">0</text>
<line x1="334.5" y1="559.5" x2="334.5" y2="562.1" stroke="#111" stroke-width="1"/>
<text x="334.5" y="572.54" text-anchor="middle" style="font-size:9.6px">20</text>
<line x1="358.1" y1="559.5" x2="358.1" y2="562.1" stroke="#111" stroke-width="1"/>
<text x="358.1" y="572.54" text-anchor="middle" style="font-size:9.6px">40</text>
<line x1="381.7" y1="559.5" x2="381.7" y2="562.1" stroke="#111" stroke-width="1"/>
<text x="381.7" y="572.54" text-anchor="middle" style="font-size:9.6px">60</text>
<text x="288.8" y="515.5" text-anchor="middle" transform="rotate(-90 288.8 515.5)" style="font-size:8.9px">Percent survival</text>
<text x="352.2" y="585.8" text-anchor="middle" style="font-size:8.9px">Overall survival (months)</text>
<text x="313.5" y="556.2" style="font-size:8.1px"><tspan font-style="italic">P</tspan> = 0.1744</text>
<line x1="349.5" y1="472.5" x2="358.1" y2="472.5" stroke="#d6343f" stroke-width="1.1"/>
<text x="360.7" y="475.8" style="font-size:8.3px">CD160<tspan dx="0.5" dy="-4" style="font-size:6.8px;font-weight:bold">+</tspan><tspan dx="0.6" dy="4">NK</tspan><tspan dx="1.4" dy="-3.6" style="font-size:5.6px">High</tspan></text>
<line x1="349.5" y1="485" x2="358.1" y2="485" stroke="#222" stroke-width="1.1"/>
<text x="360.7" y="488.3" style="font-size:8.3px">CD160<tspan dx="0.5" dy="-4" style="font-size:6.8px;font-weight:bold">+</tspan><tspan dx="0.6" dy="4">NK</tspan><tspan dx="1.4" dy="-3.6" style="font-size:5.6px">Low</tspan></text>
<text x="2.5" y="305.5" style="font-size:12.6px;font-weight:bold;fill:#000" stroke="#000" stroke-width="0.45">E</text>
<path d="M69.04 329.76a2.1 2.1 0 1 0 4.2 0a2.1 2.1 0 1 0 -4.2 0M50.36 343.43a2.1 2.1 0 1 0 4.2 0a2.1 2.1 0 1 0 -4.2 0M59.01 343.95a2.1 2.1 0 1 0 4.2 0a2.1 2.1 0 1 0 -4.2 0M81.15 343.09a2.1 2.1 0 1 0 4.2 0a2.1 2.1 0 1 0 -4.2 0M74.23 349.66a2.1 2.1 0 1 0 4.2 0a2.1 2.1 0 1 0 -4.2 0M64.72 354.85a2.1 2.1 0 1 0 4.2 0a2.1 2.1 0 1 0 -4.2 0M66.45 355.2a2.1 2.1 0 1 0 4.2 0a2.1 2.1 0 1 0 -4.2 0M74.23 359.87a2.1 2.1 0 1 0 4.2 0a2.1 2.1 0 1 0 -4.2 0M88.07 367.83a2.1 2.1 0 1 0 4.2 0a2.1 2.1 0 1 0 -4.2 0M97.59 380.28a2.1 2.1 0 1 0 4.2 0a2.1 2.1 0 1 0 -4.2 0M101.91 382.36a2.1 2.1 0 1 0 4.2 0a2.1 2.1 0 1 0 -4.2 0M46.55 351.74a2.1 2.1 0 1 0 4.2 0a2.1 2.1 0 1 0 -4.2 0M47.93 353.47a2.1 2.1 0 1 0 4.2 0a2.1 2.1 0 1 0 -4.2 0M45.69 356.93a2.1 2.1 0 1 0 4.2 0a2.1 2.1 0 1 0 -4.2 0M50.01 357.79a2.1 2.1 0 1 0 4.2 0a2.1 2.1 0 1 0 -4.2 0M52.61 360.39a2.1 2.1 0 1 0 4.2 0a2.1 2.1 0 1 0 -4.2 0M54.34 362.98a2.1 2.1 0 1 0 4.2 0a2.1 2.1 0 1 0 -4.2 0M55.2 364.71a2.1 2.1 0 1 0 4.2 0a2.1 2.1 0 1 0 -4.2 0M53.47 367.31a2.1 2.1 0 1 0 4.2 0a2.1 2.1 0 1 0 -4.2 0M47.42 370.77a2.1 2.1 0 1 0 4.2 0a2.1 2.1 0 1 0 -4.2 0M60.39 369.9a2.1 2.1 0 1 0 4.2 0a2.1 2.1 0 1 0 -4.2 0M63.85 372.5a2.1 2.1 0 1 0 4.2 0a2.1 2.1 0 1 0 -4.2 0M65.58 375.09a2.1 2.1 0 1 0 4.2 0a2.1 2.1 0 1 0 -4.2 0M44.82 379.42a2.1 2.1 0 1 0 4.2 0a2.1 2.1 0 1 0 -4.2 0M50.01 377.69a2.1 2.1 0 1 0 4.2 0a2.1 2.1 0 1 0 -4.2 0M74.23 376.82a2.1 2.1 0 1 0 4.2 0a2.1 2.1 0 1 0 -4.2 0M77.69 383.74a2.1 2.1 0 1 0 4.2 0a2.1 2.1 0 1 0 -4.2 0M84.61 383.74a2.1 2.1 0 1 0 4.2 0a2.1 2.1 0 1 0 -4.2 0M88.07 390.66a2.1 2.1 0 1 0 4.2 0a2.1 2.1 0 1 0 -4.2 0M94.99 402.78a2.1 2.1 0 1 0 4.2 0a2.1 2.1 0 1 0 -4.2 0M103.64 404.51a2.1 2.1 0 1 0 4.2 0a2.1 2.1 0 1 0 -4.2 0M108.83 407.97a2.1 2.1 0 1 0 4.2 0a2.1 2.1 0 1 0 -4.2 0M114.89 407.97a2.1 2.1 0 1 0 4.2 0a2.1 2.1 0 1 0 -4.2 0M84.61 398.45a2.1 2.1 0 1 0 4.2 0a2.1 2.1 0 1 0 -4.2 0M79.42 392.39a2.1 2.1 0 1 0 4.2 0a2.1 2.1 0 1 0 -4.2 0M69.04 387.2a2.1 2.1 0 1 0 4.2 0a2.1 2.1 0 1 0 -4.2 0M50.88 361.25a2.1 2.1 0 1 0 4.2 0a2.1 2.1 0 1 0 -4.2 0M56.07 362.64a2.1 2.1 0 1 0 4.2 0a2.1 2.1 0 1 0 -4.2 0M62.12 371.63a2.1 2.1 0 1 0 4.2 0a2.1 2.1 0 1 0 -4.2 0M72.5 379.42a2.1 2.1 0 1 0 4.2 0a2.1 2.1 0 1 0 -4.2 0M58.66 375.09a2.1 2.1 0 1 0 4.2 0a2.1 2.1 0 1 0 -4.2 0M69.04 378.55a2.1 2.1 0 1 0 4.2 0a2.1 2.1 0 1 0 -4.2 0M81.15 387.2a2.1 2.1 0 1 0 4.2 0a2.1 2.1 0 1 0 -4.2 0M89.8 399.31a2.1 2.1 0 1 0 4.2 0a2.1 2.1 0 1 0 -4.2 0M98.45 407.1a2.1 2.1 0 1 0 4.2 0a2.1 2.1 0 1 0 -4.2 0M77.69 375.09a2.1 2.1 0 1 0 4.2 0a2.1 2.1 0 1 0 -4.2 0M48.28 373.36a2.1 2.1 0 1 0 4.2 0a2.1 2.1 0 1 0 -4.2 0M56.93 380.28a2.1 2.1 0 1 0 4.2 0a2.1 2.1 0 1 0 -4.2 0M63.85 382.01a2.1 2.1 0 1 0 4.2 0a2.1 2.1 0 1 0 -4.2 0M82.88 392.39a2.1 2.1 0 1 0 4.2 0a2.1 2.1 0 1 0 -4.2 0M93.26 407.1a2.1 2.1 0 1 0 4.2 0a2.1 2.1 0 1 0 -4.2 0M105.37 407.1a2.1 2.1 0 1 0 4.2 0a2.1 2.1 0 1 0 -4.2 0M56.34 393.47a2.1 2.1 0 1 0 4.2 0a2.1 2.1 0 1 0 -4.2 0M76.58 385.75a2.1 2.1 0 1 0 4.2 0a2.1 2.1 0 1 0 -4.2 0M71.61 395.83a2.1 2.1 0 1 0 4.2 0a2.1 2.1 0 1 0 -4.2 0M79.05 396.05a2.1 2.1 0 1 0 4.2 0a2.1 2.1 0 1 0 -4.2 0M58 407.61a2.1 2.1 0 1 0 4.2 0a2.1 2.1 0 1 0 -4.2 0M51.45 406.64a2.1 2.1 0 1 0 4.2 0a2.1 2.1 0 1 0 -4.2 0M60.38 387.4a2.1 2.1 0 1 0 4.2 0a2.1 2.1 0 1 0 -4.2 0M45.21 407.64a2.1 2.1 0 1 0 4.2 0a2.1 2.1 0 1 0 -4.2 0M56.85 388.02a2.1 2.1 0 1 0 4.2 0a2.1 2.1 0 1 0 -4.2 0M52.07 387.83a2.1 2.1 0 1 0 4.2 0a2.1 2.1 0 1 0 -4.2 0M77.19 396.78a2.1 2.1 0 1 0 4.2 0a2.1 2.1 0 1 0 -4.2 0M62.78 402.94a2.1 2.1 0 1 0 4.2 0a2.1 2.1 0 1 0 -4.2 0M53.91 385.51a2.1 2.1 0 1 0 4.2 0a2.1 2.1 0 1 0 -4.2 0M76.13 381.78a2.1 2.1 0 1 0 4.2 0a2.1 2.1 0 1 0 -4.2 0M46.35 407.1a2.1 2.1 0 1 0 4.2 0a2.1 2.1 0 1 0 -4.2 0M74.65 381.46a2.1 2.1 0 1 0 4.2 0a2.1 2.1 0 1 0 -4.2 0M67.91 399.1a2.1 2.1 0 1 0 4.2 0a2.1 2.1 0 1 0 -4.2 0M79.63 402.65a2.1 2.1 0 1 0 4.2 0a2.1 2.1 0 1 0 -4.2 0M68.19 408.39a2.1 2.1 0 1 0 4.2 0a2.1 2.1 0 1 0 -4.2 0M54.06 395.88a2.1 2.1 0 1 0 4.2 0a2.1 2.1 0 1 0 -4.2 0M75.09 407.81a2.1 2.1 0 1 0 4.2 0a2.1 2.1 0 1 0 -4.2 0M64 393.34a2.1 2.1 0 1 0 4.2 0a2.1 2.1 0 1 0 -4.2 0M56.75 388.45a2.1 2.1 0 1 0 4.2 0a2.1 2.1 0 1 0 -4.2 0M62.29 402.17a2.1 2.1 0 1 0 4.2 0a2.1 2.1 0 1 0 -4.2 0M77.57 396.52a2.1 2.1 0 1 0 4.2 0a2.1 2.1 0 1 0 -4.2 0M51.88 392.72a2.1 2.1 0 1 0 4.2 0a2.1 2.1 0 1 0 -4.2 0M53.1 395.57a2.1 2.1 0 1 0 4.2 0a2.1 2.1 0 1 0 -4.2 0M45.36 407.99a2.1 2.1 0 1 0 4.2 0a2.1 2.1 0 1 0 -4.2 0M54.38 381.07a2.1 2.1 0 1 0 4.2 0a2.1 2.1 0 1 0 -4.2 0M46.08 384.34a2.1 2.1 0 1 0 4.2 0a2.1 2.1 0 1 0 -4.2 0M55.88 408.17a2.1 2.1 0 1 0 4.2 0a2.1 2.1 0 1 0 -4.2 0M63.92 384.81a2.1 2.1 0 1 0 4.2 0a2.1 2.1 0 1 0 -4.2 0M54.36 400.14a2.1 2.1 0 1 0 4.2 0a2.1 2.1 0 1 0 -4.2 0M50.46 407.46a2.1 2.1 0 1 0 4.2 0a2.1 2.1 0 1 0 -4.2 0M51.34 397.15a2.1 2.1 0 1 0 4.2 0a2.1 2.1 0 1 0 -4.2 0M71.25 395.67a2.1 2.1 0 1 0 4.2 0a2.1 2.1 0 1 0 -4.2 0M58.93 406.04a2.1 2.1 0 1 0 4.2 0a2.1 2.1 0 1 0 -4.2 0M45.87 398.12a2.1 2.1 0 1 0 4.2 0a2.1 2.1 0 1 0 -4.2 0M73.23 404.02a2.1 2.1 0 1 0 4.2 0a2.1 2.1 0 1 0 -4.2 0M44.61 401.03a2.1 2.1 0 1 0 4.2 0a2.1 2.1 0 1 0 -4.2 0M73.34 397.27a2.1 2.1 0 1 0 4.2 0a2.1 2.1 0 1 0 -4.2 0M68.73 402.51a2.1 2.1 0 1 0 4.2 0a2.1 2.1 0 1 0 -4.2 0M65.76 398.87a2.1 2.1 0 1 0 4.2 0a2.1 2.1 0 1 0 -4.2 0M53.25 398.53a2.1 2.1 0 1 0 4.2 0a2.1 2.1 0 1 0 -4.2 0M75.64 407.13a2.1 2.1 0 1 0 4.2 0a2.1 2.1 0 1 0 -4.2 0M74.57 400.91a2.1 2.1 0 1 0 4.2 0a2.1 2.1 0 1 0 -4.2 0M46.09 406.4a2.1 2.1 0 1 0 4.2 0a2.1 2.1 0 1 0 -4.2 0M49.47 398.65a2.1 2.1 0 1 0 4.2 0a2.1 2.1 0 1 0 -4.2 0M56.84 397.56a2.1 2.1 0 1 0 4.2 0a2.1 2.1 0 1 0 -4.2 0M60.92 397.33a2.1 2.1 0 1 0 4.2 0a2.1 2.1 0 1 0 -4.2 0M46.7 404.1a2.1 2.1 0 1 0 4.2 0a2.1 2.1 0 1 0 -4.2 0M57.22 403.81a2.1 2.1 0 1 0 4.2 0a2.1 2.1 0 1 0 -4.2 0M53.25 406.88a2.1 2.1 0 1 0 4.2 0a2.1 2.1 0 1 0 -4.2 0M60.44 401.94a2.1 2.1 0 1 0 4.2 0a2.1 2.1 0 1 0 -4.2 0M64.08 408.22a2.1 2.1 0 1 0 4.2 0a2.1 2.1 0 1 0 -4.2 0M45.5 408.27a2.1 2.1 0 1 0 4.2 0a2.1 2.1 0 1 0 -4.2 0M49.4 405.58a2.1 2.1 0 1 0 4.2 0a2.1 2.1 0 1 0 -4.2 0M70.11 397.6a2.1 2.1 0 1 0 4.2 0a2.1 2.1 0 1 0 -4.2 0M55.74 407.06a2.1 2.1 0 1 0 4.2 0a2.1 2.1 0 1 0 -4.2 0M70.84 402.95a2.1 2.1 0 1 0 4.2 0a2.1 2.1 0 1 0 -4.2 0M73.4 401.69a2.1 2.1 0 1 0 4.2 0a2.1 2.1 0 1 0 -4.2 0M52.66 402.69a2.1 2.1 0 1 0 4.2 0a2.1 2.1 0 1 0 -4.2 0M45.05 405.97a2.1 2.1 0 1 0 4.2 0a2.1 2.1 0 1 0 -4.2 0M64.45 402.3a2.1 2.1 0 1 0 4.2 0a2.1 2.1 0 1 0 -4.2 0M49.38 395.79a2.1 2.1 0 1 0 4.2 0a2.1 2.1 0 1 0 -4.2 0M50.44 402.95a2.1 2.1 0 1 0 4.2 0a2.1 2.1 0 1 0 -4.2 0M69.75 403.83a2.1 2.1 0 1 0 4.2 0a2.1 2.1 0 1 0 -4.2 0M58.66 403.6a2.1 2.1 0 1 0 4.2 0a2.1 2.1 0 1 0 -4.2 0M72.71 400.58a2.1 2.1 0 1 0 4.2 0a2.1 2.1 0 1 0 -4.2 0M59.68 395.4a2.1 2.1 0 1 0 4.2 0a2.1 2.1 0 1 0 -4.2 0M48.66 404.47a2.1 2.1 0 1 0 4.2 0a2.1 2.1 0 1 0 -4.2 0M59.21 406.76a2.1 2.1 0 1 0 4.2 0a2.1 2.1 0 1 0 -4.2 0M73.78 397.1a2.1 2.1 0 1 0 4.2 0a2.1 2.1 0 1 0 -4.2 0M47.61 396.58a2.1 2.1 0 1 0 4.2 0a2.1 2.1 0 1 0 -4.2 0M45.73 404.41a2.1 2.1 0 1 0 4.2 0a2.1 2.1 0 1 0 -4.2 0M64.78 402.3a2.1 2.1 0 1 0 4.2 0a2.1 2.1 0 1 0 -4.2 0M74.4 405.9a2.1 2.1 0 1 0 4.2 0a2.1 2.1 0 1 0 -4.2 0M46.05 406.64a2.1 2.1 0 1 0 4.2 0a2.1 2.1 0 1 0 -4.2 0M66.42 405.21a2.1 2.1 0 1 0 4.2 0a2.1 2.1 0 1 0 -4.2 0M64.39 395.84a2.1 2.1 0 1 0 4.2 0a2.1 2.1 0 1 0 -4.2 0M52.92 407.46a2.1 2.1 0 1 0 4.2 0a2.1 2.1 0 1 0 -4.2 0M52.22 398.04a2.1 2.1 0 1 0 4.2 0a2.1 2.1 0 1 0 -4.2 0M59.59 399.55a2.1 2.1 0 1 0 4.2 0a2.1 2.1 0 1 0 -4.2 0M70.05 401.64a2.1 2.1 0 1 0 4.2 0a2.1 2.1 0 1 0 -4.2 0M57.56 407.79a2.1 2.1 0 1 0 4.2 0a2.1 2.1 0 1 0 -4.2 0M44.25 398.63a2.1 2.1 0 1 0 4.2 0a2.1 2.1 0 1 0 -4.2 0M63.37 406.08a2.1 2.1 0 1 0 4.2 0a2.1 2.1 0 1 0 -4.2 0M67.08 401.69a2.1 2.1 0 1 0 4.2 0a2.1 2.1 0 1 0 -4.2 0M52.36 397.22a2.1 2.1 0 1 0 4.2 0a2.1 2.1 0 1 0 -4.2 0M48.8 397.03a2.1 2.1 0 1 0 4.2 0a2.1 2.1 0 1 0 -4.2 0M62.43 396.68a2.1 2.1 0 1 0 4.2 0a2.1 2.1 0 1 0 -4.2 0M67.38 408.06a2.1 2.1 0 1 0 4.2 0a2.1 2.1 0 1 0 -4.2 0M53.7 402.84a2.1 2.1 0 1 0 4.2 0a2.1 2.1 0 1 0 -4.2 0M56.07 397.73a2.1 2.1 0 1 0 4.2 0a2.1 2.1 0 1 0 -4.2 0M56.14 397.46a2.1 2.1 0 1 0 4.2 0a2.1 2.1 0 1 0 -4.2 0M66.02 399.21a2.1 2.1 0 1 0 4.2 0a2.1 2.1 0 1 0 -4.2 0M46.68 401.56a2.1 2.1 0 1 0 4.2 0a2.1 2.1 0 1 0 -4.2 0M72.21 397.06a2.1 2.1 0 1 0 4.2 0a2.1 2.1 0 1 0 -4.2 0M45.03 404.44a2.1 2.1 0 1 0 4.2 0a2.1 2.1 0 1 0 -4.2 0M63.45 407.94a2.1 2.1 0 1 0 4.2 0a2.1 2.1 0 1 0 -4.2 0M46.86 399.75a2.1 2.1 0 1 0 4.2 0a2.1 2.1 0 1 0 -4.2 0M62.08 405.21a2.1 2.1 0 1 0 4.2 0a2.1 2.1 0 1 0 -4.2 0M55.77 408.14a2.1 2.1 0 1 0 4.2 0a2.1 2.1 0 1 0 -4.2 0M51.48 403.5a2.1 2.1 0 1 0 4.2 0a2.1 2.1 0 1 0 -4.2 0M74.67 400.89a2.1 2.1 0 1 0 4.2 0a2.1 2.1 0 1 0 -4.2 0M63.21 405.38a2.1 2.1 0 1 0 4.2 0a2.1 2.1 0 1 0 -4.2 0M62.42 400.98a2.1 2.1 0 1 0 4.2 0a2.1 2.1 0 1 0 -4.2 0M74.8 404.26a2.1 2.1 0 1 0 4.2 0a2.1 2.1 0 1 0 -4.2 0M63.68 407.04a2.1 2.1 0 1 0 4.2 0a2.1 2.1 0 1 0 -4.2 0M60.54 408.52a2.1 2.1 0 1 0 4.2 0a2.1 2.1 0 1 0 -4.2 0M44.04 402.71a2.1 2.1 0 1 0 4.2 0a2.1 2.1 0 1 0 -4.2 0M52.23 408.13a2.1 2.1 0 1 0 4.2 0a2.1 2.1 0 1 0 -4.2 0M61.49 397.56a2.1 2.1 0 1 0 4.2 0a2.1 2.1 0 1 0 -4.2 0M62.35 396.8a2.1 2.1 0 1 0 4.2 0a2.1 2.1 0 1 0 -4.2 0M58.79 402.35a2.1 2.1 0 1 0 4.2 0a2.1 2.1 0 1 0 -4.2 0M66.5 397.56a2.1 2.1 0 1 0 4.2 0a2.1 2.1 0 1 0 -4.2 0M72.95 402.5a2.1 2.1 0 1 0 4.2 0a2.1 2.1 0 1 0 -4.2 0M69.06 407.81a2.1 2.1 0 1 0 4.2 0a2.1 2.1 0 1 0 -4.2 0M58.64 406.34a2.1 2.1 0 1 0 4.2 0a2.1 2.1 0 1 0 -4.2 0M68.84 407.31a2.1 2.1 0 1 0 4.2 0a2.1 2.1 0 1 0 -4.2 0M61.59 382.25a2.1 2.1 0 1 0 4.2 0a2.1 2.1 0 1 0 -4.2 0M57.03 389.86a2.1 2.1 0 1 0 4.2 0a2.1 2.1 0 1 0 -4.2 0M49.68 391.26a2.1 2.1 0 1 0 4.2 0a2.1 2.1 0 1 0 -4.2 0M51.02 371.39a2.1 2.1 0 1 0 4.2 0a2.1 2.1 0 1 0 -4.2 0M67.14 372.97a2.1 2.1 0 1 0 4.2 0a2.1 2.1 0 1 0 -4.2 0M57.86 371.69a2.1 2.1 0 1 0 4.2 0a2.1 2.1 0 1 0 -4.2 0M56.25 380.2a2.1 2.1 0 1 0 4.2 0a2.1 2.1 0 1 0 -4.2 0M65.15 366.18a2.1 2.1 0 1 0 4.2 0a2.1 2.1 0 1 0 -4.2 0M69.97 381.61a2.1 2.1 0 1 0 4.2 0a2.1 2.1 0 1 0 -4.2 0M61.71 389.39a2.1 2.1 0 1 0 4.2 0a2.1 2.1 0 1 0 -4.2 0M50.67 391.6a2.1 2.1 0 1 0 4.2 0a2.1 2.1 0 1 0 -4.2 0M55.47 390.47a2.1 2.1 0 1 0 4.2 0a2.1 2.1 0 1 0 -4.2 0M64.09 383.65a2.1 2.1 0 1 0 4.2 0a2.1 2.1 0 1 0 -4.2 0M48.59 388.38a2.1 2.1 0 1 0 4.2 0a2.1 2.1 0 1 0 -4.2 0M72.91 385.36a2.1 2.1 0 1 0 4.2 0a2.1 2.1 0 1 0 -4.2 0M75.66 372.4a2.1 2.1 0 1 0 4.2 0a2.1 2.1 0 1 0 -4.2 0M68.06 374.5a2.1 2.1 0 1 0 4.2 0a2.1 2.1 0 1 0 -4.2 0M72.87 369.21a2.1 2.1 0 1 0 4.2 0a2.1 2.1 0 1 0 -4.2 0M79 397.71a2.1 2.1 0 1 0 4.2 0a2.1 2.1 0 1 0 -4.2 0M83.29 397.19a2.1 2.1 0 1 0 4.2 0a2.1 2.1 0 1 0 -4.2 0M82.21 404.38a2.1 2.1 0 1 0 4.2 0a2.1 2.1 0 1 0 -4.2 0M83.24 404.78a2.1 2.1 0 1 0 4.2 0a2.1 2.1 0 1 0 -4.2 0M80.14 398.99a2.1 2.1 0 1 0 4.2 0a2.1 2.1 0 1 0 -4.2 0M96.58 394.49a2.1 2.1 0 1 0 4.2 0a2.1 2.1 0 1 0 -4.2 0M80.04 398.26a2.1 2.1 0 1 0 4.2 0a2.1 2.1 0 1 0 -4.2 0M95.25 400.3a2.1 2.1 0 1 0 4.2 0a2.1 2.1 0 1 0 -4.2 0M78.11 396.89a2.1 2.1 0 1 0 4.2 0a2.1 2.1 0 1 0 -4.2 0M91.74 400.94a2.1 2.1 0 1 0 4.2 0a2.1 2.1 0 1 0 -4.2 0M92.72 404.06a2.1 2.1 0 1 0 4.2 0a2.1 2.1 0 1 0 -4.2 0M80.15 402.89a2.1 2.1 0 1 0 4.2 0a2.1 2.1 0 1 0 -4.2 0M75.98 398.55a2.1 2.1 0 1 0 4.2 0a2.1 2.1 0 1 0 -4.2 0M91.12 403.88a2.1 2.1 0 1 0 4.2 0a2.1 2.1 0 1 0 -4.2 0M96.9 397.52a2.1 2.1 0 1 0 4.2 0a2.1 2.1 0 1 0 -4.2 0M78.41 394.35a2.1 2.1 0 1 0 4.2 0a2.1 2.1 0 1 0 -4.2 0M80.54 404.54a2.1 2.1 0 1 0 4.2 0a2.1 2.1 0 1 0 -4.2 0M84.51 397.57a2.1 2.1 0 1 0 4.2 0a2.1 2.1 0 1 0 -4.2 0M92.41 400.45a2.1 2.1 0 1 0 4.2 0a2.1 2.1 0 1 0 -4.2 0M96.48 401.59a2.1 2.1 0 1 0 4.2 0a2.1 2.1 0 1 0 -4.2 0" fill="none" stroke="#111" stroke-width="1"/>
<line x1="48.65" y1="392.4" x2="117" y2="403.1" stroke="#111" stroke-width="1"/>
<line x1="42.8" y1="324.34" x2="42.8" y2="409.1" stroke="#111" stroke-width="1.15"/>
<line x1="40.2" y1="408.6" x2="42.8" y2="408.6" stroke="#111" stroke-width="1"/>
<text x="39.4" y="411.8" text-anchor="end" style="font-size:8.9px">0.00</text>
<line x1="40.2" y1="387.66" x2="42.8" y2="387.66" stroke="#111" stroke-width="1"/>
<text x="39.4" y="390.86" text-anchor="end" style="font-size:8.9px">0.01</text>
<line x1="40.2" y1="366.72" x2="42.8" y2="366.72" stroke="#111" stroke-width="1"/>
<text x="39.4" y="369.92" text-anchor="end" style="font-size:8.9px">0.02</text>
<line x1="40.2" y1="345.78" x2="42.8" y2="345.78" stroke="#111" stroke-width="1"/>
<text x="39.4" y="348.98" text-anchor="end" style="font-size:8.9px">0.03</text>
<line x1="40.2" y1="324.84" x2="42.8" y2="324.84" stroke="#111" stroke-width="1"/>
<text x="39.4" y="328.04" text-anchor="end" style="font-size:8.9px">0.04</text>
<line x1="42.3" y1="408.6" x2="129.05" y2="408.6" stroke="#111" stroke-width="1.2"/>
<line x1="42.8" y1="408.6" x2="42.8" y2="411.2" stroke="#111" stroke-width="1"/>
<text x="42.8" y="421.99" text-anchor="middle" style="font-size:8.9px">0</text>
<line x1="60.05" y1="408.6" x2="60.05" y2="411.2" stroke="#111" stroke-width="1"/>
<text x="60.05" y="421.99" text-anchor="middle" style="font-size:8.9px">5</text>
<line x1="77.3" y1="408.6" x2="77.3" y2="411.2" stroke="#111" stroke-width="1"/>
<text x="77.3" y="421.99" text-anchor="middle" style="font-size:8.9px">10</text>
<line x1="94.55" y1="408.6" x2="94.55" y2="411.2" stroke="#111" stroke-width="1"/>
<text x="94.55" y="421.99" text-anchor="middle" style="font-size:8.9px">15</text>
<line x1="111.8" y1="408.6" x2="111.8" y2="411.2" stroke="#111" stroke-width="1"/>
<text x="111.8" y="421.99" text-anchor="middle" style="font-size:8.9px">20</text>
<line x1="129.05" y1="408.6" x2="129.05" y2="411.2" stroke="#111" stroke-width="1"/>
<text x="129.05" y="421.99" text-anchor="middle" style="font-size:8.9px">25</text>
<text x="14.1" y="365.3" text-anchor="middle" transform="rotate(-90 14.1 365.3)" style="font-size:9.1px">CD160 in IT (IOD/Area)</text>
<text x="83.5" y="433.3" text-anchor="middle" style="font-size:8.85px">Diameter of tumor (CM)</text>
<text x="86" y="324" style="font-size:9px"><tspan font-style="italic">r</tspan> = &#8211;0.1365</text>
<text x="82.5" y="333.4" style="font-size:9px"><tspan font-style="italic">P</tspan> = 0.0412</text>
<text x="141.2" y="305.5" style="font-size:12.6px;font-weight:bold;fill:#000" stroke="#000" stroke-width="0.45">F</text>
<path d="M176.65 379.77a1.85 1.85 0 1 0 3.7 0a1.85 1.85 0 1 0 -3.7 0M176.65 392.12a1.85 1.85 0 1 0 3.7 0a1.85 1.85 0 1 0 -3.7 0M176.65 406.1a1.85 1.85 0 1 0 3.7 0a1.85 1.85 0 1 0 -3.7 0M176.65 408.05a1.85 1.85 0 1 0 3.7 0a1.85 1.85 0 1 0 -3.7 0M176.65 409.02a1.85 1.85 0 1 0 3.7 0a1.85 1.85 0 1 0 -3.7 0M176.65 409.68a1.85 1.85 0 1 0 3.7 0a1.85 1.85 0 1 0 -3.7 0M176.65 410a1.85 1.85 0 1 0 3.7 0a1.85 1.85 0 1 0 -3.7 0M196.35 402.85a1.85 1.85 0 1 0 3.7 0a1.85 1.85 0 1 0 -3.7 0M196.35 408.05a1.85 1.85 0 1 0 3.7 0a1.85 1.85 0 1 0 -3.7 0M196.35 409.02a1.85 1.85 0 1 0 3.7 0a1.85 1.85 0 1 0 -3.7 0M196.35 409.68a1.85 1.85 0 1 0 3.7 0a1.85 1.85 0 1 0 -3.7 0M196.35 410a1.85 1.85 0 1 0 3.7 0a1.85 1.85 0 1 0 -3.7 0M216.05 359.62a1.85 1.85 0 1 0 3.7 0a1.85 1.85 0 1 0 -3.7 0M216.05 381.4a1.85 1.85 0 1 0 3.7 0a1.85 1.85 0 1 0 -3.7 0M216.05 382.05a1.85 1.85 0 1 0 3.7 0a1.85 1.85 0 1 0 -3.7 0M216.05 397.98a1.85 1.85 0 1 0 3.7 0a1.85 1.85 0 1 0 -3.7 0M216.05 409.02a1.85 1.85 0 1 0 3.7 0a1.85 1.85 0 1 0 -3.7 0M216.05 409.68a1.85 1.85 0 1 0 3.7 0a1.85 1.85 0 1 0 -3.7 0M216.05 410a1.85 1.85 0 1 0 3.7 0a1.85 1.85 0 1 0 -3.7 0M235.75 399.27a1.85 1.85 0 1 0 3.7 0a1.85 1.85 0 1 0 -3.7 0M235.75 407.4a1.85 1.85 0 1 0 3.7 0a1.85 1.85 0 1 0 -3.7 0M235.75 409.68a1.85 1.85 0 1 0 3.7 0a1.85 1.85 0 1 0 -3.7 0M235.75 410a1.85 1.85 0 1 0 3.7 0a1.85 1.85 0 1 0 -3.7 0M255.45 345.98a1.85 1.85 0 1 0 3.7 0a1.85 1.85 0 1 0 -3.7 0M255.45 364.5a1.85 1.85 0 1 0 3.7 0a1.85 1.85 0 1 0 -3.7 0M255.45 400.25a1.85 1.85 0 1 0 3.7 0a1.85 1.85 0 1 0 -3.7 0M255.45 406.1a1.85 1.85 0 1 0 3.7 0a1.85 1.85 0 1 0 -3.7 0M255.45 406.75a1.85 1.85 0 1 0 3.7 0a1.85 1.85 0 1 0 -3.7 0M255.45 409.68a1.85 1.85 0 1 0 3.7 0a1.85 1.85 0 1 0 -3.7 0M255.45 410a1.85 1.85 0 1 0 3.7 0a1.85 1.85 0 1 0 -3.7 0" fill="none" stroke="#111" stroke-width="0.9"/>
<line x1="178.5" y1="407.4" x2="257.3" y2="389.52" stroke="#111" stroke-width="0.85"/>
<line x1="178.5" y1="328.25" x2="178.5" y2="410.5" stroke="#111" stroke-width="1.15"/>
<line x1="175.9" y1="410" x2="178.5" y2="410" stroke="#111" stroke-width="1"/>
<text x="175.1" y="413.2" text-anchor="end" style="font-size:8.9px">0.000</text>
<line x1="175.9" y1="393.75" x2="178.5" y2="393.75" stroke="#111" stroke-width="1"/>
<text x="175.1" y="396.95" text-anchor="end" style="font-size:8.9px">0.005</text>
<line x1="175.9" y1="377.5" x2="178.5" y2="377.5" stroke="#111" stroke-width="1"/>
<text x="175.1" y="380.7" text-anchor="end" style="font-size:8.9px">0.010</text>
<line x1="175.9" y1="361.25" x2="178.5" y2="361.25" stroke="#111" stroke-width="1"/>
<text x="175.1" y="364.45" text-anchor="end" style="font-size:8.9px">0.015</text>
<line x1="175.9" y1="345" x2="178.5" y2="345" stroke="#111" stroke-width="1"/>
<text x="175.1" y="348.2" text-anchor="end" style="font-size:8.9px">0.020</text>
<line x1="175.9" y1="328.75" x2="178.5" y2="328.75" stroke="#111" stroke-width="1"/>
<text x="175.1" y="331.95" text-anchor="end" style="font-size:8.9px">0.025</text>
<line x1="178" y1="410" x2="258.8" y2="410" stroke="#111" stroke-width="1.2"/>
<line x1="178.5" y1="410" x2="178.5" y2="412.6" stroke="#111" stroke-width="1"/>
<text x="178.5" y="423.39" text-anchor="middle" style="font-size:8.9px">0</text>
<line x1="198.2" y1="410" x2="198.2" y2="412.6" stroke="#111" stroke-width="1"/>
<text x="198.2" y="423.39" text-anchor="middle" style="font-size:8.9px">1</text>
<line x1="217.9" y1="410" x2="217.9" y2="412.6" stroke="#111" stroke-width="1"/>
<text x="217.9" y="423.39" text-anchor="middle" style="font-size:8.9px">2</text>
<line x1="237.6" y1="410" x2="237.6" y2="412.6" stroke="#111" stroke-width="1"/>
<text x="237.6" y="423.39" text-anchor="middle" style="font-size:8.9px">3</text>
<line x1="257.3" y1="410" x2="257.3" y2="412.6" stroke="#111" stroke-width="1"/>
<text x="257.3" y="423.39" text-anchor="middle" style="font-size:8.9px">4</text>
<text x="145.9" y="368.3" text-anchor="middle" transform="rotate(-90 145.9 368.3)" style="font-size:8.93px">CD160 in IT (IOD/Area)</text>
<text x="220" y="433.5" text-anchor="middle" style="font-size:8.85px">Immune scores</text>
<text x="183" y="333.6" style="font-size:9px"><tspan font-style="italic">r</tspan> = 0.4402</text>
<text x="183" y="341.8" style="font-size:9px"><tspan font-style="italic">P</tspan> = 0.0028</text>
<text x="394.5" y="18.8" style="font-size:12.6px;font-weight:bold;fill:#000" stroke="#000" stroke-width="0.45">B</text>
<rect x="437.4" y="95.96" width="24.8" height="43.54" fill="#dadde5"/>
<path d="M439.13 88.33h0M440.72 88.71h0M442.45 89.06h0M444.08 89.28h0M445.82 89.88h0M447.3 90.14h0M448.89 90.45h0M450.73 90.55h0M452.37 90.02h0M453.89 89.89h0M455.53 89.55h0M457.35 89.23h0M458.96 88.75h0M460.53 88.29h0M439.19 84.73h0M440.87 85.13h0M442.35 85.62h0M444.02 85.87h0M445.62 86.08h0M447.28 86.48h0M448.85 86.75h0M450.73 86.87h0M452.41 86.42h0M453.79 86.09h0M455.5 85.75h0M457.13 85.42h0M458.87 84.93h0M460.65 84.59h0M438.94 81.11h0M440.66 81.41h0M442.39 81.83h0M443.99 82.24h0M445.82 82.67h0M447.38 82.99h0M449.02 83.3h0M450.48 83.22h0M452.26 82.87h0M453.83 82.56h0M455.55 82.19h0M457.18 82.1h0M458.9 81.7h0M460.55 81.07h0M438.99 77.31h0M440.85 77.73h0M442.45 78.45h0M443.98 78.62h0M445.63 79.03h0M447.24 79.4h0M449.03 79.52h0M450.68 79.48h0M452.21 79.45h0M454 79h0M455.54 78.86h0M457.28 78.33h0M458.98 78.02h0M460.42 77.48h0M439.22 73.73h0M440.86 74.51h0M442.27 74.62h0M443.96 75.22h0M445.57 75.56h0M447.24 75.9h0M448.88 75.89h0M450.71 75.83h0M452.26 75.75h0M453.91 75.3h0M455.49 75.16h0M457.17 74.94h0M458.9 74.18h0M460.5 73.87h0M438.99 70.26h0M440.69 70.84h0M442.24 71.23h0M443.95 71.58h0M445.73 71.82h0M447.46 72.04h0M448.88 72.53h0M450.5 72.59h0M452.3 72.28h0M453.98 71.79h0M455.6 71.59h0M457.31 71.33h0M458.89 70.94h0M460.49 70.41h0M438.96 66.84h0M440.66 67.3h0M442.29 67.5h0M443.92 68.06h0M445.71 68.2h0M447.2 68.57h0M448.87 69.05h0M450.63 68.99h0M452.13 68.73h0M453.94 68.22h0M455.48 67.82h0M457.29 67.66h0M459.01 67.31h0M460.41 66.89h0M439.13 63.26h0M440.73 63.5h0M442.41 63.83h0M444.02 64.2h0M445.61 64.64h0M447.36 64.85h0M448.94 65.11h0M450.6 65.42h0M452.38 65.07h0M453.9 64.85h0M455.46 64.51h0M457.13 63.89h0M459 63.63h0M460.45 63.13h0M439.06 136h0M440.73 136.47h0M442.48 136.9h0M443.97 137.36h0M445.69 137.73h0M447.2 138.21h0M449.02 138.22h0M450.6 138.4h0M452.19 138.22h0M453.85 137.64h0M455.68 137.34h0M457.1 137.17h0M459 136.67h0M460.59 136.03h0M438.99 132.48h0M440.8 133.09h0M442.25 133.39h0M443.96 133.73h0M445.68 134.07h0M447.22 134.51h0M449.08 134.6h0M450.48 134.57h0M452.21 134.51h0M453.93 134.24h0M455.68 134.03h0M457.1 133.54h0M458.95 133.19h0M460.65 132.48h0" stroke="#2448a0" stroke-width="2.24" stroke-linecap="round"/>
<path d="M450.9 36.3h0M447.89 37.55h0M451.51 37.56h0M448.29 41.11h0M450.2 42.85h0M441.6 49.62h0M445.27 50.01h0M448.96 50.34h0M452.9 50.35h0M456.51 50.27h0M460.12 49.94h0M447.59 52.96h0M451.03 53.67h0M454.94 52.75h0M441.42 55.81h0M445.3 56.15h0M448.99 56.58h0M452.59 56.6h0M456.4 56.3h0M459.89 55.97h0M442.95 58.88h0M446.68 59.21h0M450.41 59.41h0M454.15 59.1h0M457.64 58.86h0M439.19 61.64h0M442.79 62.07h0M446.23 62.16h0M449.82 62.33h0M453.3 62.06h0M457.04 61.87h0M460.62 61.74h0M439.08 93.56h0M442.72 93.97h0M446.16 94.32h0M449.88 94.17h0M453.48 94.16h0M456.98 93.71h0M460.51 93.46h0M439.67 97.33h0M443.31 97.72h0M446.86 97.86h0M450.57 97.78h0M454.47 97.41h0M458.21 97.01h0M441.57 99.24h0M445.29 99.8h0M449.03 100.11h0M452.51 100.08h0M456.24 99.71h0M460.08 99.38h0M443.21 101.81h0M446.79 102.1h0M450.4 102.43h0M454.22 102.49h0M458.03 102.01h0M443.2 105.18h0M446.72 105.74h0M450.38 105.85h0M454.25 105.5h0M457.85 105.24h0M441.82 108.24h0M445.57 108.49h0M449.49 108.91h0M453 108.85h0M456.85 108.52h0M460.57 108.21h0M439.07 111.79h0M442.78 112.14h0M446.63 112.44h0M450.06 112.28h0M453.77 111.97h0M457.52 111.72h0M439.1 114.93h0M442.07 115.16h0M445.06 115.58h0M448.41 115.81h0M451.36 115.62h0M454.41 115.7h0M457.39 115.21h0M460.39 115.08h0M443.8 117.98h0M447.38 118.35h0M451.09 118.58h0M454.84 117.69h0M447.35 121.01h0M451.01 121.91h0M454.94 121.21h0M447.14 126.08h0M450.6 126.92h0M454.48 126.11h0M439.02 128.88h0M442.66 129.32h0M446.36 129.51h0M449.7 129.59h0M453.28 129.28h0M456.83 129.04h0M460.49 129h0M439.21 131.12h0M442.13 131.31h0M445.13 131.4h0M448.17 131.53h0M451.29 131.78h0M454.33 131.51h0M457.54 131.37h0M460.41 130.98h0" stroke="#2448a0" stroke-width="2.55" stroke-linecap="round"/>
<line x1="447.3" y1="95.96" x2="452.3" y2="95.96" stroke="#d87f86" stroke-width="0.8"/>
<rect x="474.1" y="121.03" width="24.8" height="18.47" fill="#dadde5"/>
<path d="M475.74 114.44h0M477.87 114.73h0M479.62 115.58h0M481.69 115.99h0M483.48 116.17h0M485.52 116.68h0M487.51 116.54h0M489.56 116.21h0M491.49 115.88h0M493.33 115.49h0M495.29 114.86h0M497.27 114.47h0M475.74 110.74h0M477.66 111.27h0M479.69 111.82h0M481.64 112.32h0M483.43 112.75h0M485.62 112.85h0M487.56 113.02h0M489.54 112.83h0M491.5 112.18h0M493.42 111.64h0M495.41 111.33h0M497.33 110.71h0M475.64 136.37h0M477.56 136.73h0M479.05 137.14h0M480.58 137.21h0M482.29 137.73h0M484.15 138h0M485.56 138.47h0M487.25 138.49h0M488.98 138.12h0M490.64 137.72h0M492.23 137.57h0M493.89 136.89h0M495.49 136.81h0M497.16 136.16h0M475.68 132.8h0M477.37 133.24h0M479.17 133.61h0M480.78 133.76h0M482.37 134.21h0M483.96 134.63h0M485.72 134.93h0M487.18 134.87h0M489.09 134.56h0M490.57 134.19h0M492.35 133.72h0M493.95 133.43h0M495.45 132.97h0M497.36 132.78h0M475.91 129.06h0M477.49 129.6h0M478.96 129.91h0M480.75 130.27h0M482.33 130.42h0M484.04 130.71h0M485.78 131.02h0M487.46 131.29h0M488.88 130.95h0M490.74 130.4h0M492.22 130.15h0M494.05 130.01h0M495.58 129.35h0M497.27 129.07h0M475.85 125.57h0M477.39 125.75h0M479.1 126.16h0M480.61 126.7h0M482.23 127.19h0M484.17 127.46h0M485.57 127.48h0M487.27 127.47h0M489.01 127.31h0M490.51 127.18h0M492.36 126.71h0M493.92 126.18h0M495.59 125.8h0M497.16 125.44h0M475.66 121.92h0M477.55 122.44h0M479.02 122.88h0M480.66 123.03h0M482.27 123.55h0M484.01 123.78h0M485.75 123.89h0M487.22 124.16h0M488.86 123.83h0M490.77 123.38h0M492.4 123.05h0M493.93 122.85h0M495.55 122.25h0M497.31 122h0" stroke="#f5b826" stroke-width="2.24" stroke-linecap="round"/>
<path d="M485.54 36.25h0M481.48 53.56h0M485.24 54.03h0M488.86 53.39h0M485.18 62.22h0M484.23 64.97h0M487.96 65.1h0M481.09 68.66h0M484.89 69.22h0M488.63 69.15h0M492.17 68.63h0M480.06 74.68h0M483.65 75.39h0M487.37 75.38h0M491.12 74.67h0M483.11 79.36h0M486.68 79.38h0M483.07 84.38h0M486.97 84.12h0M481.97 89.05h0M485.85 89.51h0M489.45 89.38h0M493.18 89.06h0M480.49 91.76h0M484.22 91.96h0M488.06 92.25h0M491.74 91.92h0M495.3 91.76h0M479.05 94.3h0M482.86 94.97h0M486.51 95.28h0M490.06 94.92h0M493.73 94.29h0M476.18 97.37h0M479.92 97.52h0M483.54 97.99h0M487.42 97.87h0M490.85 97.39h0M494.66 97.08h0M478.13 99.95h0M481.71 100.2h0M485.53 100.62h0M489.09 100.46h0M493 100.44h0M496.57 99.83h0M475.77 102.69h0M479.25 102.98h0M482.9 103.33h0M486.44 103.59h0M490.15 103.12h0M493.72 103.08h0M497.27 102.86h0M476.49 105.33h0M480.12 105.84h0M483.8 106.18h0M487.58 106.15h0M491.47 105.8h0M495.14 105.59h0M475.89 109.04h0M479.36 109.42h0M482.95 109.46h0M486.61 109.77h0M490.13 109.62h0M493.71 109.32h0M497.17 108.88h0M482.8 118.56h0M486.3 119.39h0M490.16 119.29h0M493.86 118.61h0" stroke="#f5b826" stroke-width="2.55" stroke-linecap="round"/>
<line x1="484" y1="121.03" x2="489" y2="121.03" stroke="#d87f86" stroke-width="0.8"/>
<line x1="430.5" y1="28.76" x2="430.5" y2="140" stroke="#111" stroke-width="1.15"/>
<line x1="427.9" y1="139.5" x2="430.5" y2="139.5" stroke="#111" stroke-width="1"/>
<text x="427.1" y="142.34" text-anchor="end" style="font-size:7.9px">0.00</text>
<line x1="427.9" y1="111.94" x2="430.5" y2="111.94" stroke="#111" stroke-width="1"/>
<text x="427.1" y="114.78" text-anchor="end" style="font-size:7.9px">0.01</text>
<line x1="427.9" y1="84.38" x2="430.5" y2="84.38" stroke="#111" stroke-width="1"/>
<text x="427.1" y="87.22" text-anchor="end" style="font-size:7.9px">0.02</text>
<line x1="427.9" y1="56.82" x2="430.5" y2="56.82" stroke="#111" stroke-width="1"/>
<text x="427.1" y="59.66" text-anchor="end" style="font-size:7.9px">0.03</text>
<line x1="427.9" y1="29.26" x2="430.5" y2="29.26" stroke="#111" stroke-width="1"/>
<text x="427.1" y="32.1" text-anchor="end" style="font-size:7.9px">0.04</text>
<line x1="430" y1="139.5" x2="505.5" y2="139.5" stroke="#111" stroke-width="1.2"/>
<text x="449.5" y="150.6" text-anchor="middle" style="font-size:8.6px">PT</text>
<text x="486.5" y="150.6" text-anchor="middle" style="font-size:8.6px">IT</text>
<text x="405.6" y="83.2" text-anchor="middle" transform="rotate(-90 405.6 83.2)" style="font-size:8.2px">CD160 (IOD/Area)</text>
<line x1="449.8" y1="28.8" x2="486.7" y2="28.8" stroke="#222" stroke-width="1.1"/>
<text x="468.5" y="29.22" text-anchor="middle" style="font-size:11.5px;font-weight:bold">****</text>
<text x="267.5" y="305.5" style="font-size:12.6px;font-weight:bold;fill:#000" stroke="#000" stroke-width="0.45">G</text>
<rect x="311.4" y="406.7" width="24.8" height="14.9" fill="#dadde5"/>
<path d="M312.97 414.36h0M314.8 414.78h0M316.32 415.21h0M318.1 415.48h0M319.81 415.96h0M321.37 416.04h0M323.05 416.22h0M324.75 416.2h0M326.18 416.08h0M328.04 415.93h0M329.7 415.45h0M331.36 415.14h0M332.73 414.87h0M334.41 414.31h0M313.07 417.52h0M314.71 417.96h0M316.51 418.64h0M318.03 419.08h0M319.69 419.16h0M321.34 419.75h0M322.87 419.91h0M324.48 419.86h0M326.15 419.5h0M327.79 419.05h0M329.57 419.01h0M331.11 418.62h0M332.94 418.31h0M334.43 417.71h0" stroke="#2448a0" stroke-width="2.24" stroke-linecap="round"/>
<path d="M322.63 348.11h0M324.01 354.56h0M323.4 365.13h0M319.99 370.79h0M323.73 371.48h0M327.46 371.09h0M331.03 370.92h0M321.97 373.82h0M325.57 374.05h0M320.34 378.06h0M324.07 377.98h0M321.74 381.99h0M325.31 382.01h0M320.6 384.79h0M324.22 384.93h0M325.32 387.37h0M324.85 391.95h0M316.94 392.96h0M320.79 393.22h0M324.48 393.46h0M328.13 392.62h0M315.3 394.7h0M318.82 395.21h0M322.67 395.6h0M326.31 395.29h0M330.2 394.91h0M318.26 395.8h0M322.03 396.57h0M325.79 396.5h0M329.47 396.05h0M316.36 399.37h0M320.04 399.73h0M323.69 400.06h0M327.41 400h0M331.06 399.46h0M319.95 402.14h0M323.59 403.05h0M327.31 402.28h0M313.14 404.13h0M316.7 404.48h0M320.24 404.7h0M323.73 405.01h0M327.25 404.66h0M330.96 404.56h0M334.55 404.25h0M316.02 407.06h0M319.63 407.27h0M323.53 407.41h0M327.18 407.28h0M330.92 407.23h0M334.36 406.98h0M317.51 409.91h0M321.3 410.32h0M324.97 410.28h0M328.62 409.6h0M313.16 411.8h0M316.21 412.35h0M319.25 412.65h0M322.17 412.81h0M325.45 412.93h0M328.45 412.65h0M331.45 412.16h0M334.62 411.68h0" stroke="#2448a0" stroke-width="2.55" stroke-linecap="round"/>
<line x1="321.3" y1="406.7" x2="326.3" y2="406.7" stroke="#d87f86" stroke-width="0.8"/>
<rect x="347.1" y="398.67" width="24.8" height="22.93" fill="#dadde5"/>
<path d="M348.89 394.69h0M351.03 395.04h0M353.07 395.39h0M355.24 395.77h0M357.25 395.95h0M359.62 396.05h0M361.62 395.95h0M363.92 395.83h0M365.85 395.4h0M368.2 395.05h0M370.13 394.6h0M348.88 396.97h0M351.19 397.37h0M353.6 397.86h0M356.05 397.87h0M358.42 398.13h0M360.79 398.32h0M363.07 398.06h0M365.41 397.54h0M367.85 397.13h0M370.15 396.7h0M348.84 418.18h0M350.31 418.83h0M352.01 419.27h0M353.59 419.61h0M355.4 419.8h0M356.97 420.23h0M358.72 420.19h0M360.21 420.5h0M361.84 420.07h0M363.57 419.76h0M365.22 419.44h0M366.83 419.05h0M368.62 418.67h0M370.15 418.08h0M348.64 415.61h0M350.49 416.02h0M352.15 416.35h0M353.84 416.7h0M355.28 417.21h0M356.92 417.37h0M358.62 417.52h0M360.2 417.83h0M361.94 417.56h0M363.48 416.92h0M365.14 416.75h0M367.03 416.23h0M368.65 415.99h0M370.18 415.53h0M348.69 412.79h0M350.43 413.13h0M352 413.46h0M353.75 414h0M355.42 414.35h0M357 414.74h0M358.71 415.08h0M360.24 414.93h0M361.85 414.82h0M363.56 414.51h0M365.14 413.88h0M367.04 413.72h0M368.52 413.18h0M370.35 412.63h0M348.86 410.11h0M350.37 410.4h0M352.18 410.91h0M353.84 411.18h0M355.38 411.83h0M356.95 412.08h0M358.55 412.29h0M360.28 412.12h0M361.94 411.78h0M363.71 411.66h0M365.2 411.37h0M366.81 411.03h0M368.67 410.58h0M370.12 409.92h0M348.87 407.45h0M350.35 407.8h0M352.09 408.07h0M353.76 408.58h0M355.38 408.78h0M356.94 409.22h0M358.73 409.43h0M360.18 409.4h0M361.94 409.08h0M363.63 408.9h0M365.27 408.51h0M366.84 408.38h0M368.55 407.79h0M370.24 407.48h0M348.77 404.74h0M350.3 405.23h0M352.08 405.54h0M353.72 405.73h0M355.29 406.1h0M356.97 406.59h0M358.67 406.76h0M360.26 406.58h0M362.08 406.35h0M363.5 406.18h0M365.41 406.03h0M366.85 405.28h0M368.61 405.22h0M370.27 404.71h0" stroke="#f5b826" stroke-width="2.24" stroke-linecap="round"/>
<path d="M358.31 313.97h0M354.62 328.22h0M358.19 328.88h0M361.93 328.46h0M358.77 331.36h0M362.56 331.47h0M358.87 340.88h0M358.53 344.13h0M359.44 345.58h0M360.99 348.94h0M361.13 350.82h0M353.93 354.59h0M357.83 355.5h0M361.42 354.54h0M354.89 358.7h0M358.73 359.23h0M362.41 358.56h0M360.57 365.16h0M357.4 369.51h0M361 369.29h0M349.96 376.97h0M353.57 377.56h0M357.25 377.59h0M361.21 377.77h0M364.79 377.47h0M368.65 376.9h0M353.17 380.68h0M356.74 381.07h0M360.36 381.66h0M364.17 381h0M367.78 380.73h0M355.25 384.16h0M359.04 385.08h0M362.83 384.25h0M355.52 389.37h0M359.34 389.83h0M362.94 389.9h0M366.67 389.35h0M356.82 392.93h0M360.56 393.47h0M364.06 392.76h0M357.28 400.38h0M361.23 401.09h0M364.88 400.55h0M356.71 402.43h0M360.37 402.87h0M364.08 402.16h0" stroke="#f5b826" stroke-width="2.55" stroke-linecap="round"/>
<line x1="357" y1="398.67" x2="362" y2="398.67" stroke="#d87f86" stroke-width="0.8"/>
<line x1="305.8" y1="306.46" x2="305.8" y2="422.1" stroke="#111" stroke-width="1.15"/>
<line x1="303.2" y1="421.6" x2="305.8" y2="421.6" stroke="#111" stroke-width="1"/>
<text x="302.4" y="424.59" text-anchor="end" style="font-size:8.3px">0.00</text>
<line x1="303.2" y1="392.94" x2="305.8" y2="392.94" stroke="#111" stroke-width="1"/>
<text x="302.4" y="395.93" text-anchor="end" style="font-size:8.3px">0.01</text>
<line x1="303.2" y1="364.28" x2="305.8" y2="364.28" stroke="#111" stroke-width="1"/>
<text x="302.4" y="367.27" text-anchor="end" style="font-size:8.3px">0.02</text>
<line x1="303.2" y1="335.62" x2="305.8" y2="335.62" stroke="#111" stroke-width="1"/>
<text x="302.4" y="338.61" text-anchor="end" style="font-size:8.3px">0.03</text>
<line x1="303.2" y1="306.96" x2="305.8" y2="306.96" stroke="#111" stroke-width="1"/>
<text x="302.4" y="309.95" text-anchor="end" style="font-size:8.3px">0.04</text>
<line x1="305.3" y1="421.6" x2="377.5" y2="421.6" stroke="#111" stroke-width="1.2"/>
<text x="284.9" y="363.5" text-anchor="middle" transform="rotate(-90 284.9 363.5)" style="font-size:8.4px">CD160 in IT (IOD/Area)</text>
<text x="323.1" y="433.6" text-anchor="middle" style="font-size:8.3px">III-IV</text>
<text x="359.1" y="433.6" text-anchor="middle" style="font-size:8.3px">I-II</text>
<text x="341.3" y="444.2" text-anchor="middle" style="font-size:7.9px">TNM Stage</text>
<line x1="323.1" y1="309.2" x2="359.4" y2="309.2" stroke="#222" stroke-width="1.1"/>
<text x="340.7" y="309.42" text-anchor="middle" style="font-size:11.3px;font-weight:bold">**</text>
<text x="392.5" y="305.5" style="font-size:12.6px;font-weight:bold;fill:#000" stroke="#000" stroke-width="0.45">H</text>
<rect x="437.6" y="401.72" width="24.8" height="18.48" fill="#dadde5"/>
<path d="M439.13 391.58h0M441.25 392.11h0M443.12 392.62h0M445.11 392.65h0M447.05 393.03h0M449.14 393.05h0M450.87 393.08h0M452.86 392.94h0M455 392.71h0M456.76 392.45h0M458.74 392.24h0M460.62 391.75h0M439.25 394.29h0M441.5 394.65h0M443.55 395.21h0M445.81 395.36h0M447.84 395.8h0M450.13 395.99h0M452.19 395.72h0M454.37 395.4h0M456.29 395.2h0M458.66 394.76h0M460.62 394.25h0M439.36 416.9h0M440.8 417.37h0M442.43 417.77h0M444.27 418.11h0M445.77 418.31h0M447.52 418.57h0M449.13 418.92h0M450.69 418.94h0M452.46 418.62h0M454.23 418.32h0M455.91 418.09h0M457.49 417.59h0M458.97 417.49h0M460.58 416.72h0M439.31 414.37h0M440.94 414.55h0M442.64 415.06h0M444.14 415.24h0M445.99 415.79h0M447.53 416.14h0M449.21 416.52h0M450.87 416.15h0M452.44 415.96h0M454.23 415.63h0M455.73 415.4h0M457.33 415.1h0M458.96 414.55h0M460.81 414.19h0M439.18 411.37h0M440.79 411.89h0M442.46 412.3h0M444.35 412.6h0M445.82 413.04h0M447.64 413.54h0M449.06 413.77h0M450.92 413.67h0M452.35 413.56h0M454.05 413.03h0M455.77 412.6h0M457.36 412.28h0M458.94 411.84h0M460.85 411.54h0M439.34 408.99h0M440.84 409.18h0M442.54 409.73h0M444.15 409.98h0M445.96 410.46h0M447.53 410.62h0M449.3 411.05h0M450.94 411.18h0M452.54 410.66h0M453.98 410.28h0M455.67 410.01h0M457.51 409.68h0M458.94 409.21h0M460.73 409.07h0M439.16 406.05h0M440.91 406.8h0M442.66 407.03h0M444.25 407.53h0M445.78 407.98h0M447.64 408.03h0M449.21 408.5h0M450.94 408.28h0M452.41 407.97h0M454.24 407.79h0M455.65 407.44h0M457.43 407.01h0M459.04 406.71h0M460.75 406.22h0M439.21 403.59h0M441.06 403.85h0M442.46 404.28h0M444.17 404.69h0M445.92 405.08h0M447.47 405.27h0M449.23 405.67h0M450.81 405.73h0M452.41 405.45h0M454.07 405.01h0M455.64 404.81h0M457.55 404.31h0M459 404.15h0M460.81 403.67h0" stroke="#2448a0" stroke-width="2.24" stroke-linecap="round"/>
<path d="M448.58 315.3h0M449.27 330.79h0M447.56 332.37h0M451.23 332.37h0M449.66 341.56h0M447.43 344.04h0M451.17 343.84h0M448.7 346.61h0M452.34 346.87h0M445.2 348.94h0M449.02 349.6h0M452.75 348.92h0M448.11 351.42h0M451.79 351.61h0M445.16 354.43h0M448.72 354.77h0M452.63 354.18h0M448.56 357.39h0M452.12 357.38h0M448.31 360.73h0M452.12 360.54h0M447.51 364.46h0M451.4 364.57h0M446.93 368.48h0M450.89 368.72h0M443.84 371.68h0M447.6 372.11h0M451.29 372.21h0M454.91 371.75h0M439.27 376.29h0M442.43 376.37h0M445.43 376.52h0M448.33 376.83h0M451.65 376.72h0M454.7 376.43h0M457.8 376.49h0M460.68 376.28h0M439.32 380.47h0M442.99 380.55h0M446.34 380.78h0M449.89 381.15h0M453.44 380.91h0M457.29 380.43h0M460.59 380.31h0M440.31 383.77h0M443.95 384.09h0M447.67 384.35h0M451.34 384.27h0M454.92 383.91h0M458.75 383.77h0M447.95 387.09h0M451.65 387.59h0M455.3 386.99h0M445.19 389.99h0M448.85 390.83h0M452.63 390.63h0M456.28 390.29h0M444.14 399.68h0M447.93 400.14h0M451.71 400.13h0M455.23 399.89h0M459.03 399.54h0M446.33 402.79h0M450.21 403.48h0M453.68 402.58h0" stroke="#2448a0" stroke-width="2.55" stroke-linecap="round"/>
<line x1="447.5" y1="401.72" x2="452.5" y2="401.72" stroke="#d87f86" stroke-width="0.8"/>
<rect x="475.1" y="411.8" width="24.8" height="8.4" fill="#dadde5"/>
<path d="M488.72 390.93h0M489.33 395.47h0M486.75 396.93h0M490.43 397.04h0M488.48 402.93h0M486.28 406.37h0M485.63 409.69h0M479.15 412.62h0M482.94 413.12h0M486.68 413.53h0M490.29 413.32h0M494.06 412.67h0M476.83 415.48h0M480.36 415.65h0M483.78 416.31h0M487.42 416.41h0M491.1 416.17h0M494.51 415.77h0M498.12 415.28h0M476.84 417.72h0M479.43 418.22h0M482.15 418.7h0M484.91 418.89h0M487.42 419.1h0M490.21 418.74h0M492.98 418.75h0M495.53 418.26h0M498.19 417.98h0" stroke="#f5b826" stroke-width="2.55" stroke-linecap="round"/>
<line x1="485" y1="411.8" x2="490" y2="411.8" stroke="#d87f86" stroke-width="0.8"/>
<line x1="430.8" y1="307.7" x2="430.8" y2="420.7" stroke="#111" stroke-width="1.15"/>
<line x1="428.2" y1="420.2" x2="430.8" y2="420.2" stroke="#111" stroke-width="1"/>
<text x="427.4" y="423.19" text-anchor="end" style="font-size:8.3px">0.00</text>
<line x1="428.2" y1="392.2" x2="430.8" y2="392.2" stroke="#111" stroke-width="1"/>
<text x="427.4" y="395.19" text-anchor="end" style="font-size:8.3px">0.01</text>
<line x1="428.2" y1="364.2" x2="430.8" y2="364.2" stroke="#111" stroke-width="1"/>
<text x="427.4" y="367.19" text-anchor="end" style="font-size:8.3px">0.02</text>
<line x1="428.2" y1="336.2" x2="430.8" y2="336.2" stroke="#111" stroke-width="1"/>
<text x="427.4" y="339.19" text-anchor="end" style="font-size:8.3px">0.03</text>
<line x1="428.2" y1="308.2" x2="430.8" y2="308.2" stroke="#111" stroke-width="1"/>
<text x="427.4" y="311.19" text-anchor="end" style="font-size:8.3px">0.04</text>
<line x1="430.3" y1="420.2" x2="506.3" y2="420.2" stroke="#111" stroke-width="1.2"/>
<text x="409.9" y="363.5" text-anchor="middle" transform="rotate(-90 409.9 363.5)" style="font-size:8.16px">CD160 in IT (IOD/Area)</text>
<text x="451.2" y="432.2" text-anchor="middle" style="font-size:7.8px">METS (&#8211;)</text>
<text x="491.2" y="432.2" text-anchor="middle" style="font-size:7.8px">METS (+)</text>
<text x="451.2" y="441.2" text-anchor="middle" style="font-size:7.9px">(<tspan font-style="italic">n</tspan> = 200)</text>
<text x="491.2" y="441.2" text-anchor="middle" style="font-size:7.9px">(<tspan font-style="italic">n</tspan> = 23)</text>
<line x1="448.7" y1="307.9" x2="485.6" y2="307.9" stroke="#222" stroke-width="1.1"/>
<text x="467.1" y="307.71" text-anchor="middle" style="font-size:10.3px;font-weight:bold">*</text>
<text x="2.5" y="451.4" style="font-size:12.6px;font-weight:bold;fill:#000" stroke="#000" stroke-width="0.45">I</text>
<rect x="49.6" y="560.28" width="24.8" height="10.92" fill="#dadde5"/>
<path d="M51.16 566.8h0M53.34 567.38h0M55.03 567.47h0M57.15 567.95h0M59.18 568.13h0M61.12 568.1h0M63.01 568.29h0M64.94 568.13h0M67.01 568.02h0M68.83 567.42h0M70.91 567.06h0M72.76 567.02h0M51.31 568.3h0M52.89 568.59h0M54.5 568.99h0M56.17 569.48h0M57.87 569.59h0M59.45 569.98h0M61.19 570.42h0M62.78 570.19h0M64.35 569.88h0M65.99 569.85h0M67.63 569.46h0M69.53 569.09h0M71.19 568.77h0M72.6 568.31h0" stroke="#2448a0" stroke-width="2.24" stroke-linecap="round"/>
<path d="M61.7 497.7h0M62.41 509.01h0M60.41 518.51h0M64.12 518.54h0M61.22 521.48h0M64.71 521.43h0M58.27 526.19h0M61.83 527.02h0M65.47 526.32h0M56.94 532.15h0M60.72 532.62h0M64.38 532.96h0M67.99 532.24h0M58.65 536.42h0M62.37 536.43h0M51.3 545.2h0M54.82 545.56h0M58.43 545.92h0M62.05 545.89h0M65.69 545.6h0M69.27 545.67h0M72.59 545.26h0M55.93 551.83h0M59.83 552.33h0M63.43 552.66h0M67.19 552.25h0M70.82 551.93h0M51.21 555.17h0M54.91 555.38h0M58.33 555.74h0M62.05 555.86h0M65.56 555.87h0M69.12 555.71h0M72.77 555.16h0M51.21 559.41h0M54.91 559.46h0M58.51 559.97h0M62.02 559.8h0M65.65 559.76h0M69.26 559.51h0M72.73 559.13h0M52.61 564.11h0M56.39 564.48h0M60.07 564.93h0M63.74 564.92h0M67.52 564.57h0M71.13 564.2h0" stroke="#2448a0" stroke-width="2.55" stroke-linecap="round"/>
<line x1="59.5" y1="560.28" x2="64.5" y2="560.28" stroke="#d87f86" stroke-width="0.8"/>
<rect x="88.1" y="550.21" width="24.8" height="20.99" fill="#dadde5"/>
<path d="M89.77 568.77h0M91.41 569.24h0M93.18 569.68h0M94.68 569.83h0M96.48 570.17h0M97.9 570.56h0M99.64 570.95h0M101.34 570.9h0M103.05 570.68h0M104.56 570.11h0M106.38 570.03h0M107.82 569.38h0M109.63 569.25h0M111.22 568.6h0M89.73 565.98h0M91.45 566.47h0M93.12 566.88h0M94.74 567.49h0M96.42 567.59h0M98.05 568.1h0M99.6 568.21h0M101.35 568.17h0M102.97 567.91h0M104.57 567.76h0M106.17 567.28h0M107.93 566.76h0M109.43 566.64h0M111.09 566.24h0M89.88 563.38h0M91.5 564.16h0M92.93 564.36h0M94.72 564.63h0M96.38 565.24h0M97.99 565.46h0M99.81 565.7h0M101.18 565.75h0M103.1 565.29h0M104.71 564.96h0M106.37 564.78h0M107.86 564.35h0M109.66 564.15h0M111.22 563.46h0M89.92 560.91h0M91.32 561.43h0M93.08 561.8h0M94.86 562.11h0M96.28 562.57h0M98 562.68h0M99.62 563.15h0M101.43 563.26h0M103.06 562.95h0M104.63 562.61h0M106.41 562.36h0M107.88 561.66h0M109.47 561.21h0M111.08 560.95h0M89.79 558.38h0M91.48 558.74h0M93.1 559.07h0M94.82 559.58h0M96.49 559.8h0M98.06 560.17h0M99.82 560.44h0M101.37 560.44h0M103.06 560.18h0M104.58 559.84h0M106.38 559.7h0M107.84 559.23h0M109.69 558.78h0M111.32 558.19h0" stroke="#f5b826" stroke-width="2.24" stroke-linecap="round"/>
<path d="M100.44 463.48h0M98.83 482.08h0M100.42 490.23h0M100.96 495.15h0M98.96 497.23h0M102.71 497.15h0M97.71 499.13h0M101.32 500.07h0M104.93 499.37h0M97.09 503.02h0M100.9 503.66h0M104.41 503.13h0M95.38 505.95h0M98.94 506.79h0M102.8 505.91h0M98.3 509.13h0M101.84 509.36h0M99.34 513.37h0M103.19 513.49h0M97.03 518.86h0M100.56 518.87h0M98.38 521.89h0M102.05 521.72h0M93.23 527.91h0M96.9 528.27h0M100.76 528.77h0M104.26 528.17h0M108.07 527.99h0M97.56 532.26h0M101.07 532.17h0M93.67 539.63h0M97.23 540.39h0M100.85 540.27h0M104.5 539.91h0M89.67 543.41h0M93.22 543.65h0M97.03 543.84h0M100.45 544.36h0M104.15 543.84h0M107.75 543.6h0M111.35 543.39h0M91.86 546.83h0M95.64 547.12h0M99.4 547.74h0M103.22 547.45h0M106.74 547.2h0M110.36 546.97h0M90.88 552.54h0M94.41 552.86h0M98.29 553.11h0M101.92 553.3h0M105.58 553.15h0M109.39 552.74h0M92.24 556.63h0M96.01 557.08h0M99.73 557.35h0M103.2 557.12h0M107.03 556.65h0" stroke="#f5b826" stroke-width="2.55" stroke-linecap="round"/>
<line x1="98" y1="550.21" x2="103" y2="550.21" stroke="#d87f86" stroke-width="0.8"/>
<line x1="42.5" y1="455.7" x2="42.5" y2="571.7" stroke="#111" stroke-width="1.15"/>
<line x1="39.9" y1="571.2" x2="42.5" y2="571.2" stroke="#111" stroke-width="1"/>
<text x="39.1" y="574.19" text-anchor="end" style="font-size:8.3px">0.00</text>
<line x1="39.9" y1="542.45" x2="42.5" y2="542.45" stroke="#111" stroke-width="1"/>
<text x="39.1" y="545.44" text-anchor="end" style="font-size:8.3px">0.01</text>
<line x1="39.9" y1="513.7" x2="42.5" y2="513.7" stroke="#111" stroke-width="1"/>
<text x="39.1" y="516.69" text-anchor="end" style="font-size:8.3px">0.02</text>
<line x1="39.9" y1="484.95" x2="42.5" y2="484.95" stroke="#111" stroke-width="1"/>
<text x="39.1" y="487.94" text-anchor="end" style="font-size:8.3px">0.03</text>
<line x1="39.9" y1="456.2" x2="42.5" y2="456.2" stroke="#111" stroke-width="1"/>
<text x="39.1" y="459.19" text-anchor="end" style="font-size:8.3px">0.04</text>
<line x1="42" y1="571.2" x2="117.5" y2="571.2" stroke="#111" stroke-width="1.2"/>
<text x="17.5" y="514" text-anchor="middle" transform="rotate(-90 17.5 514)" style="font-size:8.5px">CD160 in IT (IOD/Area)</text>
<text x="62.3" y="584.2" text-anchor="middle" style="font-size:7.9px">Survival</text>
<text x="62.3" y="593" text-anchor="middle" style="font-size:7.9px">(&#8211;)</text>
<text x="102.7" y="584.2" text-anchor="middle" style="font-size:7.9px">Survival</text>
<text x="102.7" y="593" text-anchor="middle" style="font-size:7.9px">(+)</text>
<line x1="61" y1="455.6" x2="100.7" y2="455.6" stroke="#222" stroke-width="1.1"/>
<text x="80.2" y="455.31" text-anchor="middle" style="font-size:10.3px;font-weight:bold">*</text>
</svg>
</body></html>
